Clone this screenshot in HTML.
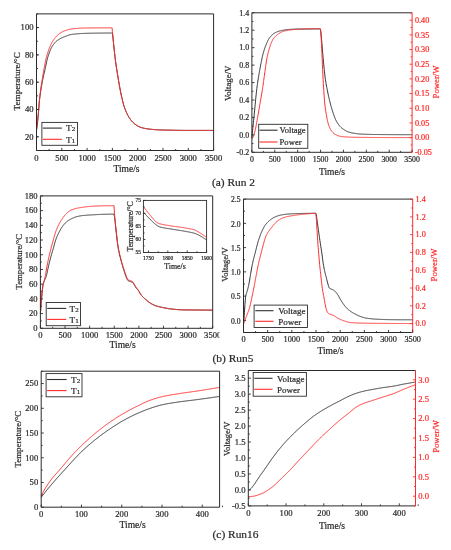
<!DOCTYPE html>
<html><head><meta charset="utf-8"><title>Figure</title>
<style>
html,body{margin:0;padding:0;background:#fff;}
body{width:451px;height:550px;overflow:hidden;}
svg{display:block;}
text{font-family:'Liberation Serif', serif;}
</style></head>
<body>
<svg width="451" height="550" viewBox="0 0 451 550">
<rect width="451" height="550" fill="#fff"/>
<g>
<polyline points="36.50,130.01 36.69,128.82 36.88,127.53 37.01,126.59 37.07,126.11 37.26,124.56 37.45,122.90 37.64,121.15 37.83,119.32 38.02,117.43 38.21,115.49 38.32,114.30 38.40,113.51 38.59,111.32 38.78,108.97 38.96,106.57 39.15,104.21 39.34,102.00 39.53,100.04 39.59,99.55 39.72,98.35 39.91,96.79 40.10,95.32 40.29,93.94 40.48,92.62 40.67,91.36 40.86,90.14 41.05,88.96 41.10,88.62 41.24,87.80 41.43,86.68 41.62,85.59 41.81,84.55 42.00,83.53 42.19,82.54 42.38,81.57 42.57,80.62 42.76,79.68 42.80,79.47 42.95,78.76 43.14,77.86 43.33,76.98 43.51,76.12 43.70,75.28 43.89,74.44 44.08,73.62 44.27,72.79 44.46,71.97 44.65,71.14 44.84,70.30 44.90,70.04 45.03,69.45 45.22,68.57 45.41,67.67 45.60,66.76 45.79,65.85 45.98,64.93 46.17,64.01 46.36,63.11 46.55,62.22 46.74,61.35 46.93,60.51 47.12,59.70 47.31,58.93 47.50,58.21 47.69,57.53 47.78,57.20 47.88,56.90 48.07,56.29 48.25,55.70 48.44,55.11 48.63,54.54 48.82,53.98 49.01,53.44 49.20,52.91 49.39,52.39 49.58,51.89 49.77,51.39 49.96,50.92 50.15,50.46 50.34,50.01 50.53,49.57 50.72,49.16 50.91,48.75 51.10,48.36 51.29,47.99 51.48,47.63 51.67,47.29 51.78,47.09 51.86,46.96 52.05,46.65 52.24,46.33 52.43,46.03 52.62,45.73 52.80,45.44 52.99,45.15 53.18,44.87 53.37,44.60 53.56,44.34 53.75,44.08 53.94,43.82 54.13,43.58 54.32,43.34 54.51,43.11 54.70,42.89 54.89,42.67 55.08,42.46 55.27,42.26 55.46,42.06 55.65,41.88 55.84,41.70 56.03,41.52 56.22,41.36 56.39,41.22 56.41,41.20 56.60,41.05 56.79,40.90 56.98,40.75 57.17,40.61 57.36,40.47 57.54,40.33 57.73,40.20 57.92,40.07 58.11,39.94 58.30,39.81 58.49,39.69 58.68,39.57 58.87,39.45 59.06,39.33 59.25,39.22 59.44,39.11 59.63,39.00 59.82,38.89 60.01,38.79 60.20,38.68 60.39,38.58 60.58,38.48 60.77,38.38 60.96,38.29 61.15,38.19 61.34,38.10 61.53,38.01 61.72,37.92 61.91,37.83 62.09,37.74 62.28,37.66 62.47,37.57 62.66,37.49 62.85,37.41 63.04,37.32 63.23,37.24 63.42,37.16 63.52,37.12 63.61,37.08 63.80,37.00 63.99,36.92 64.18,36.85 64.37,36.77 64.56,36.69 64.75,36.61 64.94,36.53 65.13,36.45 65.32,36.37 65.51,36.30 65.70,36.22 65.89,36.14 66.08,36.07 66.27,35.99 66.46,35.92 66.65,35.85 66.83,35.77 67.02,35.70 67.21,35.63 67.40,35.56 67.59,35.49 67.78,35.43 67.97,35.36 68.16,35.30 68.35,35.23 68.54,35.17 68.73,35.11 68.92,35.05 69.11,35.00 69.30,34.94 69.49,34.89 69.68,34.84 69.87,34.79 70.06,34.74 70.25,34.69 70.44,34.65 70.63,34.61 70.82,34.57 71.01,34.53 71.20,34.50 71.38,34.47 71.57,34.44 71.76,34.41 71.92,34.39 71.95,34.39 72.14,34.36 72.33,34.34 72.52,34.32 72.71,34.29 72.90,34.27 73.09,34.25 73.28,34.23 73.47,34.20 73.66,34.18 73.85,34.16 74.04,34.14 74.23,34.12 74.42,34.10 74.61,34.08 74.80,34.06 74.99,34.04 75.18,34.02 75.37,34.00 75.56,33.98 75.75,33.96 75.94,33.94 76.12,33.93 76.31,33.91 76.50,33.89 76.69,33.87 76.88,33.86 77.07,33.84 77.26,33.82 77.45,33.81 77.64,33.79 77.83,33.77 78.02,33.76 78.21,33.74 78.40,33.73 78.59,33.71 78.78,33.70 78.97,33.68 79.16,33.67 79.35,33.66 79.54,33.64 79.73,33.63 79.92,33.62 80.11,33.60 80.30,33.59 80.49,33.58 80.67,33.56 80.86,33.55 81.05,33.54 81.24,33.53 81.43,33.52 81.62,33.51 81.81,33.50 82.00,33.49 82.19,33.48 82.38,33.47 82.57,33.46 82.76,33.45 82.95,33.44 83.14,33.43 83.33,33.42 83.52,33.41 83.71,33.40 83.90,33.40 84.09,33.39 84.28,33.38 84.47,33.37 84.66,33.37 84.85,33.36 85.04,33.35 85.23,33.35 85.41,33.34 85.60,33.33 85.79,33.33 85.98,33.32 86.17,33.32 86.36,33.31 86.55,33.31 86.74,33.30 86.93,33.30 87.10,33.30 87.12,33.30 87.31,33.29 87.50,33.29 87.69,33.29 87.88,33.28 88.07,33.28 88.26,33.27 88.45,33.27 88.64,33.27 88.83,33.26 89.02,33.26 89.21,33.26 89.40,33.25 89.59,33.25 89.78,33.25 89.96,33.24 90.15,33.24 90.34,33.24 90.53,33.23 90.72,33.23 90.91,33.22 91.10,33.22 91.29,33.22 91.48,33.21 91.67,33.21 91.86,33.21 92.05,33.21 92.24,33.20 92.43,33.20 92.62,33.20 92.81,33.19 93.00,33.19 93.19,33.19 93.38,33.18 93.57,33.18 93.76,33.18 93.95,33.17 94.14,33.17 94.33,33.17 94.51,33.17 94.70,33.16 94.89,33.16 95.08,33.16 95.27,33.15 95.46,33.15 95.65,33.15 95.84,33.15 96.03,33.14 96.22,33.14 96.41,33.14 96.60,33.14 96.79,33.13 96.98,33.13 97.17,33.13 97.36,33.13 97.55,33.12 97.74,33.12 97.93,33.12 98.12,33.12 98.31,33.11 98.50,33.11 98.69,33.11 98.88,33.11 99.07,33.10 99.25,33.10 99.44,33.10 99.63,33.10 99.82,33.10 100.01,33.09 100.20,33.09 100.39,33.09 100.58,33.09 100.77,33.09 100.96,33.08 101.15,33.08 101.34,33.08 101.53,33.08 101.72,33.08 101.91,33.07 102.10,33.07 102.29,33.07 102.48,33.07 102.67,33.07 102.86,33.07 103.05,33.06 103.24,33.06 103.43,33.06 103.62,33.06 103.80,33.06 103.99,33.06 104.18,33.05 104.37,33.05 104.56,33.05 104.75,33.05 104.94,33.05 105.13,33.05 105.32,33.05 105.51,33.05 105.70,33.04 105.89,33.04 106.08,33.04 106.27,33.04 106.46,33.04 106.65,33.04 106.84,33.04 107.03,33.04 107.22,33.04 107.41,33.03 107.60,33.03 107.79,33.03 107.98,33.03 108.17,33.03 108.36,33.03 108.54,33.03 108.73,33.03 108.92,33.03 109.11,33.03 109.30,33.03 109.49,33.03 109.68,33.03 109.87,33.03 110.06,33.03 110.25,33.03 110.44,33.03 110.63,33.03 110.82,33.02 111.01,33.02 111.20,33.02 111.39,33.02 111.58,33.02 111.77,33.02 111.96,33.02 112.15,33.02" fill="none" stroke="#303030" stroke-width="1.0" stroke-linejoin="round"/>
<polyline points="112.15,33.02 112.25,33.02 112.40,33.02 112.66,34.55 112.91,37.08 113.16,39.50 113.31,40.95 113.42,42.04 113.67,44.59 113.93,47.09 114.18,49.51 114.42,51.74 114.44,51.84 114.69,54.10 114.94,56.30 115.20,58.43 115.45,60.48 115.71,62.42 115.74,62.67 115.96,64.26 116.22,66.00 116.47,67.68 116.72,69.31 116.98,70.91 117.23,72.49 117.41,73.59 117.49,74.08 117.74,75.66 118.00,77.23 118.25,78.78 118.50,80.31 118.76,81.81 119.01,83.28 119.27,84.71 119.28,84.80 119.52,86.11 119.78,87.50 120.03,88.86 120.28,90.20 120.54,91.51 120.79,92.77 121.05,93.99 121.30,95.15 121.31,95.18 121.55,96.29 121.81,97.42 122.06,98.53 122.32,99.62 122.57,100.69 122.83,101.73 123.08,102.74 123.33,103.71 123.59,104.63 123.84,105.51 124.10,106.32 124.35,107.08 124.39,107.20 124.61,107.79 124.86,108.49 125.11,109.16 125.37,109.82 125.62,110.46 125.88,111.08 126.13,111.68 126.39,112.27 126.64,112.84 126.89,113.39 127.15,113.93 127.40,114.45 127.66,114.95 127.91,115.44 128.17,115.91 128.42,116.36 128.67,116.80 128.93,117.22 129.18,117.63 129.44,118.02 129.60,118.26 129.69,118.39 129.95,118.75 130.20,119.11 130.45,119.46 130.71,119.79 130.96,120.12 131.22,120.44 131.47,120.75 131.73,121.05 131.98,121.35 132.23,121.63 132.49,121.91 132.74,122.17 133.00,122.43 133.25,122.68 133.51,122.92 133.76,123.15 134.01,123.37 134.27,123.59 134.52,123.79 134.61,123.86 134.78,123.99 135.03,124.18 135.29,124.37 135.54,124.56 135.79,124.74 136.05,124.92 136.30,125.10 136.56,125.27 136.81,125.43 137.07,125.59 137.32,125.75 137.57,125.90 137.83,126.05 138.08,126.19 138.34,126.33 138.59,126.46 138.85,126.58 139.10,126.70 139.35,126.82 139.61,126.92 139.86,127.02 140.12,127.12 140.18,127.14 140.37,127.21 140.63,127.30 140.88,127.38 141.13,127.46 141.39,127.54 141.64,127.62 141.90,127.70 142.15,127.77 142.40,127.85 142.66,127.92 142.91,127.99 143.17,128.05 143.42,128.12 143.68,128.18 143.93,128.24 144.18,128.30 144.44,128.35 144.69,128.41 144.95,128.46 145.20,128.51 145.46,128.56 145.71,128.61 145.96,128.65 146.22,128.69 146.47,128.73 146.73,128.77 146.81,128.78 146.98,128.81 147.24,128.84 147.49,128.88 147.74,128.91 148.00,128.94 148.25,128.98 148.51,129.01 148.76,129.04 149.02,129.07 149.27,129.10 149.52,129.13 149.78,129.16 150.03,129.19 150.29,129.22 150.54,129.24 150.80,129.27 151.05,129.30 151.30,129.32 151.56,129.35 151.81,129.37 152.07,129.40 152.32,129.42 152.58,129.44 152.83,129.46 153.08,129.49 153.34,129.51 153.59,129.53 153.85,129.55 154.10,129.57 154.36,129.58 154.61,129.60 154.86,129.62 155.12,129.64 155.37,129.65 155.63,129.67 155.88,129.69 156.14,129.70 156.39,129.72 156.64,129.73 156.78,129.74 156.90,129.74 157.15,129.76 157.41,129.77 157.66,129.78 157.92,129.80 158.17,129.81 158.42,129.82 158.68,129.83 158.93,129.84 159.19,129.86 159.44,129.87 159.70,129.88 159.95,129.89 160.20,129.90 160.46,129.91 160.71,129.92 160.97,129.93 161.22,129.94 161.48,129.95 161.73,129.96 161.98,129.97 162.24,129.98 162.49,129.99 162.75,130.00 163.00,130.01 163.25,130.02 163.51,130.03 163.76,130.03 164.02,130.04 164.27,130.05 164.53,130.06 164.78,130.07 165.03,130.07 165.29,130.08 165.54,130.09 165.80,130.09 166.05,130.10 166.31,130.11 166.56,130.11 166.81,130.12 167.07,130.13 167.32,130.13 167.58,130.14 167.83,130.14 168.01,130.15 168.09,130.15 168.34,130.15 168.59,130.16 168.85,130.16 169.10,130.17 169.36,130.17 169.61,130.18 169.87,130.18 170.12,130.19 170.37,130.19 170.63,130.20 170.88,130.21 171.14,130.21 171.39,130.22 171.65,130.22 171.90,130.23 172.15,130.23 172.41,130.24 172.66,130.24 172.92,130.24 173.17,130.25 173.43,130.25 173.68,130.26 173.93,130.26 174.19,130.27 174.44,130.27 174.70,130.28 174.95,130.28 175.21,130.29 175.46,130.29 175.71,130.30 175.97,130.30 176.22,130.30 176.48,130.31 176.73,130.31 176.99,130.32 177.24,130.32 177.49,130.33 177.75,130.33 178.00,130.33 178.26,130.34 178.51,130.34 178.77,130.34 179.02,130.35 179.27,130.35 179.53,130.36 179.78,130.36 180.04,130.36 180.29,130.37 180.55,130.37 180.80,130.37 181.05,130.37 181.31,130.38 181.56,130.38 181.82,130.38 182.07,130.39 182.33,130.39 182.58,130.39 182.83,130.39 183.09,130.40 183.34,130.40 183.60,130.40 183.85,130.40 184.10,130.40 184.36,130.41 184.61,130.41 184.87,130.41 185.12,130.41 185.38,130.41 185.63,130.41 185.88,130.41 186.14,130.42 186.39,130.42 186.65,130.42 186.90,130.42 187.16,130.42 187.41,130.42 187.66,130.42 187.92,130.42 188.17,130.42 188.30,130.42 188.43,130.42 188.68,130.42 188.94,130.42 189.19,130.42 189.44,130.42 189.70,130.42 189.95,130.42 190.21,130.42 190.46,130.42 190.72,130.42 190.97,130.42 191.22,130.42 191.48,130.42 191.73,130.42 191.99,130.42 192.24,130.42 192.50,130.42 192.75,130.42 193.00,130.42 193.26,130.42 193.51,130.42 193.77,130.42 194.02,130.42 194.28,130.42 194.53,130.42 194.78,130.42 195.04,130.42 195.29,130.42 195.55,130.42 195.80,130.42 196.06,130.42 196.31,130.42 196.56,130.42 196.82,130.42 197.07,130.42 197.33,130.42 197.58,130.42 197.84,130.42 198.09,130.42 198.34,130.42 198.60,130.42 198.85,130.42 199.11,130.42 199.36,130.42 199.62,130.42 199.87,130.42 200.12,130.42 200.38,130.42 200.63,130.42 200.89,130.42 201.14,130.42 201.40,130.42 201.65,130.42 201.90,130.42 202.16,130.42 202.41,130.42 202.67,130.42 202.92,130.42 203.18,130.42 203.43,130.42 203.68,130.42 203.94,130.42 204.19,130.42 204.45,130.42 204.70,130.42 204.95,130.42 205.21,130.42 205.46,130.42 205.72,130.42 205.97,130.42 206.23,130.42 206.48,130.42 206.73,130.42 206.99,130.42 207.24,130.42 207.50,130.42 207.75,130.42 208.01,130.42 208.26,130.42 208.51,130.42 208.77,130.42 209.02,130.42 209.28,130.42 209.53,130.42 209.79,130.42 210.04,130.42 210.29,130.42 210.55,130.42 210.80,130.42 211.06,130.42 211.31,130.42 211.57,130.42 211.82,130.42 212.07,130.42 212.33,130.42 212.58,130.42 212.84,130.42 213.09,130.42 213.35,130.42 213.60,130.42" fill="none" stroke="#303030" stroke-width="1.0" stroke-linejoin="round"/>
<polyline points="36.50,130.01 36.69,128.84 36.88,127.55 37.01,126.59 37.07,126.10 37.26,124.48 37.45,122.73 37.64,120.86 37.83,118.91 38.02,116.90 38.21,114.86 38.32,113.62 38.40,112.80 38.59,110.57 38.78,108.21 38.96,105.80 39.15,103.42 39.34,101.17 39.53,99.12 39.59,98.59 39.72,97.29 39.91,95.57 40.10,93.93 40.29,92.36 40.48,90.85 40.67,89.41 40.86,88.02 41.05,86.68 41.10,86.30 41.24,85.38 41.43,84.14 41.62,82.96 41.81,81.83 42.00,80.72 42.19,79.62 42.38,78.53 42.57,77.43 42.76,76.31 42.80,76.05 42.95,75.16 43.14,73.98 43.33,72.80 43.51,71.64 43.70,70.52 43.89,69.50 43.89,69.46 44.08,68.44 44.27,67.42 44.46,66.42 44.65,65.43 44.84,64.45 45.03,63.50 45.22,62.56 45.41,61.65 45.60,60.77 45.79,59.91 45.98,59.08 46.17,58.29 46.36,57.54 46.52,56.93 46.55,56.82 46.74,56.13 46.93,55.45 47.12,54.80 47.31,54.16 47.50,53.54 47.69,52.93 47.88,52.34 48.07,51.76 48.25,51.20 48.44,50.65 48.63,50.12 48.82,49.60 49.01,49.09 49.20,48.60 49.39,48.11 49.58,47.64 49.77,47.18 49.81,47.09 49.96,46.73 50.15,46.28 50.34,45.85 50.53,45.41 50.72,44.99 50.91,44.57 51.10,44.17 51.29,43.77 51.48,43.38 51.67,43.00 51.86,42.64 52.05,42.28 52.24,41.94 52.43,41.61 52.62,41.29 52.80,40.98 52.99,40.69 53.10,40.54 53.18,40.41 53.37,40.14 53.56,39.87 53.75,39.60 53.94,39.34 54.13,39.09 54.32,38.83 54.51,38.59 54.70,38.34 54.89,38.10 55.08,37.87 55.27,37.64 55.46,37.41 55.65,37.19 55.84,36.97 56.03,36.76 56.22,36.55 56.41,36.35 56.60,36.15 56.79,35.95 56.98,35.76 57.17,35.57 57.36,35.39 57.54,35.21 57.73,35.04 57.92,34.87 58.11,34.70 58.30,34.54 58.49,34.39 58.68,34.24 58.87,34.09 59.02,33.98 59.06,33.95 59.25,33.81 59.44,33.67 59.63,33.54 59.82,33.40 60.01,33.27 60.20,33.14 60.39,33.02 60.58,32.90 60.77,32.77 60.96,32.66 61.15,32.54 61.34,32.43 61.53,32.32 61.72,32.21 61.91,32.10 62.09,32.00 62.28,31.90 62.47,31.80 62.66,31.70 62.85,31.61 63.04,31.52 63.23,31.43 63.42,31.35 63.61,31.26 63.80,31.18 63.99,31.11 64.18,31.03 64.33,30.98 64.37,30.96 64.56,30.89 64.75,30.82 64.94,30.75 65.13,30.68 65.32,30.61 65.51,30.55 65.70,30.48 65.89,30.41 66.08,30.35 66.27,30.28 66.46,30.22 66.65,30.16 66.83,30.09 67.02,30.03 67.21,29.97 67.40,29.91 67.59,29.86 67.78,29.80 67.97,29.74 68.16,29.69 68.35,29.64 68.54,29.59 68.73,29.53 68.92,29.49 69.11,29.44 69.30,29.39 69.49,29.35 69.68,29.30 69.87,29.26 70.06,29.22 70.25,29.18 70.44,29.15 70.63,29.11 70.82,29.08 71.01,29.05 71.20,29.02 71.38,28.99 71.57,28.97 71.76,28.94 71.92,28.93 71.95,28.92 72.14,28.90 72.33,28.88 72.52,28.86 72.71,28.84 72.90,28.82 73.09,28.80 73.28,28.78 73.47,28.76 73.66,28.74 73.85,28.72 74.04,28.71 74.23,28.69 74.42,28.67 74.61,28.65 74.80,28.63 74.99,28.62 75.18,28.60 75.37,28.58 75.56,28.56 75.75,28.55 75.94,28.53 76.12,28.51 76.31,28.50 76.50,28.48 76.69,28.47 76.88,28.45 77.07,28.44 77.26,28.42 77.45,28.41 77.64,28.39 77.83,28.38 78.02,28.36 78.21,28.35 78.40,28.34 78.59,28.32 78.78,28.31 78.97,28.30 79.16,28.28 79.35,28.27 79.54,28.26 79.73,28.25 79.92,28.23 80.11,28.22 80.30,28.21 80.49,28.20 80.67,28.19 80.86,28.18 81.05,28.17 81.24,28.16 81.43,28.15 81.62,28.14 81.81,28.13 82.00,28.12 82.19,28.11 82.38,28.10 82.57,28.09 82.76,28.09 82.95,28.08 83.14,28.07 83.33,28.06 83.52,28.06 83.71,28.05 83.90,28.04 84.09,28.04 84.28,28.03 84.47,28.02 84.66,28.02 84.85,28.01 85.04,28.01 85.23,28.00 85.41,28.00 85.60,27.99 85.79,27.99 85.98,27.99 86.17,27.98 86.36,27.98 86.55,27.98 86.74,27.97 86.93,27.97 87.10,27.97 87.12,27.97 87.31,27.97 87.50,27.97 87.69,27.96 87.88,27.96 88.07,27.96 88.26,27.96 88.45,27.96 88.64,27.95 88.83,27.95 89.02,27.95 89.21,27.95 89.40,27.95 89.59,27.94 89.78,27.94 89.96,27.94 90.15,27.94 90.34,27.94 90.53,27.94 90.72,27.93 90.91,27.93 91.10,27.93 91.29,27.93 91.48,27.93 91.67,27.92 91.86,27.92 92.05,27.92 92.24,27.92 92.43,27.92 92.62,27.92 92.81,27.92 93.00,27.91 93.19,27.91 93.38,27.91 93.57,27.91 93.76,27.91 93.95,27.91 94.14,27.90 94.33,27.90 94.51,27.90 94.70,27.90 94.89,27.90 95.08,27.90 95.27,27.90 95.46,27.89 95.65,27.89 95.84,27.89 96.03,27.89 96.22,27.89 96.41,27.89 96.60,27.89 96.79,27.89 96.98,27.88 97.17,27.88 97.36,27.88 97.55,27.88 97.74,27.88 97.93,27.88 98.12,27.88 98.31,27.88 98.50,27.87 98.69,27.87 98.88,27.87 99.07,27.87 99.25,27.87 99.44,27.87 99.63,27.87 99.82,27.87 100.01,27.87 100.20,27.86 100.39,27.86 100.58,27.86 100.77,27.86 100.96,27.86 101.15,27.86 101.34,27.86 101.53,27.86 101.72,27.86 101.91,27.86 102.10,27.86 102.29,27.85 102.48,27.85 102.67,27.85 102.86,27.85 103.05,27.85 103.24,27.85 103.43,27.85 103.62,27.85 103.80,27.85 103.99,27.85 104.18,27.85 104.37,27.85 104.56,27.85 104.75,27.85 104.94,27.84 105.13,27.84 105.32,27.84 105.51,27.84 105.70,27.84 105.89,27.84 106.08,27.84 106.27,27.84 106.46,27.84 106.65,27.84 106.84,27.84 107.03,27.84 107.22,27.84 107.41,27.84 107.60,27.84 107.79,27.84 107.98,27.84 108.17,27.84 108.36,27.84 108.54,27.84 108.73,27.84 108.92,27.84 109.11,27.84 109.30,27.83 109.49,27.83 109.68,27.83 109.87,27.83 110.06,27.83 110.25,27.83 110.44,27.83 110.63,27.83 110.82,27.83 111.01,27.83 111.20,27.83 111.39,27.83 111.58,27.83 111.77,27.83 111.96,27.83 112.15,27.83" fill="none" stroke="#ff2a2a" stroke-width="1.0" stroke-linejoin="round"/>
<polyline points="112.15,27.83 112.25,29.61 112.40,31.65 112.66,34.55 112.91,37.08 113.16,39.50 113.31,40.95 113.42,42.04 113.67,44.59 113.93,47.09 114.18,49.51 114.42,51.74 114.44,51.84 114.69,54.10 114.94,56.30 115.20,58.43 115.45,60.48 115.71,62.42 115.74,62.67 115.96,64.26 116.22,66.00 116.47,67.68 116.72,69.31 116.98,70.91 117.23,72.49 117.41,73.59 117.49,74.08 117.74,75.66 118.00,77.23 118.25,78.78 118.50,80.31 118.76,81.81 119.01,83.28 119.27,84.71 119.28,84.80 119.52,86.11 119.78,87.50 120.03,88.86 120.28,90.20 120.54,91.51 120.79,92.77 121.05,93.99 121.30,95.15 121.31,95.18 121.55,96.29 121.81,97.42 122.06,98.53 122.32,99.62 122.57,100.69 122.83,101.73 123.08,102.74 123.33,103.71 123.59,104.63 123.84,105.51 124.10,106.32 124.35,107.08 124.39,107.20 124.61,107.79 124.86,108.49 125.11,109.16 125.37,109.82 125.62,110.46 125.88,111.08 126.13,111.68 126.39,112.27 126.64,112.84 126.89,113.39 127.15,113.93 127.40,114.45 127.66,114.95 127.91,115.44 128.17,115.91 128.42,116.36 128.67,116.80 128.93,117.22 129.18,117.63 129.44,118.02 129.60,118.26 129.69,118.39 129.95,118.75 130.20,119.11 130.45,119.46 130.71,119.79 130.96,120.12 131.22,120.44 131.47,120.75 131.73,121.05 131.98,121.35 132.23,121.63 132.49,121.91 132.74,122.17 133.00,122.43 133.25,122.68 133.51,122.92 133.76,123.15 134.01,123.37 134.27,123.59 134.52,123.79 134.61,123.86 134.78,123.99 135.03,124.18 135.29,124.37 135.54,124.56 135.79,124.74 136.05,124.92 136.30,125.10 136.56,125.27 136.81,125.43 137.07,125.59 137.32,125.75 137.57,125.90 137.83,126.05 138.08,126.19 138.34,126.33 138.59,126.46 138.85,126.58 139.10,126.70 139.35,126.82 139.61,126.92 139.86,127.02 140.12,127.12 140.18,127.14 140.37,127.21 140.63,127.30 140.88,127.38 141.13,127.46 141.39,127.54 141.64,127.62 141.90,127.70 142.15,127.77 142.40,127.85 142.66,127.92 142.91,127.99 143.17,128.05 143.42,128.12 143.68,128.18 143.93,128.24 144.18,128.30 144.44,128.35 144.69,128.41 144.95,128.46 145.20,128.51 145.46,128.56 145.71,128.61 145.96,128.65 146.22,128.69 146.47,128.73 146.73,128.77 146.81,128.78 146.98,128.81 147.24,128.84 147.49,128.88 147.74,128.91 148.00,128.94 148.25,128.98 148.51,129.01 148.76,129.04 149.02,129.07 149.27,129.10 149.52,129.13 149.78,129.16 150.03,129.19 150.29,129.22 150.54,129.24 150.80,129.27 151.05,129.30 151.30,129.32 151.56,129.35 151.81,129.37 152.07,129.40 152.32,129.42 152.58,129.44 152.83,129.46 153.08,129.49 153.34,129.51 153.59,129.53 153.85,129.55 154.10,129.57 154.36,129.58 154.61,129.60 154.86,129.62 155.12,129.64 155.37,129.65 155.63,129.67 155.88,129.69 156.14,129.70 156.39,129.72 156.64,129.73 156.78,129.74 156.90,129.74 157.15,129.76 157.41,129.77 157.66,129.78 157.92,129.80 158.17,129.81 158.42,129.82 158.68,129.83 158.93,129.84 159.19,129.86 159.44,129.87 159.70,129.88 159.95,129.89 160.20,129.90 160.46,129.91 160.71,129.92 160.97,129.93 161.22,129.94 161.48,129.95 161.73,129.96 161.98,129.97 162.24,129.98 162.49,129.99 162.75,130.00 163.00,130.01 163.25,130.02 163.51,130.03 163.76,130.03 164.02,130.04 164.27,130.05 164.53,130.06 164.78,130.07 165.03,130.07 165.29,130.08 165.54,130.09 165.80,130.09 166.05,130.10 166.31,130.11 166.56,130.11 166.81,130.12 167.07,130.13 167.32,130.13 167.58,130.14 167.83,130.14 168.01,130.15 168.09,130.15 168.34,130.15 168.59,130.16 168.85,130.16 169.10,130.17 169.36,130.17 169.61,130.18 169.87,130.18 170.12,130.19 170.37,130.19 170.63,130.20 170.88,130.21 171.14,130.21 171.39,130.22 171.65,130.22 171.90,130.23 172.15,130.23 172.41,130.24 172.66,130.24 172.92,130.24 173.17,130.25 173.43,130.25 173.68,130.26 173.93,130.26 174.19,130.27 174.44,130.27 174.70,130.28 174.95,130.28 175.21,130.29 175.46,130.29 175.71,130.30 175.97,130.30 176.22,130.30 176.48,130.31 176.73,130.31 176.99,130.32 177.24,130.32 177.49,130.33 177.75,130.33 178.00,130.33 178.26,130.34 178.51,130.34 178.77,130.34 179.02,130.35 179.27,130.35 179.53,130.36 179.78,130.36 180.04,130.36 180.29,130.37 180.55,130.37 180.80,130.37 181.05,130.37 181.31,130.38 181.56,130.38 181.82,130.38 182.07,130.39 182.33,130.39 182.58,130.39 182.83,130.39 183.09,130.40 183.34,130.40 183.60,130.40 183.85,130.40 184.10,130.40 184.36,130.41 184.61,130.41 184.87,130.41 185.12,130.41 185.38,130.41 185.63,130.41 185.88,130.41 186.14,130.42 186.39,130.42 186.65,130.42 186.90,130.42 187.16,130.42 187.41,130.42 187.66,130.42 187.92,130.42 188.17,130.42 188.30,130.42 188.43,130.42 188.68,130.42 188.94,130.42 189.19,130.42 189.44,130.42 189.70,130.42 189.95,130.42 190.21,130.42 190.46,130.42 190.72,130.42 190.97,130.42 191.22,130.42 191.48,130.42 191.73,130.42 191.99,130.42 192.24,130.42 192.50,130.42 192.75,130.42 193.00,130.42 193.26,130.42 193.51,130.42 193.77,130.42 194.02,130.42 194.28,130.42 194.53,130.42 194.78,130.42 195.04,130.42 195.29,130.42 195.55,130.42 195.80,130.42 196.06,130.42 196.31,130.42 196.56,130.42 196.82,130.42 197.07,130.42 197.33,130.42 197.58,130.42 197.84,130.42 198.09,130.42 198.34,130.42 198.60,130.42 198.85,130.42 199.11,130.42 199.36,130.42 199.62,130.42 199.87,130.42 200.12,130.42 200.38,130.42 200.63,130.42 200.89,130.42 201.14,130.42 201.40,130.42 201.65,130.42 201.90,130.42 202.16,130.42 202.41,130.42 202.67,130.42 202.92,130.42 203.18,130.42 203.43,130.42 203.68,130.42 203.94,130.42 204.19,130.42 204.45,130.42 204.70,130.42 204.95,130.42 205.21,130.42 205.46,130.42 205.72,130.42 205.97,130.42 206.23,130.42 206.48,130.42 206.73,130.42 206.99,130.42 207.24,130.42 207.50,130.42 207.75,130.42 208.01,130.42 208.26,130.42 208.51,130.42 208.77,130.42 209.02,130.42 209.28,130.42 209.53,130.42 209.79,130.42 210.04,130.42 210.29,130.42 210.55,130.42 210.80,130.42 211.06,130.42 211.31,130.42 211.57,130.42 211.82,130.42 212.07,130.42 212.33,130.42 212.58,130.42 212.84,130.42 213.09,130.42 213.35,130.42 213.60,130.42" fill="none" stroke="#ff2a2a" stroke-width="1.0" stroke-linejoin="round"/>
</g>
<path d="M36.50,150.50V13.90H213.60" fill="none" stroke="#2b2b2b" stroke-width="1.0"/>
<path d="M36.50,150.50H213.60" fill="none" stroke="#2b2b2b" stroke-width="1.0"/>
<path d="M213.60,13.90V150.50" fill="none" stroke="#2b2b2b" stroke-width="1.0"/>
<path d="M36.50,150.50h1.5M36.50,136.84h1.5M36.50,123.18h1.5M36.50,109.52h1.5M36.50,95.86h1.5M36.50,82.20h1.5M36.50,68.54h1.5M36.50,54.88h1.5M36.50,41.22h1.5M36.50,27.56h1.5M36.50,13.90h1.5M36.50,136.84h2.6M36.50,109.52h2.6M36.50,82.20h2.6M36.50,54.88h2.6M36.50,27.56h2.6" stroke="#2b2b2b" stroke-width="0.9" fill="none"/>
<text stroke="#2b2b2b" stroke-width="0.22" x="33.50" y="139.64" font-size="8.6" text-anchor="end" fill="#2b2b2b">20</text>
<text stroke="#2b2b2b" stroke-width="0.22" x="33.50" y="112.32" font-size="8.6" text-anchor="end" fill="#2b2b2b">40</text>
<text stroke="#2b2b2b" stroke-width="0.22" x="33.50" y="85.00" font-size="8.6" text-anchor="end" fill="#2b2b2b">60</text>
<text stroke="#2b2b2b" stroke-width="0.22" x="33.50" y="57.68" font-size="8.6" text-anchor="end" fill="#2b2b2b">80</text>
<text stroke="#2b2b2b" stroke-width="0.22" x="33.50" y="30.36" font-size="8.6" text-anchor="end" fill="#2b2b2b">100</text>
<path d="M49.15,150.50v-1.5M74.45,150.50v-1.5M99.75,150.50v-1.5M125.05,150.50v-1.5M150.35,150.50v-1.5M175.65,150.50v-1.5M200.95,150.50v-1.5M36.50,150.50v-2.6M61.80,150.50v-2.6M87.10,150.50v-2.6M112.40,150.50v-2.6M137.70,150.50v-2.6M163.00,150.50v-2.6M188.30,150.50v-2.6M213.60,150.50v-2.6" stroke="#2b2b2b" stroke-width="0.9" fill="none"/>
<text stroke="#2b2b2b" stroke-width="0.22" x="36.50" y="160.90" font-size="8.6" text-anchor="middle" fill="#2b2b2b">0</text>
<text stroke="#2b2b2b" stroke-width="0.22" x="61.80" y="160.90" font-size="8.6" text-anchor="middle" fill="#2b2b2b">500</text>
<text stroke="#2b2b2b" stroke-width="0.22" x="87.10" y="160.90" font-size="8.6" text-anchor="middle" fill="#2b2b2b">1000</text>
<text stroke="#2b2b2b" stroke-width="0.22" x="112.40" y="160.90" font-size="8.6" text-anchor="middle" fill="#2b2b2b">1500</text>
<text stroke="#2b2b2b" stroke-width="0.22" x="137.70" y="160.90" font-size="8.6" text-anchor="middle" fill="#2b2b2b">2000</text>
<text stroke="#2b2b2b" stroke-width="0.22" x="163.00" y="160.90" font-size="8.6" text-anchor="middle" fill="#2b2b2b">2500</text>
<text stroke="#2b2b2b" stroke-width="0.22" x="188.30" y="160.90" font-size="8.6" text-anchor="middle" fill="#2b2b2b">3000</text>
<text stroke="#2b2b2b" stroke-width="0.22" x="213.60" y="160.90" font-size="8.6" text-anchor="middle" fill="#2b2b2b">3500</text>
<rect x="41.90" y="122.40" width="35.60" height="22.90" fill="#fff" stroke="#2b2b2b" stroke-width="0.9"/>
<path d="M42.90,128.10h19.00" stroke="#303030" stroke-width="1.1"/>
<text stroke="#2b2b2b" stroke-width="0.22" x="66.00" y="131.30" font-size="9.2" fill="#2b2b2b">T<tspan font-size="7">2</tspan></text>
<path d="M42.90,139.30h19.00" stroke="#ff2a2a" stroke-width="1.1"/>
<text stroke="#2b2b2b" stroke-width="0.22" x="66.00" y="142.50" font-size="9.2" fill="#2b2b2b">T<tspan font-size="7">1</tspan></text>
<text stroke="#2b2b2b" stroke-width="0.22" x="19.70" y="81.30" font-size="9.15" text-anchor="middle" fill="#2b2b2b" transform="rotate(-90 19.70 81.30)">Temperature/°C</text>
<text stroke="#2b2b2b" stroke-width="0.22" x="126.50" y="171.50" font-size="9.5" text-anchor="middle" fill="#2b2b2b">Time/s</text>
<polyline points="251.90,138.11 252.07,136.10 252.24,134.14 252.41,132.26 252.59,130.47 252.76,128.76 252.93,127.11 253.10,125.50 253.27,123.91 253.44,122.31 253.61,120.70 253.79,119.04 253.96,117.34 254.13,115.59 254.30,113.79 254.47,111.96 254.64,110.12 254.82,108.28 254.99,106.46 255.16,104.66 255.33,102.89 255.50,101.13 255.67,99.39 255.84,97.67 256.02,95.97 256.19,94.31 256.36,92.71 256.53,91.17 256.70,89.71 256.87,88.31 257.04,86.98 257.22,85.71 257.39,84.48 257.56,83.29 257.73,82.13 257.90,81.01 258.07,79.91 258.25,78.83 258.42,77.77 258.59,76.72 258.76,75.68 258.93,74.65 259.10,73.64 259.27,72.63 259.45,71.64 259.62,70.66 259.79,69.69 259.96,68.74 260.13,67.81 260.30,66.88 260.47,65.97 260.65,65.06 260.82,64.17 260.99,63.29 261.16,62.42 261.33,61.56 261.50,60.70 261.68,59.85 261.85,59.01 262.02,58.19 262.19,57.39 262.36,56.63 262.53,55.90 262.70,55.20 262.88,54.54 263.05,53.90 263.22,53.28 263.39,52.67 263.56,52.08 263.73,51.49 263.90,50.92 264.08,50.37 264.25,49.82 264.42,49.29 264.59,48.77 264.76,48.26 264.93,47.76 265.11,47.27 265.28,46.79 265.45,46.32 265.62,45.87 265.79,45.42 265.96,44.98 266.13,44.56 266.31,44.14 266.48,43.73 266.65,43.32 266.82,42.92 266.99,42.53 267.16,42.15 267.33,41.77 267.51,41.40 267.68,41.04 267.85,40.70 268.02,40.36 268.19,40.04 268.36,39.72 268.54,39.43 268.71,39.14 268.88,38.88 269.05,38.62 269.22,38.38 269.39,38.14 269.56,37.91 269.74,37.68 269.91,37.46 270.08,37.24 270.25,37.03 270.42,36.82 270.59,36.61 270.76,36.41 270.94,36.21 271.11,36.02 271.28,35.83 271.45,35.64 271.62,35.46 271.79,35.28 271.97,35.11 272.14,34.94 272.31,34.77 272.48,34.61 272.65,34.46 272.82,34.31 272.99,34.16 273.17,34.02 273.34,33.88 273.51,33.75 273.68,33.63 273.85,33.51 274.02,33.39 274.19,33.28 274.37,33.17 274.54,33.07 274.71,32.97 274.88,32.88 275.05,32.78 275.22,32.69 275.40,32.60 275.57,32.52 275.74,32.43 275.91,32.35 276.08,32.27 276.25,32.19 276.42,32.11 276.60,32.04 276.77,31.96 276.94,31.89 277.11,31.82 277.28,31.75 277.45,31.69 277.62,31.62 277.80,31.56 277.97,31.50 278.14,31.44 278.31,31.38 278.48,31.32 278.65,31.27 278.83,31.22 279.00,31.16 279.17,31.11 279.34,31.07 279.51,31.02 279.68,30.97 279.85,30.93 280.03,30.89 280.20,30.85 280.37,30.81 280.54,30.77 280.71,30.73 280.88,30.69 281.05,30.65 281.23,30.61 281.40,30.58 281.57,30.54 281.74,30.50 281.91,30.47 282.08,30.43 282.26,30.39 282.43,30.36 282.60,30.33 282.77,30.29 282.94,30.26 283.11,30.23 283.28,30.19 283.46,30.16 283.63,30.13 283.80,30.10 283.97,30.07 284.14,30.04 284.31,30.01 284.48,29.98 284.66,29.95 284.83,29.93 285.00,29.90 285.17,29.87 285.34,29.85 285.51,29.82 285.69,29.80 285.86,29.77 286.03,29.75 286.20,29.73 286.37,29.70 286.54,29.68 286.71,29.66 286.89,29.64 287.06,29.62 287.23,29.60 287.40,29.59 287.57,29.57 287.74,29.55 287.91,29.54 288.09,29.52 288.26,29.51 288.43,29.49 288.60,29.48 288.77,29.47 288.94,29.46 289.12,29.44 289.29,29.43 289.46,29.42 289.63,29.41 289.80,29.40 289.97,29.39 290.14,29.38 290.32,29.37 290.49,29.36 290.66,29.35 290.83,29.34 291.00,29.33 291.17,29.32 291.34,29.32 291.52,29.31 291.69,29.30 291.86,29.29 292.03,29.28 292.20,29.27 292.37,29.27 292.55,29.26 292.72,29.25 292.89,29.24 293.06,29.24 293.23,29.23 293.40,29.22 293.57,29.21 293.75,29.21 293.92,29.20 294.09,29.20 294.26,29.19 294.43,29.18 294.60,29.18 294.77,29.17 294.95,29.17 295.12,29.16 295.29,29.16 295.46,29.15 295.63,29.15 295.80,29.14 295.98,29.14 296.15,29.13 296.32,29.13 296.49,29.13 296.66,29.12 296.83,29.12 297.00,29.12 297.18,29.11 297.35,29.11 297.52,29.11 297.69,29.10 297.86,29.10 298.03,29.10 298.20,29.10 298.38,29.09 298.55,29.09 298.72,29.09 298.89,29.09 299.06,29.08 299.23,29.08 299.41,29.08 299.58,29.08 299.75,29.08 299.92,29.07 300.09,29.07 300.26,29.07 300.43,29.07 300.61,29.06 300.78,29.06 300.95,29.06 301.12,29.06 301.29,29.06 301.46,29.05 301.63,29.05 301.81,29.05 301.98,29.05 302.15,29.04 302.32,29.04 302.49,29.04 302.66,29.04 302.84,29.04 303.01,29.03 303.18,29.03 303.35,29.03 303.52,29.03 303.69,29.03 303.86,29.03 304.04,29.02 304.21,29.02 304.38,29.02 304.55,29.02 304.72,29.02 304.89,29.01 305.06,29.01 305.24,29.01 305.41,29.01 305.58,29.01 305.75,29.01 305.92,29.00 306.09,29.00 306.27,29.00 306.44,29.00 306.61,29.00 306.78,29.00 306.95,28.99 307.12,28.99 307.29,28.99 307.47,28.99 307.64,28.99 307.81,28.99 307.98,28.98 308.15,28.98 308.32,28.98 308.49,28.98 308.67,28.98 308.84,28.98 309.01,28.98 309.18,28.97 309.35,28.97 309.52,28.97 309.70,28.97 309.87,28.97 310.04,28.97 310.21,28.97 310.38,28.97 310.55,28.96 310.72,28.96 310.90,28.96 311.07,28.96 311.24,28.96 311.41,28.96 311.58,28.96 311.75,28.96 311.92,28.96 312.10,28.95 312.27,28.95 312.44,28.95 312.61,28.95 312.78,28.95 312.95,28.95 313.13,28.95 313.30,28.95 313.47,28.95 313.64,28.95 313.81,28.95 313.98,28.94 314.15,28.94 314.33,28.94 314.50,28.94 314.67,28.94 314.84,28.94 315.01,28.94 315.18,28.94 315.35,28.94 315.53,28.94 315.70,28.94 315.87,28.94 316.04,28.94 316.21,28.94 316.38,28.94 316.56,28.94 316.73,28.93 316.90,28.93 317.07,28.93 317.24,28.93 317.41,28.93 317.58,28.93 317.76,28.93 317.93,28.93 318.10,28.93 318.27,28.93 318.44,28.93 318.61,28.93 318.78,28.93 318.96,28.93 319.13,28.93 319.30,28.93 319.47,28.93 319.64,28.93 319.81,28.93 319.99,28.93 320.16,28.93 320.33,28.93" fill="none" stroke="#303030" stroke-width="1.0" stroke-linejoin="round"/>
<polyline points="320.33,28.94 320.56,29.94 320.79,31.32 321.02,33.24 321.25,35.68 321.48,38.36 321.71,41.04 321.94,43.74 322.17,46.50 322.40,49.30 322.63,52.10 322.86,54.84 323.09,57.49 323.32,60.02 323.55,62.47 323.78,64.89 324.01,67.27 324.24,69.60 324.47,71.83 324.70,73.95 324.93,75.93 325.16,77.75 325.39,79.40 325.62,80.92 325.85,82.35 326.08,83.69 326.31,84.97 326.54,86.19 326.77,87.38 327.00,88.54 327.23,89.69 327.46,90.83 327.69,91.97 327.92,93.10 328.15,94.20 328.38,95.29 328.61,96.35 328.84,97.39 329.07,98.40 329.30,99.39 329.53,100.35 329.76,101.28 329.99,102.20 330.22,103.09 330.45,103.98 330.68,104.84 330.91,105.69 331.14,106.53 331.37,107.34 331.60,108.14 331.83,108.92 332.06,109.69 332.29,110.43 332.52,111.16 332.75,111.86 332.98,112.55 333.21,113.23 333.44,113.91 333.67,114.57 333.90,115.23 334.13,115.88 334.36,116.51 334.59,117.13 334.82,117.73 335.05,118.31 335.28,118.87 335.51,119.39 335.74,119.90 335.97,120.37 336.20,120.80 336.43,121.22 336.66,121.61 336.89,122.00 337.12,122.37 337.35,122.74 337.58,123.10 337.81,123.45 338.04,123.79 338.27,124.13 338.50,124.45 338.73,124.77 338.96,125.07 339.19,125.37 339.42,125.65 339.65,125.93 339.88,126.20 340.11,126.46 340.34,126.71 340.57,126.95 340.80,127.18 341.03,127.40 341.26,127.61 341.49,127.81 341.72,128.00 341.95,128.18 342.18,128.36 342.41,128.54 342.64,128.71 342.87,128.89 343.10,129.05 343.33,129.22 343.56,129.38 343.79,129.54 344.02,129.70 344.25,129.85 344.48,130.00 344.71,130.15 344.94,130.29 345.17,130.43 345.40,130.57 345.63,130.70 345.86,130.83 346.09,130.95 346.32,131.07 346.55,131.19 346.78,131.30 347.01,131.41 347.24,131.52 347.47,131.62 347.70,131.71 347.93,131.80 348.16,131.89 348.39,131.97 348.62,132.05 348.85,132.12 349.08,132.19 349.31,132.25 349.54,132.31 349.77,132.37 350.00,132.42 350.23,132.48 350.46,132.53 350.69,132.59 350.92,132.64 351.15,132.70 351.38,132.75 351.61,132.80 351.84,132.85 352.07,132.90 352.30,132.94 352.53,132.99 352.76,133.04 352.99,133.08 353.22,133.13 353.45,133.17 353.68,133.21 353.91,133.25 354.14,133.29 354.37,133.33 354.60,133.37 354.83,133.41 355.06,133.45 355.29,133.48 355.52,133.52 355.75,133.55 355.98,133.58 356.21,133.61 356.44,133.64 356.67,133.67 356.90,133.70 357.13,133.73 357.36,133.76 357.59,133.78 357.82,133.80 358.05,133.83 358.28,133.85 358.51,133.87 358.74,133.89 358.97,133.91 359.20,133.93 359.43,133.95 359.66,133.96 359.89,133.98 360.12,133.99 360.35,134.00 360.58,134.02 360.81,134.03 361.04,134.04 361.27,134.06 361.50,134.07 361.73,134.08 361.96,134.09 362.19,134.11 362.42,134.12 362.65,134.13 362.88,134.14 363.11,134.15 363.34,134.16 363.57,134.17 363.80,134.18 364.03,134.20 364.26,134.21 364.49,134.22 364.72,134.23 364.95,134.24 365.18,134.25 365.41,134.26 365.64,134.27 365.87,134.28 366.10,134.28 366.33,134.29 366.56,134.30 366.79,134.31 367.02,134.32 367.25,134.33 367.48,134.34 367.71,134.34 367.94,134.35 368.17,134.36 368.40,134.37 368.63,134.37 368.86,134.38 369.09,134.39 369.32,134.39 369.55,134.40 369.78,134.41 370.01,134.41 370.24,134.42 370.47,134.43 370.70,134.43 370.93,134.44 371.16,134.44 371.39,134.45 371.62,134.45 371.85,134.46 372.08,134.46 372.31,134.47 372.54,134.47 372.77,134.48 373.00,134.48 373.23,134.48 373.46,134.49 373.69,134.49 373.92,134.50 374.15,134.50 374.38,134.50 374.61,134.50 374.84,134.51 375.07,134.51 375.30,134.51 375.53,134.51 375.76,134.52 375.99,134.52 376.22,134.52 376.45,134.52 376.68,134.52 376.91,134.53 377.14,134.53 377.37,134.53 377.60,134.53 377.83,134.53 378.06,134.54 378.29,134.54 378.52,134.54 378.75,134.54 378.98,134.54 379.21,134.55 379.44,134.55 379.67,134.55 379.90,134.55 380.13,134.55 380.36,134.56 380.59,134.56 380.82,134.56 381.05,134.56 381.28,134.56 381.51,134.57 381.74,134.57 381.97,134.57 382.20,134.57 382.43,134.57 382.66,134.57 382.89,134.58 383.12,134.58 383.35,134.58 383.58,134.58 383.81,134.58 384.04,134.58 384.27,134.59 384.50,134.59 384.73,134.59 384.96,134.59 385.19,134.59 385.42,134.59 385.65,134.60 385.88,134.60 386.11,134.60 386.34,134.60 386.57,134.60 386.80,134.60 387.03,134.61 387.26,134.61 387.49,134.61 387.72,134.61 387.95,134.61 388.18,134.61 388.41,134.61 388.64,134.62 388.87,134.62 389.10,134.62 389.33,134.62 389.56,134.62 389.79,134.62 390.02,134.62 390.25,134.62 390.48,134.63 390.71,134.63 390.94,134.63 391.17,134.63 391.40,134.63 391.63,134.63 391.86,134.63 392.09,134.63 392.32,134.64 392.55,134.64 392.78,134.64 393.01,134.64 393.24,134.64 393.47,134.64 393.70,134.64 393.93,134.64 394.16,134.65 394.39,134.65 394.62,134.65 394.85,134.65 395.08,134.65 395.31,134.65 395.54,134.65 395.77,134.65 396.00,134.65 396.23,134.65 396.46,134.66 396.69,134.66 396.92,134.66 397.15,134.66 397.38,134.66 397.61,134.66 397.84,134.66 398.07,134.66 398.30,134.66 398.53,134.66 398.76,134.66 398.99,134.67 399.22,134.67 399.45,134.67 399.68,134.67 399.91,134.67 400.14,134.67 400.37,134.67 400.60,134.67 400.83,134.67 401.06,134.67 401.29,134.67 401.52,134.67 401.75,134.67 401.98,134.67 402.21,134.67 402.44,134.68 402.67,134.68 402.90,134.68 403.13,134.68 403.36,134.68 403.59,134.68 403.82,134.68 404.05,134.68 404.28,134.68 404.51,134.68 404.74,134.68 404.97,134.68 405.20,134.68 405.43,134.68 405.66,134.68 405.89,134.68 406.12,134.68 406.35,134.68 406.58,134.68 406.81,134.68 407.04,134.68 407.27,134.68 407.50,134.69 407.73,134.69 407.96,134.69 408.19,134.69 408.42,134.69 408.65,134.69 408.88,134.69 409.11,134.69 409.34,134.69 409.57,134.69 409.80,134.69 410.03,134.69 410.26,134.69 410.49,134.69 410.72,134.69 410.95,134.69 411.18,134.69 411.41,134.69 411.64,134.69 411.87,134.69 412.10,134.69" fill="none" stroke="#303030" stroke-width="1.0" stroke-linejoin="round"/>
<polyline points="251.90,138.77 252.07,138.59 252.24,138.40 252.41,138.17 252.59,137.92 252.76,137.65 252.93,137.33 253.10,136.98 253.27,136.60 253.44,136.18 253.61,135.72 253.79,135.24 253.96,134.72 254.13,134.18 254.30,133.61 254.47,133.02 254.64,132.40 254.82,131.75 254.99,131.06 255.16,130.33 255.33,129.57 255.50,128.77 255.67,127.95 255.84,127.09 256.02,126.21 256.19,125.31 256.36,124.40 256.53,123.47 256.70,122.53 256.87,121.59 257.04,120.65 257.22,119.71 257.39,118.77 257.56,117.82 257.73,116.87 257.90,115.91 258.07,114.93 258.25,113.95 258.42,112.95 258.59,111.95 258.76,110.94 258.93,109.92 259.10,108.90 259.27,107.88 259.45,106.86 259.62,105.85 259.79,104.83 259.96,103.83 260.13,102.83 260.30,101.84 260.47,100.86 260.65,99.88 260.82,98.91 260.99,97.93 261.16,96.96 261.33,95.98 261.50,94.99 261.68,93.99 261.85,92.98 262.02,91.95 262.19,90.90 262.36,89.83 262.53,88.74 262.70,87.61 262.88,86.46 263.05,85.27 263.22,84.06 263.39,82.83 263.56,81.57 263.73,80.31 263.90,79.04 264.08,77.77 264.25,76.51 264.42,75.26 264.59,74.01 264.76,72.78 264.93,71.55 265.11,70.32 265.28,69.08 265.45,67.85 265.62,66.63 265.79,65.42 265.96,64.23 266.13,63.08 266.31,61.97 266.48,60.91 266.65,59.91 266.82,58.96 266.99,58.07 267.16,57.22 267.33,56.40 267.51,55.61 267.68,54.84 267.85,54.10 268.02,53.37 268.19,52.66 268.36,51.97 268.54,51.30 268.71,50.65 268.88,50.01 269.05,49.39 269.22,48.79 269.39,48.21 269.56,47.65 269.74,47.10 269.91,46.57 270.08,46.06 270.25,45.56 270.42,45.08 270.59,44.61 270.76,44.16 270.94,43.72 271.11,43.29 271.28,42.88 271.45,42.47 271.62,42.08 271.79,41.69 271.97,41.32 272.14,40.96 272.31,40.62 272.48,40.29 272.65,39.97 272.82,39.67 272.99,39.39 273.17,39.12 273.34,38.86 273.51,38.62 273.68,38.39 273.85,38.17 274.02,37.96 274.19,37.75 274.37,37.54 274.54,37.34 274.71,37.15 274.88,36.96 275.05,36.77 275.22,36.59 275.40,36.41 275.57,36.24 275.74,36.07 275.91,35.90 276.08,35.74 276.25,35.58 276.42,35.42 276.60,35.27 276.77,35.13 276.94,34.98 277.11,34.84 277.28,34.70 277.45,34.57 277.62,34.43 277.80,34.31 277.97,34.18 278.14,34.06 278.31,33.94 278.48,33.82 278.65,33.70 278.83,33.59 279.00,33.48 279.17,33.37 279.34,33.27 279.51,33.17 279.68,33.06 279.85,32.96 280.03,32.87 280.20,32.77 280.37,32.67 280.54,32.58 280.71,32.49 280.88,32.40 281.05,32.31 281.23,32.22 281.40,32.13 281.57,32.05 281.74,31.97 281.91,31.89 282.08,31.81 282.26,31.73 282.43,31.66 282.60,31.58 282.77,31.51 282.94,31.45 283.11,31.38 283.28,31.32 283.46,31.25 283.63,31.20 283.80,31.14 283.97,31.09 284.14,31.04 284.31,30.99 284.48,30.94 284.66,30.90 284.83,30.86 285.00,30.81 285.17,30.77 285.34,30.74 285.51,30.70 285.69,30.66 285.86,30.62 286.03,30.59 286.20,30.55 286.37,30.52 286.54,30.48 286.71,30.45 286.89,30.42 287.06,30.39 287.23,30.36 287.40,30.33 287.57,30.30 287.74,30.27 287.91,30.24 288.09,30.21 288.26,30.19 288.43,30.16 288.60,30.14 288.77,30.11 288.94,30.09 289.12,30.06 289.29,30.04 289.46,30.02 289.63,29.99 289.80,29.97 289.97,29.95 290.14,29.93 290.32,29.91 290.49,29.89 290.66,29.87 290.83,29.85 291.00,29.83 291.17,29.81 291.34,29.79 291.52,29.78 291.69,29.76 291.86,29.74 292.03,29.72 292.20,29.71 292.37,29.69 292.55,29.67 292.72,29.66 292.89,29.64 293.06,29.62 293.23,29.61 293.40,29.59 293.57,29.57 293.75,29.56 293.92,29.54 294.09,29.53 294.26,29.51 294.43,29.50 294.60,29.48 294.77,29.47 294.95,29.45 295.12,29.44 295.29,29.42 295.46,29.41 295.63,29.39 295.80,29.38 295.98,29.37 296.15,29.35 296.32,29.34 296.49,29.32 296.66,29.31 296.83,29.30 297.00,29.29 297.18,29.27 297.35,29.26 297.52,29.25 297.69,29.24 297.86,29.23 298.03,29.21 298.20,29.20 298.38,29.19 298.55,29.18 298.72,29.17 298.89,29.16 299.06,29.15 299.23,29.14 299.41,29.13 299.58,29.12 299.75,29.11 299.92,29.10 300.09,29.09 300.26,29.09 300.43,29.08 300.61,29.07 300.78,29.06 300.95,29.05 301.12,29.05 301.29,29.04 301.46,29.03 301.63,29.03 301.81,29.02 301.98,29.01 302.15,29.01 302.32,29.00 302.49,29.00 302.66,28.99 302.84,28.99 303.01,28.98 303.18,28.97 303.35,28.97 303.52,28.96 303.69,28.96 303.86,28.95 304.04,28.95 304.21,28.94 304.38,28.94 304.55,28.93 304.72,28.93 304.89,28.92 305.06,28.92 305.24,28.91 305.41,28.91 305.58,28.90 305.75,28.90 305.92,28.89 306.09,28.89 306.27,28.88 306.44,28.88 306.61,28.87 306.78,28.87 306.95,28.86 307.12,28.86 307.29,28.85 307.47,28.85 307.64,28.84 307.81,28.84 307.98,28.83 308.15,28.83 308.32,28.83 308.49,28.82 308.67,28.82 308.84,28.81 309.01,28.81 309.18,28.80 309.35,28.80 309.52,28.80 309.70,28.79 309.87,28.79 310.04,28.78 310.21,28.78 310.38,28.78 310.55,28.77 310.72,28.77 310.90,28.76 311.07,28.76 311.24,28.76 311.41,28.75 311.58,28.75 311.75,28.75 311.92,28.74 312.10,28.74 312.27,28.74 312.44,28.73 312.61,28.73 312.78,28.73 312.95,28.72 313.13,28.72 313.30,28.72 313.47,28.71 313.64,28.71 313.81,28.71 313.98,28.71 314.15,28.70 314.33,28.70 314.50,28.70 314.67,28.70 314.84,28.69 315.01,28.69 315.18,28.69 315.35,28.69 315.53,28.68 315.70,28.68 315.87,28.68 316.04,28.68 316.21,28.68 316.38,28.67 316.56,28.67 316.73,28.67 316.90,28.67 317.07,28.67 317.24,28.67 317.41,28.66 317.58,28.66 317.76,28.66 317.93,28.66 318.10,28.66 318.27,28.66 318.44,28.66 318.61,28.66 318.78,28.66 318.96,28.66 319.13,28.65 319.30,28.65 319.47,28.65 319.64,28.65 319.81,28.65 319.99,28.65 320.16,28.65 320.33,28.65" fill="none" stroke="#ff2a2a" stroke-width="1.0" stroke-linejoin="round"/>
<polyline points="320.33,28.66 320.56,30.72 320.79,33.15 321.02,36.09 321.25,39.53 321.48,43.56 321.71,48.19 321.94,53.33 322.17,58.77 322.40,64.29 322.63,69.69 322.86,74.75 323.09,79.32 323.32,83.35 323.55,87.03 323.78,90.53 324.01,93.99 324.24,97.33 324.47,100.32 324.70,102.82 324.93,104.96 325.16,106.87 325.39,108.60 325.62,110.20 325.85,111.69 326.08,113.11 326.31,114.48 326.54,115.82 326.77,117.10 327.00,118.32 327.23,119.49 327.46,120.57 327.69,121.58 327.92,122.50 328.15,123.33 328.38,124.09 328.61,124.80 328.84,125.48 329.07,126.12 329.30,126.73 329.53,127.30 329.76,127.84 329.99,128.34 330.22,128.81 330.45,129.24 330.68,129.63 330.91,129.99 331.14,130.33 331.37,130.65 331.60,130.95 331.83,131.25 332.06,131.54 332.29,131.82 332.52,132.08 332.75,132.34 332.98,132.58 333.21,132.81 333.44,133.03 333.67,133.24 333.90,133.44 334.13,133.63 334.36,133.80 334.59,133.96 334.82,134.11 335.05,134.25 335.28,134.38 335.51,134.50 335.74,134.62 335.97,134.74 336.20,134.85 336.43,134.96 336.66,135.07 336.89,135.17 337.12,135.27 337.35,135.37 337.58,135.47 337.81,135.56 338.04,135.65 338.27,135.74 338.50,135.83 338.73,135.91 338.96,135.98 339.19,136.06 339.42,136.12 339.65,136.19 339.88,136.25 340.11,136.31 340.34,136.36 340.57,136.41 340.80,136.45 341.03,136.49 341.26,136.53 341.49,136.56 341.72,136.59 341.95,136.61 342.18,136.63 342.41,136.65 342.64,136.67 342.87,136.69 343.10,136.71 343.33,136.73 343.56,136.75 343.79,136.77 344.02,136.78 344.25,136.80 344.48,136.82 344.71,136.84 344.94,136.85 345.17,136.87 345.40,136.89 345.63,136.90 345.86,136.92 346.09,136.93 346.32,136.95 346.55,136.96 346.78,136.98 347.01,136.99 347.24,137.00 347.47,137.02 347.70,137.03 347.93,137.04 348.16,137.05 348.39,137.07 348.62,137.08 348.85,137.09 349.08,137.10 349.31,137.11 349.54,137.12 349.77,137.13 350.00,137.14 350.23,137.15 350.46,137.16 350.69,137.17 350.92,137.18 351.15,137.19 351.38,137.20 351.61,137.20 351.84,137.21 352.07,137.22 352.30,137.23 352.53,137.23 352.76,137.24 352.99,137.25 353.22,137.25 353.45,137.26 353.68,137.27 353.91,137.27 354.14,137.28 354.37,137.28 354.60,137.29 354.83,137.29 355.06,137.30 355.29,137.30 355.52,137.30 355.75,137.31 355.98,137.31 356.21,137.32 356.44,137.32 356.67,137.32 356.90,137.33 357.13,137.33 357.36,137.33 357.59,137.33 357.82,137.34 358.05,137.34 358.28,137.34 358.51,137.34 358.74,137.35 358.97,137.35 359.20,137.35 359.43,137.35 359.66,137.36 359.89,137.36 360.12,137.36 360.35,137.36 360.58,137.37 360.81,137.37 361.04,137.37 361.27,137.37 361.50,137.38 361.73,137.38 361.96,137.38 362.19,137.38 362.42,137.38 362.65,137.39 362.88,137.39 363.11,137.39 363.34,137.39 363.57,137.40 363.80,137.40 364.03,137.40 364.26,137.40 364.49,137.40 364.72,137.41 364.95,137.41 365.18,137.41 365.41,137.41 365.64,137.42 365.87,137.42 366.10,137.42 366.33,137.42 366.56,137.42 366.79,137.43 367.02,137.43 367.25,137.43 367.48,137.43 367.71,137.43 367.94,137.44 368.17,137.44 368.40,137.44 368.63,137.44 368.86,137.44 369.09,137.45 369.32,137.45 369.55,137.45 369.78,137.45 370.01,137.45 370.24,137.46 370.47,137.46 370.70,137.46 370.93,137.46 371.16,137.46 371.39,137.47 371.62,137.47 371.85,137.47 372.08,137.47 372.31,137.47 372.54,137.47 372.77,137.48 373.00,137.48 373.23,137.48 373.46,137.48 373.69,137.48 373.92,137.49 374.15,137.49 374.38,137.49 374.61,137.49 374.84,137.49 375.07,137.49 375.30,137.50 375.53,137.50 375.76,137.50 375.99,137.50 376.22,137.50 376.45,137.50 376.68,137.50 376.91,137.51 377.14,137.51 377.37,137.51 377.60,137.51 377.83,137.51 378.06,137.51 378.29,137.52 378.52,137.52 378.75,137.52 378.98,137.52 379.21,137.52 379.44,137.52 379.67,137.52 379.90,137.53 380.13,137.53 380.36,137.53 380.59,137.53 380.82,137.53 381.05,137.53 381.28,137.53 381.51,137.54 381.74,137.54 381.97,137.54 382.20,137.54 382.43,137.54 382.66,137.54 382.89,137.54 383.12,137.54 383.35,137.55 383.58,137.55 383.81,137.55 384.04,137.55 384.27,137.55 384.50,137.55 384.73,137.55 384.96,137.55 385.19,137.56 385.42,137.56 385.65,137.56 385.88,137.56 386.11,137.56 386.34,137.56 386.57,137.56 386.80,137.56 387.03,137.56 387.26,137.57 387.49,137.57 387.72,137.57 387.95,137.57 388.18,137.57 388.41,137.57 388.64,137.57 388.87,137.57 389.10,137.57 389.33,137.57 389.56,137.58 389.79,137.58 390.02,137.58 390.25,137.58 390.48,137.58 390.71,137.58 390.94,137.58 391.17,137.58 391.40,137.58 391.63,137.58 391.86,137.59 392.09,137.59 392.32,137.59 392.55,137.59 392.78,137.59 393.01,137.59 393.24,137.59 393.47,137.59 393.70,137.59 393.93,137.59 394.16,137.59 394.39,137.59 394.62,137.59 394.85,137.60 395.08,137.60 395.31,137.60 395.54,137.60 395.77,137.60 396.00,137.60 396.23,137.60 396.46,137.60 396.69,137.60 396.92,137.60 397.15,137.60 397.38,137.60 397.61,137.60 397.84,137.60 398.07,137.60 398.30,137.61 398.53,137.61 398.76,137.61 398.99,137.61 399.22,137.61 399.45,137.61 399.68,137.61 399.91,137.61 400.14,137.61 400.37,137.61 400.60,137.61 400.83,137.61 401.06,137.61 401.29,137.61 401.52,137.61 401.75,137.61 401.98,137.61 402.21,137.61 402.44,137.61 402.67,137.61 402.90,137.61 403.13,137.61 403.36,137.62 403.59,137.62 403.82,137.62 404.05,137.62 404.28,137.62 404.51,137.62 404.74,137.62 404.97,137.62 405.20,137.62 405.43,137.62 405.66,137.62 405.89,137.62 406.12,137.62 406.35,137.62 406.58,137.62 406.81,137.62 407.04,137.62 407.27,137.62 407.50,137.62 407.73,137.62 407.96,137.62 408.19,137.62 408.42,137.62 408.65,137.62 408.88,137.62 409.11,137.62 409.34,137.62 409.57,137.62 409.80,137.62 410.03,137.62 410.26,137.62 410.49,137.62 410.72,137.62 410.95,137.62 411.18,137.62 411.41,137.62 411.64,137.62 411.87,137.62 412.10,137.62" fill="none" stroke="#ff2a2a" stroke-width="1.0" stroke-linejoin="round"/>
<path d="M251.90,152.30V12.80H412.10" fill="none" stroke="#2b2b2b" stroke-width="1.0"/>
<path d="M251.90,152.30H412.10" fill="none" stroke="#2b2b2b" stroke-width="1.0"/>
<path d="M412.10,12.80V152.30" fill="none" stroke="#ff2a2a" stroke-width="1.0"/>
<path d="M251.90,143.58h1.5M251.90,126.14h1.5M251.90,108.71h1.5M251.90,91.27h1.5M251.90,73.83h1.5M251.90,56.39h1.5M251.90,38.96h1.5M251.90,21.52h1.5M251.90,152.30h2.6M251.90,134.86h2.6M251.90,117.43h2.6M251.90,99.99h2.6M251.90,82.55h2.6M251.90,65.11h2.6M251.90,47.67h2.6M251.90,30.24h2.6M251.90,12.80h2.6" stroke="#2b2b2b" stroke-width="0.9" fill="none"/>
<text stroke="#2b2b2b" stroke-width="0.22" x="249.10" y="155.10" font-size="7.9" text-anchor="end" fill="#2b2b2b">-0.2</text>
<text stroke="#2b2b2b" stroke-width="0.22" x="249.10" y="137.66" font-size="7.9" text-anchor="end" fill="#2b2b2b">0.0</text>
<text stroke="#2b2b2b" stroke-width="0.22" x="249.10" y="120.23" font-size="7.9" text-anchor="end" fill="#2b2b2b">0.2</text>
<text stroke="#2b2b2b" stroke-width="0.22" x="249.10" y="102.79" font-size="7.9" text-anchor="end" fill="#2b2b2b">0.4</text>
<text stroke="#2b2b2b" stroke-width="0.22" x="249.10" y="85.35" font-size="7.9" text-anchor="end" fill="#2b2b2b">0.6</text>
<text stroke="#2b2b2b" stroke-width="0.22" x="249.10" y="67.91" font-size="7.9" text-anchor="end" fill="#2b2b2b">0.8</text>
<text stroke="#2b2b2b" stroke-width="0.22" x="249.10" y="50.47" font-size="7.9" text-anchor="end" fill="#2b2b2b">1.0</text>
<text stroke="#2b2b2b" stroke-width="0.22" x="249.10" y="33.04" font-size="7.9" text-anchor="end" fill="#2b2b2b">1.2</text>
<text stroke="#2b2b2b" stroke-width="0.22" x="249.10" y="15.60" font-size="7.9" text-anchor="end" fill="#2b2b2b">1.4</text>
<path d="M412.10,144.96h-1.5M412.10,130.28h-1.5M412.10,115.60h-1.5M412.10,100.93h-1.5M412.10,86.25h-1.5M412.10,71.57h-1.5M412.10,56.89h-1.5M412.10,42.21h-1.5M412.10,27.54h-1.5M412.10,12.86h-1.5M412.10,152.30h-2.6M412.10,137.62h-2.6M412.10,122.94h-2.6M412.10,108.27h-2.6M412.10,93.59h-2.6M412.10,78.91h-2.6M412.10,64.23h-2.6M412.10,49.55h-2.6M412.10,34.88h-2.6M412.10,20.20h-2.6" stroke="#ff2a2a" stroke-width="0.9" fill="none"/>
<text stroke="#ff2a2a" stroke-width="0.22" x="414.90" y="155.10" font-size="8.2" text-anchor="start" fill="#ff2a2a">-0.05</text>
<text stroke="#ff2a2a" stroke-width="0.22" x="414.90" y="140.42" font-size="8.2" text-anchor="start" fill="#ff2a2a">0.00</text>
<text stroke="#ff2a2a" stroke-width="0.22" x="414.90" y="125.74" font-size="8.2" text-anchor="start" fill="#ff2a2a">0.05</text>
<text stroke="#ff2a2a" stroke-width="0.22" x="414.90" y="111.07" font-size="8.2" text-anchor="start" fill="#ff2a2a">0.10</text>
<text stroke="#ff2a2a" stroke-width="0.22" x="414.90" y="96.39" font-size="8.2" text-anchor="start" fill="#ff2a2a">0.15</text>
<text stroke="#ff2a2a" stroke-width="0.22" x="414.90" y="81.71" font-size="8.2" text-anchor="start" fill="#ff2a2a">0.20</text>
<text stroke="#ff2a2a" stroke-width="0.22" x="414.90" y="67.03" font-size="8.2" text-anchor="start" fill="#ff2a2a">0.25</text>
<text stroke="#ff2a2a" stroke-width="0.22" x="414.90" y="52.35" font-size="8.2" text-anchor="start" fill="#ff2a2a">0.30</text>
<text stroke="#ff2a2a" stroke-width="0.22" x="414.90" y="37.68" font-size="8.2" text-anchor="start" fill="#ff2a2a">0.35</text>
<text stroke="#ff2a2a" stroke-width="0.22" x="414.90" y="23.00" font-size="8.2" text-anchor="start" fill="#ff2a2a">0.40</text>
<path d="M263.34,152.30v-1.5M286.23,152.30v-1.5M309.11,152.30v-1.5M332.00,152.30v-1.5M354.89,152.30v-1.5M377.77,152.30v-1.5M400.66,152.30v-1.5M251.90,152.30v-2.6M274.79,152.30v-2.6M297.67,152.30v-2.6M320.56,152.30v-2.6M343.44,152.30v-2.6M366.33,152.30v-2.6M389.21,152.30v-2.6M412.10,152.30v-2.6" stroke="#2b2b2b" stroke-width="0.9" fill="none"/>
<text stroke="#2b2b2b" stroke-width="0.22" x="251.90" y="162.10" font-size="7.8" text-anchor="middle" fill="#2b2b2b">0</text>
<text stroke="#2b2b2b" stroke-width="0.22" x="274.79" y="162.10" font-size="7.8" text-anchor="middle" fill="#2b2b2b">500</text>
<text stroke="#2b2b2b" stroke-width="0.22" x="297.67" y="162.10" font-size="7.8" text-anchor="middle" fill="#2b2b2b">1000</text>
<text stroke="#2b2b2b" stroke-width="0.22" x="320.56" y="162.10" font-size="7.8" text-anchor="middle" fill="#2b2b2b">1500</text>
<text stroke="#2b2b2b" stroke-width="0.22" x="343.44" y="162.10" font-size="7.8" text-anchor="middle" fill="#2b2b2b">2000</text>
<text stroke="#2b2b2b" stroke-width="0.22" x="366.33" y="162.10" font-size="7.8" text-anchor="middle" fill="#2b2b2b">2500</text>
<text stroke="#2b2b2b" stroke-width="0.22" x="389.21" y="162.10" font-size="7.8" text-anchor="middle" fill="#2b2b2b">3000</text>
<text stroke="#2b2b2b" stroke-width="0.22" x="412.10" y="162.10" font-size="7.8" text-anchor="middle" fill="#2b2b2b">3500</text>
<rect x="258.70" y="124.30" width="49.10" height="24.00" fill="#fff" stroke="#2b2b2b" stroke-width="0.9"/>
<path d="M259.50,130.20h18.00" stroke="#303030" stroke-width="1.1"/>
<text stroke="#2b2b2b" stroke-width="0.22" x="279.60" y="133.40" font-size="8.6" fill="#2b2b2b">Voltage</text>
<path d="M259.50,142.00h18.00" stroke="#ff2a2a" stroke-width="1.1"/>
<text stroke="#2b2b2b" stroke-width="0.22" x="279.60" y="145.20" font-size="8.6" fill="#2b2b2b">Power</text>
<text stroke="#2b2b2b" stroke-width="0.22" x="231.20" y="83.30" font-size="8.8" text-anchor="middle" fill="#2b2b2b" transform="rotate(-90 231.20 83.30)">Voltage/V</text>
<text stroke="#ff2a2a" stroke-width="0.22" x="439.00" y="82.00" font-size="8.7" text-anchor="middle" fill="#ff2a2a" transform="rotate(-90 439.00 82.00)">Power/W</text>
<text stroke="#2b2b2b" stroke-width="0.22" x="332.00" y="175.20" font-size="9.5" text-anchor="middle" fill="#2b2b2b">Time/s</text>
<text stroke="#2b2b2b" stroke-width="0.22" x="233.50" y="186.30" font-size="11.4" text-anchor="middle" fill="#2b2b2b">(a) Run 2</text>
<polyline points="40.40,313.59 40.58,310.93 40.77,308.36 40.95,305.89 41.14,303.53 41.32,301.27 41.51,299.14 41.63,297.77 41.69,297.12 41.88,295.15 42.06,293.23 42.24,291.40 42.43,289.68 42.61,288.14 42.80,286.79 42.86,286.37 42.98,285.65 43.17,284.66 43.35,283.82 43.45,283.43 43.54,283.14 43.72,282.55 43.90,282.03 44.09,281.56 44.27,281.12 44.46,280.69 44.64,280.24 44.83,279.76 44.83,279.75 45.01,279.28 45.20,278.81 45.38,278.35 45.56,277.89 45.75,277.42 45.93,276.94 46.12,276.44 46.30,275.91 46.49,275.33 46.67,274.71 46.70,274.60 46.86,274.00 47.04,273.16 47.22,272.25 47.41,271.30 47.59,270.36 47.78,269.48 47.78,269.46 47.96,268.66 48.15,267.84 48.33,267.03 48.52,266.23 48.70,265.44 48.88,264.65 49.07,263.88 49.25,263.11 49.44,262.35 49.62,261.60 49.81,260.87 49.99,260.14 50.18,259.43 50.25,259.16 50.36,258.72 50.54,258.03 50.73,257.35 50.91,256.69 51.10,256.03 51.28,255.38 51.47,254.74 51.65,254.10 51.84,253.47 52.02,252.84 52.20,252.21 52.39,251.59 52.57,250.96 52.76,250.33 52.94,249.70 53.13,249.06 53.31,248.42 53.40,248.12 53.50,247.77 53.68,247.10 53.87,246.42 54.05,245.73 54.23,245.03 54.42,244.34 54.60,243.65 54.79,242.98 54.97,242.32 55.16,241.68 55.34,241.07 55.53,240.50 55.71,239.96 55.71,239.96 55.89,239.45 56.08,238.95 56.26,238.46 56.45,237.99 56.63,237.52 56.82,237.06 57.00,236.62 57.19,236.18 57.37,235.75 57.55,235.33 57.74,234.92 57.92,234.52 58.11,234.12 58.29,233.74 58.48,233.35 58.66,232.98 58.85,232.61 59.03,232.25 59.21,231.90 59.40,231.54 59.58,231.20 59.70,230.99 59.77,230.86 59.95,230.52 60.14,230.19 60.32,229.86 60.51,229.54 60.69,229.23 60.87,228.92 61.06,228.61 61.24,228.31 61.43,228.02 61.61,227.73 61.80,227.45 61.98,227.17 62.17,226.90 62.35,226.63 62.53,226.38 62.72,226.12 62.90,225.88 63.05,225.69 63.09,225.63 63.27,225.40 63.46,225.16 63.64,224.93 63.83,224.71 64.01,224.48 64.19,224.27 64.38,224.05 64.56,223.84 64.75,223.63 64.93,223.43 65.12,223.24 65.30,223.04 65.49,222.86 65.67,222.67 65.85,222.50 66.04,222.33 66.22,222.16 66.39,222.01 66.41,222.00 66.59,221.84 66.78,221.69 66.96,221.54 67.15,221.39 67.33,221.25 67.51,221.11 67.70,220.97 67.88,220.84 68.07,220.71 68.25,220.58 68.44,220.45 68.62,220.33 68.81,220.21 68.99,220.09 69.17,219.98 69.36,219.87 69.54,219.76 69.73,219.65 69.91,219.55 69.99,219.51 70.10,219.45 70.28,219.35 70.47,219.26 70.65,219.16 70.83,219.06 71.02,218.97 71.20,218.87 71.39,218.78 71.57,218.69 71.76,218.60 71.94,218.51 72.13,218.42 72.31,218.33 72.49,218.24 72.68,218.16 72.86,218.07 73.05,217.99 73.23,217.91 73.42,217.83 73.60,217.75 73.79,217.68 73.97,217.60 74.15,217.53 74.34,217.45 74.52,217.38 74.71,217.31 74.89,217.25 75.08,217.18 75.26,217.12 75.45,217.06 75.63,217.00 75.81,216.94 76.00,216.88 76.18,216.83 76.37,216.77 76.55,216.72 76.58,216.72 76.74,216.68 76.92,216.63 77.11,216.58 77.29,216.53 77.48,216.49 77.66,216.44 77.84,216.40 78.03,216.35 78.21,216.31 78.40,216.27 78.58,216.23 78.77,216.19 78.95,216.15 79.14,216.11 79.32,216.07 79.50,216.03 79.69,216.00 79.87,215.96 80.06,215.93 80.24,215.90 80.43,215.86 80.61,215.83 80.80,215.80 80.98,215.77 81.16,215.75 81.35,215.72 81.53,215.69 81.72,215.67 81.90,215.65 82.09,215.63 82.20,215.61 82.27,215.60 82.46,215.58 82.64,215.56 82.82,215.54 83.01,215.53 83.19,215.51 83.38,215.49 83.56,215.47 83.75,215.45 83.93,215.43 84.12,215.42 84.30,215.40 84.48,215.38 84.67,215.37 84.85,215.35 85.04,215.34 85.22,215.32 85.41,215.31 85.59,215.29 85.78,215.28 85.96,215.26 86.14,215.25 86.33,215.23 86.51,215.22 86.70,215.21 86.88,215.19 87.07,215.18 87.25,215.17 87.44,215.15 87.62,215.14 87.80,215.13 87.99,215.12 88.17,215.10 88.36,215.09 88.54,215.08 88.73,215.07 88.91,215.06 89.10,215.05 89.28,215.03 89.46,215.02 89.65,215.01 89.83,215.00 90.02,214.99 90.20,214.98 90.39,214.97 90.57,214.96 90.76,214.95 90.94,214.94 91.12,214.93 91.31,214.92 91.49,214.91 91.68,214.90 91.86,214.89 92.05,214.88 92.23,214.87 92.42,214.85 92.60,214.84 92.78,214.83 92.97,214.82 93.15,214.81 93.32,214.80 93.34,214.80 93.52,214.79 93.71,214.78 93.89,214.77 94.08,214.76 94.26,214.75 94.44,214.74 94.63,214.73 94.81,214.72 95.00,214.71 95.18,214.70 95.37,214.69 95.55,214.68 95.74,214.67 95.92,214.66 96.10,214.65 96.29,214.64 96.47,214.63 96.66,214.62 96.84,214.61 97.03,214.60 97.21,214.59 97.40,214.58 97.58,214.57 97.76,214.56 97.95,214.55 98.13,214.54 98.32,214.53 98.50,214.52 98.69,214.51 98.87,214.50 99.06,214.49 99.24,214.48 99.42,214.47 99.61,214.46 99.79,214.45 99.98,214.45 100.16,214.44 100.35,214.43 100.53,214.42 100.72,214.41 100.90,214.40 101.09,214.40 101.27,214.39 101.45,214.38 101.64,214.37 101.82,214.37 102.01,214.36 102.19,214.35 102.38,214.35 102.56,214.34 102.75,214.34 102.93,214.33 103.11,214.32 103.30,214.32 103.48,214.31 103.67,214.31 103.85,214.30 104.04,214.30 104.22,214.29 104.40,214.29 104.41,214.29 104.59,214.28 104.77,214.28 104.96,214.28 105.14,214.27 105.33,214.27 105.51,214.26 105.70,214.26 105.88,214.26 106.07,214.25 106.25,214.25 106.43,214.24 106.62,214.24 106.80,214.24 106.99,214.23 107.17,214.23 107.36,214.22 107.54,214.22 107.73,214.22 107.91,214.21 108.09,214.21 108.28,214.21 108.46,214.20 108.65,214.20 108.83,214.20 109.02,214.19 109.20,214.19 109.39,214.19 109.57,214.18 109.75,214.18 109.94,214.18 110.12,214.17 110.31,214.17 110.49,214.17 110.68,214.17 110.86,214.16 111.05,214.16 111.23,214.16 111.41,214.16 111.60,214.16 111.78,214.15 111.97,214.15 112.15,214.15 112.34,214.15 112.52,214.15 112.71,214.15 112.89,214.15 113.07,214.14 113.26,214.14 113.44,214.14 113.63,214.14 113.81,214.14 114.00,214.14" fill="none" stroke="#303030" stroke-width="1.0" stroke-linejoin="round"/>
<polyline points="114.00,214.14 114.24,215.34 114.49,216.73 114.69,217.97 114.74,218.33 114.99,220.28 115.23,222.53 115.48,224.98 115.73,227.52 115.98,230.06 116.22,232.47 116.41,234.15 116.47,234.68 116.72,236.83 116.97,238.98 117.21,241.06 117.46,243.04 117.71,244.86 117.95,246.48 117.98,246.65 118.20,247.91 118.45,249.26 118.70,250.54 118.94,251.76 119.19,252.92 119.44,254.03 119.69,255.09 119.93,256.12 120.18,257.12 120.43,258.09 120.68,259.05 120.92,259.99 121.17,260.94 121.28,261.36 121.42,261.88 121.67,262.80 121.91,263.69 122.16,264.56 122.41,265.41 122.65,266.25 122.90,267.07 123.15,267.88 123.40,268.67 123.64,269.46 123.89,270.24 124.14,271.01 124.39,271.79 124.58,272.40 124.63,272.56 124.88,273.34 125.13,274.11 125.38,274.87 125.62,275.60 125.87,276.30 126.01,276.66 126.12,276.95 126.37,277.56 126.61,278.13 126.75,278.43 126.86,278.68 127.11,279.22 127.36,279.73 127.60,280.16 127.68,280.27 127.85,280.48 128.03,280.64 128.10,280.68 128.34,280.81 128.59,280.92 128.84,281.01 129.09,281.09 129.33,281.18 129.45,281.22 129.58,281.27 129.83,281.36 130.08,281.45 130.32,281.53 130.57,281.62 130.82,281.71 131.07,281.80 131.28,281.89 131.31,281.90 131.56,282.00 131.81,282.11 132.06,282.23 132.30,282.37 132.36,282.40 132.55,282.55 132.80,282.79 133.04,283.06 133.05,283.06 133.29,283.37 133.54,283.72 133.79,284.09 133.79,284.09 134.03,284.48 134.28,284.88 134.53,285.30 134.78,285.73 135.02,286.16 135.27,286.58 135.52,286.99 135.77,287.36 135.95,287.62 136.01,287.70 136.26,288.01 136.51,288.30 136.76,288.57 137.00,288.83 137.25,289.09 137.50,289.35 137.74,289.62 137.99,289.91 138.22,290.20 138.24,290.23 138.49,290.58 138.73,290.96 138.98,291.36 139.23,291.78 139.48,292.22 139.72,292.66 139.97,293.10 140.22,293.53 140.47,293.95 140.71,294.35 140.96,294.72 141.21,295.06 141.32,295.20 141.46,295.37 141.70,295.66 141.95,295.94 142.20,296.22 142.45,296.48 142.69,296.74 142.94,296.98 143.19,297.23 143.43,297.46 143.68,297.69 143.93,297.92 144.18,298.14 144.42,298.36 144.67,298.57 144.92,298.79 145.17,299.00 145.41,299.22 145.66,299.43 145.70,299.47 145.91,299.65 146.16,299.86 146.40,300.08 146.65,300.29 146.90,300.51 147.15,300.72 147.39,300.93 147.64,301.14 147.89,301.34 148.13,301.54 148.38,301.74 148.63,301.94 148.88,302.13 149.12,302.31 149.37,302.49 149.62,302.67 149.87,302.84 150.11,303.00 150.36,303.16 150.57,303.29 150.61,303.31 150.86,303.46 151.10,303.60 151.35,303.74 151.60,303.88 151.85,304.01 152.09,304.15 152.34,304.27 152.59,304.40 152.83,304.52 153.08,304.64 153.33,304.76 153.58,304.87 153.82,304.98 154.07,305.09 154.32,305.19 154.57,305.29 154.81,305.39 155.06,305.48 155.10,305.50 155.31,305.57 155.56,305.66 155.80,305.75 156.05,305.83 156.30,305.91 156.55,305.99 156.79,306.07 157.04,306.15 157.29,306.22 157.54,306.29 157.78,306.36 158.03,306.43 158.28,306.50 158.52,306.56 158.77,306.63 159.02,306.69 159.27,306.76 159.51,306.82 159.53,306.82 159.76,306.88 160.01,306.94 160.26,307.00 160.50,307.05 160.75,307.11 161.00,307.17 161.25,307.22 161.49,307.28 161.74,307.33 161.99,307.38 162.24,307.43 162.48,307.48 162.73,307.54 162.98,307.59 163.22,307.63 163.47,307.68 163.72,307.73 163.97,307.78 164.21,307.83 164.46,307.87 164.71,307.92 164.96,307.97 165.20,308.01 165.45,308.06 165.70,308.10 165.93,308.15 165.95,308.15 166.19,308.19 166.44,308.24 166.69,308.28 166.94,308.33 167.18,308.38 167.43,308.42 167.68,308.47 167.92,308.51 168.17,308.55 168.42,308.60 168.67,308.64 168.91,308.68 169.16,308.71 169.41,308.75 169.66,308.79 169.90,308.82 170.15,308.85 170.40,308.88 170.41,308.88 170.65,308.91 170.89,308.93 171.14,308.96 171.39,308.99 171.64,309.02 171.88,309.04 172.13,309.07 172.38,309.10 172.62,309.12 172.87,309.15 173.12,309.17 173.37,309.20 173.61,309.22 173.86,309.25 174.11,309.27 174.36,309.30 174.60,309.32 174.85,309.34 175.10,309.37 175.35,309.39 175.59,309.41 175.84,309.43 176.09,309.46 176.34,309.48 176.58,309.50 176.83,309.52 177.08,309.54 177.33,309.56 177.57,309.58 177.82,309.59 178.07,309.61 178.31,309.63 178.56,309.65 178.81,309.66 179.06,309.68 179.30,309.69 179.55,309.71 179.80,309.72 180.05,309.73 180.29,309.75 180.54,309.76 180.79,309.77 181.04,309.78 181.28,309.79 181.53,309.80 181.78,309.81 182.03,309.82 182.27,309.82 182.52,309.83 182.77,309.84 182.82,309.84 183.01,309.84 183.26,309.85 183.51,309.85 183.76,309.86 184.00,309.86 184.25,309.86 184.50,309.87 184.75,309.87 184.99,309.88 185.24,309.88 185.49,309.88 185.74,309.89 185.98,309.89 186.23,309.89 186.48,309.90 186.73,309.90 186.97,309.90 187.22,309.91 187.47,309.91 187.71,309.91 187.96,309.92 188.21,309.92 188.46,309.92 188.70,309.92 188.95,309.93 189.20,309.93 189.45,309.93 189.69,309.93 189.94,309.94 190.19,309.94 190.44,309.94 190.68,309.94 190.93,309.95 191.18,309.95 191.43,309.95 191.67,309.95 191.92,309.95 192.17,309.96 192.42,309.96 192.66,309.96 192.91,309.96 193.16,309.96 193.40,309.97 193.65,309.97 193.90,309.97 194.15,309.97 194.39,309.98 194.64,309.98 194.89,309.98 195.14,309.98 195.27,309.98 195.38,309.99 195.63,309.99 195.88,309.99 196.13,309.99 196.37,310.00 196.62,310.00 196.87,310.00 197.12,310.00 197.36,310.01 197.61,310.01 197.86,310.01 198.10,310.01 198.35,310.01 198.60,310.02 198.85,310.02 199.09,310.02 199.34,310.02 199.59,310.03 199.84,310.03 200.08,310.03 200.33,310.03 200.58,310.04 200.83,310.04 201.07,310.04 201.32,310.04 201.57,310.04 201.82,310.05 202.06,310.05 202.31,310.05 202.56,310.05 202.80,310.06 203.05,310.06 203.30,310.06 203.55,310.06 203.79,310.06 204.04,310.07 204.29,310.07 204.54,310.07 204.78,310.07 205.03,310.07 205.28,310.08 205.53,310.08 205.77,310.08 206.02,310.08 206.27,310.08 206.52,310.09 206.76,310.09 207.01,310.09 207.26,310.09 207.51,310.09 207.75,310.10 208.00,310.10 208.25,310.10 208.49,310.10 208.74,310.10 208.99,310.11 209.24,310.11 209.48,310.11 209.73,310.11 209.98,310.11 210.23,310.11 210.47,310.12 210.72,310.12 210.97,310.12 211.22,310.12 211.46,310.12 211.71,310.13 211.96,310.13 212.21,310.13 212.45,310.13 212.70,310.13" fill="none" stroke="#303030" stroke-width="1.0" stroke-linejoin="round"/>
<polyline points="40.40,313.59 40.58,310.88 40.77,308.25 40.95,305.73 41.14,303.31 41.32,301.00 41.51,298.81 41.63,297.41 41.69,296.73 41.88,294.67 42.06,292.62 42.24,290.67 42.43,288.87 42.61,287.30 42.80,286.01 42.86,285.64 42.98,285.03 43.17,284.27 43.35,283.60 43.54,282.94 43.60,282.70 43.72,282.22 43.90,281.52 44.09,280.84 44.27,280.16 44.46,279.47 44.64,278.77 44.83,278.03 45.01,277.26 45.20,276.44 45.27,276.08 45.38,275.55 45.56,274.54 45.75,273.46 45.93,272.32 46.12,271.16 46.30,270.01 46.49,268.91 46.65,267.98 46.67,267.88 46.86,266.90 47.04,265.95 47.22,265.00 47.41,264.08 47.59,263.17 47.78,262.28 47.96,261.40 48.15,260.53 48.33,259.67 48.52,258.83 48.70,257.99 48.77,257.69 48.88,257.17 49.07,256.36 49.25,255.56 49.44,254.77 49.62,253.99 49.81,253.23 49.99,252.47 50.18,251.72 50.36,250.97 50.54,250.24 50.73,249.51 50.91,248.78 51.08,248.12 51.10,248.06 51.28,247.35 51.47,246.64 51.65,245.94 51.84,245.25 52.02,244.56 52.20,243.88 52.39,243.20 52.57,242.53 52.76,241.87 52.94,241.21 53.13,240.56 53.30,239.96 53.31,239.91 53.50,239.26 53.68,238.61 53.87,237.95 54.05,237.30 54.23,236.64 54.42,235.99 54.60,235.35 54.79,234.72 54.97,234.10 55.16,233.50 55.34,232.91 55.53,232.35 55.71,231.80 55.89,231.29 56.01,230.99 56.08,230.79 56.26,230.31 56.45,229.85 56.63,229.39 56.82,228.94 57.00,228.50 57.19,228.06 57.37,227.64 57.55,227.23 57.74,226.82 57.92,226.42 58.11,226.03 58.29,225.64 58.48,225.26 58.66,224.89 58.85,224.52 59.03,224.16 59.21,223.81 59.40,223.46 59.58,223.11 59.77,222.77 59.95,222.44 60.14,222.11 60.19,222.01 60.32,221.78 60.51,221.47 60.69,221.16 60.87,220.86 61.06,220.57 61.24,220.28 61.43,220.00 61.61,219.73 61.80,219.45 61.98,219.19 62.06,219.07 62.17,218.92 62.35,218.65 62.53,218.38 62.72,218.11 62.90,217.84 63.09,217.58 63.27,217.31 63.46,217.05 63.64,216.80 63.83,216.54 64.01,216.29 64.19,216.05 64.38,215.81 64.56,215.58 64.75,215.35 64.93,215.13 65.12,214.92 65.30,214.72 65.49,214.53 65.51,214.51 65.67,214.35 65.85,214.16 66.04,213.98 66.22,213.80 66.41,213.61 66.59,213.44 66.78,213.26 66.96,213.08 67.15,212.91 67.33,212.74 67.51,212.57 67.70,212.41 67.88,212.24 68.07,212.09 68.25,211.93 68.44,211.78 68.62,211.63 68.81,211.49 68.99,211.35 69.17,211.21 69.36,211.08 69.54,210.95 69.73,210.83 69.91,210.72 70.10,210.61 70.28,210.50 70.47,210.40 70.65,210.31 70.83,210.22 71.02,210.14 71.12,210.10 71.20,210.06 71.39,209.99 71.57,209.92 71.76,209.84 71.94,209.77 72.13,209.71 72.31,209.64 72.49,209.57 72.68,209.51 72.86,209.44 73.05,209.38 73.23,209.32 73.42,209.25 73.60,209.19 73.79,209.14 73.97,209.08 74.15,209.02 74.34,208.96 74.52,208.91 74.71,208.85 74.89,208.80 75.08,208.75 75.26,208.70 75.45,208.65 75.63,208.60 75.81,208.55 76.00,208.50 76.18,208.45 76.37,208.41 76.55,208.36 76.74,208.32 76.92,208.27 77.11,208.23 77.29,208.19 77.48,208.15 77.66,208.10 77.84,208.06 78.03,208.03 78.21,207.99 78.40,207.95 78.58,207.91 78.77,207.87 78.95,207.84 79.14,207.80 79.32,207.77 79.50,207.74 79.69,207.70 79.87,207.67 80.06,207.64 80.24,207.61 80.43,207.57 80.61,207.54 80.80,207.51 80.98,207.48 81.16,207.45 81.35,207.43 81.53,207.40 81.72,207.37 81.90,207.34 82.09,207.32 82.20,207.30 82.27,207.29 82.46,207.26 82.64,207.24 82.82,207.21 83.01,207.19 83.19,207.16 83.38,207.14 83.56,207.11 83.75,207.09 83.93,207.06 84.12,207.04 84.30,207.02 84.48,206.99 84.67,206.97 84.85,206.95 85.04,206.92 85.22,206.90 85.41,206.88 85.59,206.86 85.78,206.84 85.96,206.81 86.14,206.79 86.33,206.77 86.51,206.75 86.70,206.73 86.88,206.71 87.07,206.69 87.25,206.67 87.44,206.65 87.62,206.63 87.80,206.61 87.99,206.60 88.17,206.58 88.36,206.56 88.54,206.54 88.73,206.53 88.91,206.51 89.10,206.49 89.28,206.48 89.46,206.46 89.65,206.44 89.83,206.43 90.02,206.41 90.20,206.40 90.39,206.38 90.57,206.37 90.76,206.36 90.94,206.34 91.12,206.33 91.31,206.32 91.49,206.30 91.68,206.29 91.86,206.28 92.05,206.27 92.23,206.26 92.42,206.25 92.60,206.24 92.78,206.23 92.97,206.22 93.15,206.21 93.32,206.20 93.34,206.20 93.52,206.19 93.71,206.18 93.89,206.17 94.08,206.16 94.26,206.15 94.44,206.14 94.63,206.13 94.81,206.13 95.00,206.12 95.18,206.11 95.37,206.10 95.55,206.09 95.74,206.08 95.92,206.07 96.10,206.06 96.29,206.06 96.47,206.05 96.66,206.04 96.84,206.03 97.03,206.02 97.21,206.01 97.40,206.01 97.58,206.00 97.76,205.99 97.95,205.98 98.13,205.97 98.32,205.97 98.50,205.96 98.69,205.95 98.87,205.94 99.06,205.94 99.24,205.93 99.42,205.92 99.61,205.91 99.79,205.91 99.98,205.90 100.16,205.89 100.35,205.88 100.53,205.88 100.72,205.87 100.90,205.86 101.09,205.86 101.27,205.85 101.45,205.84 101.64,205.84 101.82,205.83 102.01,205.83 102.19,205.82 102.38,205.81 102.56,205.81 102.75,205.80 102.93,205.80 103.11,205.79 103.30,205.79 103.48,205.78 103.67,205.78 103.85,205.77 104.04,205.77 104.22,205.76 104.41,205.76 104.59,205.75 104.77,205.75 104.96,205.74 105.14,205.74 105.33,205.73 105.51,205.73 105.70,205.73 105.88,205.72 106.07,205.72 106.25,205.72 106.43,205.71 106.62,205.71 106.80,205.71 106.99,205.70 107.17,205.70 107.36,205.70 107.54,205.70 107.73,205.70 107.91,205.69 108.09,205.69 108.28,205.69 108.46,205.69 108.65,205.69 108.83,205.69 109.02,205.68 109.20,205.68 109.39,205.68 109.57,205.68 109.75,205.68 109.91,205.68 109.94,205.68 110.12,205.68 110.31,205.68 110.49,205.68 110.68,205.68 110.86,205.68 111.05,205.68 111.23,205.68 111.41,205.68 111.60,205.68 111.78,205.68 111.97,205.68 112.15,205.68 112.34,205.68 112.52,205.68 112.71,205.68 112.89,205.68 113.07,205.68 113.26,205.68 113.44,205.68 113.63,205.68 113.81,205.68 114.00,205.68" fill="none" stroke="#ff2a2a" stroke-width="1.0" stroke-linejoin="round"/>
<polyline points="114.00,205.68 114.24,209.87 114.49,213.74 114.69,216.35 114.74,216.99 114.99,219.77 115.23,222.29 115.48,224.62 115.73,226.81 115.98,228.93 116.22,231.05 116.41,232.68 116.47,233.23 116.72,235.49 116.97,237.77 117.21,240.00 117.46,242.12 117.71,244.05 117.95,245.74 117.98,245.92 118.20,247.20 118.45,248.58 118.70,249.88 118.94,251.11 119.19,252.27 119.44,253.38 119.69,254.44 119.93,255.47 120.18,256.45 120.43,257.41 120.68,258.35 120.92,259.28 121.17,260.21 121.28,260.63 121.42,261.13 121.67,262.03 121.91,262.91 122.16,263.76 122.41,264.60 122.65,265.41 122.90,266.21 123.15,266.99 123.40,267.76 123.64,268.51 123.89,269.26 124.14,269.99 124.39,270.72 124.58,271.29 124.63,271.45 124.88,272.15 125.13,272.83 125.38,273.49 125.62,274.15 125.87,274.82 126.01,275.19 126.12,275.50 126.37,276.21 126.61,276.90 126.75,277.25 126.86,277.55 127.11,278.23 127.36,278.87 127.60,279.35 127.68,279.46 127.85,279.63 128.03,279.75 128.10,279.79 128.34,279.92 128.59,280.03 128.84,280.13 129.09,280.21 129.33,280.30 129.45,280.34 129.58,280.39 129.83,280.47 130.08,280.54 130.32,280.62 130.57,280.69 130.82,280.77 131.07,280.85 131.28,280.93 131.31,280.94 131.56,281.04 131.81,281.14 132.06,281.26 132.30,281.41 132.36,281.45 132.55,281.62 132.80,281.92 133.04,282.25 133.05,282.25 133.29,282.59 133.54,282.97 133.79,283.36 133.79,283.36 134.03,283.76 134.28,284.19 134.53,284.63 134.78,285.08 135.02,285.53 135.27,285.97 135.52,286.40 135.77,286.82 135.95,287.11 136.01,287.20 136.26,287.56 136.51,287.91 136.76,288.24 137.00,288.56 137.25,288.88 137.50,289.21 137.74,289.53 137.99,289.88 138.22,290.20 138.24,290.23 138.49,290.61 138.73,291.01 138.98,291.42 139.23,291.85 139.48,292.28 139.72,292.72 139.97,293.14 140.22,293.57 140.47,293.97 140.71,294.36 140.96,294.72 141.21,295.06 141.32,295.20 141.46,295.37 141.70,295.66 141.95,295.94 142.20,296.22 142.45,296.48 142.69,296.74 142.94,296.98 143.19,297.23 143.43,297.46 143.68,297.69 143.93,297.92 144.18,298.14 144.42,298.36 144.67,298.57 144.92,298.79 145.17,299.00 145.41,299.22 145.66,299.43 145.70,299.47 145.91,299.65 146.16,299.86 146.40,300.08 146.65,300.29 146.90,300.51 147.15,300.72 147.39,300.93 147.64,301.14 147.89,301.34 148.13,301.54 148.38,301.74 148.63,301.94 148.88,302.13 149.12,302.31 149.37,302.49 149.62,302.67 149.87,302.84 150.11,303.00 150.36,303.16 150.57,303.29 150.61,303.31 150.86,303.46 151.10,303.60 151.35,303.74 151.60,303.88 151.85,304.01 152.09,304.15 152.34,304.27 152.59,304.40 152.83,304.52 153.08,304.64 153.33,304.76 153.58,304.87 153.82,304.98 154.07,305.09 154.32,305.19 154.57,305.29 154.81,305.39 155.06,305.48 155.10,305.50 155.31,305.57 155.56,305.66 155.80,305.75 156.05,305.83 156.30,305.91 156.55,305.99 156.79,306.07 157.04,306.15 157.29,306.22 157.54,306.29 157.78,306.36 158.03,306.43 158.28,306.50 158.52,306.56 158.77,306.63 159.02,306.69 159.27,306.76 159.51,306.82 159.53,306.82 159.76,306.88 160.01,306.94 160.26,307.00 160.50,307.05 160.75,307.11 161.00,307.17 161.25,307.22 161.49,307.28 161.74,307.33 161.99,307.38 162.24,307.43 162.48,307.48 162.73,307.54 162.98,307.59 163.22,307.63 163.47,307.68 163.72,307.73 163.97,307.78 164.21,307.83 164.46,307.87 164.71,307.92 164.96,307.97 165.20,308.01 165.45,308.06 165.70,308.10 165.93,308.15 165.95,308.15 166.19,308.19 166.44,308.24 166.69,308.28 166.94,308.33 167.18,308.38 167.43,308.42 167.68,308.47 167.92,308.51 168.17,308.55 168.42,308.60 168.67,308.64 168.91,308.68 169.16,308.71 169.41,308.75 169.66,308.79 169.90,308.82 170.15,308.85 170.40,308.88 170.41,308.88 170.65,308.91 170.89,308.93 171.14,308.96 171.39,308.99 171.64,309.02 171.88,309.04 172.13,309.07 172.38,309.10 172.62,309.12 172.87,309.15 173.12,309.17 173.37,309.20 173.61,309.22 173.86,309.25 174.11,309.27 174.36,309.30 174.60,309.32 174.85,309.34 175.10,309.37 175.35,309.39 175.59,309.41 175.84,309.43 176.09,309.46 176.34,309.48 176.58,309.50 176.83,309.52 177.08,309.54 177.33,309.56 177.57,309.58 177.82,309.59 178.07,309.61 178.31,309.63 178.56,309.65 178.81,309.66 179.06,309.68 179.30,309.69 179.55,309.71 179.80,309.72 180.05,309.73 180.29,309.75 180.54,309.76 180.79,309.77 181.04,309.78 181.28,309.79 181.53,309.80 181.78,309.81 182.03,309.82 182.27,309.82 182.52,309.83 182.77,309.84 182.82,309.84 183.01,309.84 183.26,309.85 183.51,309.85 183.76,309.86 184.00,309.86 184.25,309.86 184.50,309.87 184.75,309.87 184.99,309.88 185.24,309.88 185.49,309.88 185.74,309.89 185.98,309.89 186.23,309.89 186.48,309.90 186.73,309.90 186.97,309.90 187.22,309.91 187.47,309.91 187.71,309.91 187.96,309.92 188.21,309.92 188.46,309.92 188.70,309.92 188.95,309.93 189.20,309.93 189.45,309.93 189.69,309.93 189.94,309.94 190.19,309.94 190.44,309.94 190.68,309.94 190.93,309.95 191.18,309.95 191.43,309.95 191.67,309.95 191.92,309.95 192.17,309.96 192.42,309.96 192.66,309.96 192.91,309.96 193.16,309.96 193.40,309.97 193.65,309.97 193.90,309.97 194.15,309.97 194.39,309.98 194.64,309.98 194.89,309.98 195.14,309.98 195.27,309.98 195.38,309.99 195.63,309.99 195.88,309.99 196.13,309.99 196.37,310.00 196.62,310.00 196.87,310.00 197.12,310.00 197.36,310.01 197.61,310.01 197.86,310.01 198.10,310.01 198.35,310.01 198.60,310.02 198.85,310.02 199.09,310.02 199.34,310.02 199.59,310.03 199.84,310.03 200.08,310.03 200.33,310.03 200.58,310.04 200.83,310.04 201.07,310.04 201.32,310.04 201.57,310.04 201.82,310.05 202.06,310.05 202.31,310.05 202.56,310.05 202.80,310.06 203.05,310.06 203.30,310.06 203.55,310.06 203.79,310.06 204.04,310.07 204.29,310.07 204.54,310.07 204.78,310.07 205.03,310.07 205.28,310.08 205.53,310.08 205.77,310.08 206.02,310.08 206.27,310.08 206.52,310.09 206.76,310.09 207.01,310.09 207.26,310.09 207.51,310.09 207.75,310.10 208.00,310.10 208.25,310.10 208.49,310.10 208.74,310.10 208.99,310.11 209.24,310.11 209.48,310.11 209.73,310.11 209.98,310.11 210.23,310.11 210.47,310.12 210.72,310.12 210.97,310.12 211.22,310.12 211.46,310.12 211.71,310.13 211.96,310.13 212.21,310.13 212.45,310.13 212.70,310.13" fill="none" stroke="#ff2a2a" stroke-width="1.0" stroke-linejoin="round"/>
<path d="M40.40,328.30V195.90H212.70" fill="none" stroke="#2b2b2b" stroke-width="1.0"/>
<path d="M40.40,328.30H212.70" fill="none" stroke="#2b2b2b" stroke-width="1.0"/>
<path d="M212.70,195.90V328.30" fill="none" stroke="#2b2b2b" stroke-width="1.0"/>
<path d="M40.40,320.94h1.5M40.40,306.23h1.5M40.40,291.52h1.5M40.40,276.81h1.5M40.40,262.10h1.5M40.40,247.39h1.5M40.40,232.68h1.5M40.40,217.97h1.5M40.40,203.26h1.5M40.40,328.30h2.6M40.40,313.59h2.6M40.40,298.88h2.6M40.40,284.17h2.6M40.40,269.46h2.6M40.40,254.74h2.6M40.40,240.03h2.6M40.40,225.32h2.6M40.40,210.61h2.6M40.40,195.90h2.6" stroke="#2b2b2b" stroke-width="0.9" fill="none"/>
<text stroke="#2b2b2b" stroke-width="0.22" x="37.40" y="331.10" font-size="8.5" text-anchor="end" fill="#2b2b2b">0</text>
<text stroke="#2b2b2b" stroke-width="0.22" x="37.40" y="316.39" font-size="8.5" text-anchor="end" fill="#2b2b2b">20</text>
<text stroke="#2b2b2b" stroke-width="0.22" x="37.40" y="301.68" font-size="8.5" text-anchor="end" fill="#2b2b2b">40</text>
<text stroke="#2b2b2b" stroke-width="0.22" x="37.40" y="286.97" font-size="8.5" text-anchor="end" fill="#2b2b2b">60</text>
<text stroke="#2b2b2b" stroke-width="0.22" x="37.40" y="272.26" font-size="8.5" text-anchor="end" fill="#2b2b2b">80</text>
<text stroke="#2b2b2b" stroke-width="0.22" x="37.40" y="257.54" font-size="8.5" text-anchor="end" fill="#2b2b2b">100</text>
<text stroke="#2b2b2b" stroke-width="0.22" x="37.40" y="242.83" font-size="8.5" text-anchor="end" fill="#2b2b2b">120</text>
<text stroke="#2b2b2b" stroke-width="0.22" x="37.40" y="228.12" font-size="8.5" text-anchor="end" fill="#2b2b2b">140</text>
<text stroke="#2b2b2b" stroke-width="0.22" x="37.40" y="213.41" font-size="8.5" text-anchor="end" fill="#2b2b2b">160</text>
<text stroke="#2b2b2b" stroke-width="0.22" x="37.40" y="198.70" font-size="8.5" text-anchor="end" fill="#2b2b2b">180</text>
<path d="M52.71,328.30v-1.5M77.32,328.30v-1.5M101.94,328.30v-1.5M126.55,328.30v-1.5M151.16,328.30v-1.5M175.78,328.30v-1.5M200.39,328.30v-1.5M40.40,328.30v-2.6M65.01,328.30v-2.6M89.63,328.30v-2.6M114.24,328.30v-2.6M138.86,328.30v-2.6M163.47,328.30v-2.6M188.09,328.30v-2.6M212.70,328.30v-2.6" stroke="#2b2b2b" stroke-width="0.9" fill="none"/>
<text stroke="#2b2b2b" stroke-width="0.22" x="40.40" y="338.10" font-size="8.6" text-anchor="middle" fill="#2b2b2b">0</text>
<text stroke="#2b2b2b" stroke-width="0.22" x="65.01" y="338.10" font-size="8.6" text-anchor="middle" fill="#2b2b2b">500</text>
<text stroke="#2b2b2b" stroke-width="0.22" x="89.63" y="338.10" font-size="8.6" text-anchor="middle" fill="#2b2b2b">1000</text>
<text stroke="#2b2b2b" stroke-width="0.22" x="114.24" y="338.10" font-size="8.6" text-anchor="middle" fill="#2b2b2b">1500</text>
<text stroke="#2b2b2b" stroke-width="0.22" x="138.86" y="338.10" font-size="8.6" text-anchor="middle" fill="#2b2b2b">2000</text>
<text stroke="#2b2b2b" stroke-width="0.22" x="163.47" y="338.10" font-size="8.6" text-anchor="middle" fill="#2b2b2b">2500</text>
<text stroke="#2b2b2b" stroke-width="0.22" x="188.09" y="338.10" font-size="8.6" text-anchor="middle" fill="#2b2b2b">3000</text>
<text stroke="#2b2b2b" stroke-width="0.22" x="212.70" y="338.10" font-size="8.6" text-anchor="middle" fill="#2b2b2b">3500</text>
<rect x="46.20" y="302.50" width="34.30" height="23.20" fill="#fff" stroke="#2b2b2b" stroke-width="0.9"/>
<path d="M47.20,308.40h19.00" stroke="#303030" stroke-width="1.1"/>
<text stroke="#2b2b2b" stroke-width="0.22" x="69.60" y="311.60" font-size="9.2" fill="#2b2b2b">T<tspan font-size="7">2</tspan></text>
<path d="M47.20,319.40h19.00" stroke="#ff2a2a" stroke-width="1.1"/>
<text stroke="#2b2b2b" stroke-width="0.22" x="69.60" y="322.60" font-size="9.2" fill="#2b2b2b">T<tspan font-size="7">1</tspan></text>
<text stroke="#2b2b2b" stroke-width="0.22" x="21.60" y="261.80" font-size="8.7" text-anchor="middle" fill="#2b2b2b" transform="rotate(-90 21.60 261.80)">Temperature/°C</text>
<text stroke="#2b2b2b" stroke-width="0.22" x="122.60" y="348.30" font-size="9.5" text-anchor="middle" fill="#2b2b2b">Time/s</text>
<rect x="143.4" y="200.4" width="63.20" height="52.10" fill="#fff"/>
<polyline points="143.40,211.98 143.56,212.17 143.72,212.36 143.88,212.55 144.03,212.74 144.18,212.90 144.19,212.92 144.35,213.11 144.51,213.30 144.67,213.48 144.83,213.66 144.98,213.85 145.14,214.03 145.30,214.21 145.46,214.39 145.62,214.57 145.78,214.75 145.93,214.92 146.09,215.10 146.25,215.27 146.41,215.45 146.57,215.62 146.73,215.79 146.88,215.97 147.04,216.14 147.20,216.31 147.36,216.48 147.52,216.64 147.68,216.81 147.84,216.98 147.99,217.14 148.15,217.31 148.31,217.47 148.47,217.63 148.63,217.80 148.79,217.96 148.94,218.12 149.10,218.28 149.26,218.44 149.42,218.59 149.58,218.75 149.74,218.91 149.89,219.06 149.99,219.16 150.05,219.22 150.21,219.37 150.37,219.53 150.53,219.68 150.69,219.84 150.84,220.00 151.00,220.15 151.16,220.31 151.32,220.47 151.48,220.62 151.64,220.78 151.79,220.94 151.95,221.10 152.11,221.25 152.27,221.41 152.43,221.56 152.59,221.72 152.75,221.87 152.90,222.03 153.06,222.18 153.22,222.33 153.38,222.48 153.54,222.63 153.70,222.78 153.85,222.93 154.01,223.07 154.17,223.22 154.33,223.36 154.49,223.50 154.65,223.64 154.80,223.78 154.96,223.91 155.12,224.05 155.28,224.18 155.44,224.31 155.60,224.43 155.75,224.56 155.91,224.68 156.07,224.80 156.23,224.92 156.39,225.03 156.55,225.14 156.71,225.25 156.86,225.36 157.02,225.46 157.18,225.56 157.34,225.66 157.36,225.67 157.50,225.75 157.66,225.84 157.81,225.94 157.97,226.03 158.13,226.11 158.29,226.20 158.45,226.28 158.61,226.37 158.76,226.45 158.92,226.52 159.08,226.60 159.24,226.67 159.40,226.73 159.56,226.80 159.71,226.85 159.87,226.91 160.03,226.96 160.07,226.97 160.19,227.01 160.35,227.05 160.51,227.10 160.67,227.14 160.82,227.18 160.98,227.22 161.14,227.26 161.30,227.31 161.46,227.34 161.62,227.38 161.77,227.42 161.93,227.46 162.09,227.50 162.25,227.53 162.41,227.57 162.57,227.60 162.72,227.64 162.88,227.67 163.04,227.70 163.20,227.73 163.36,227.77 163.52,227.80 163.67,227.83 163.83,227.86 163.99,227.89 164.15,227.92 164.31,227.95 164.47,227.97 164.63,228.00 164.78,228.03 164.94,228.06 165.10,228.08 165.26,228.11 165.42,228.14 165.58,228.16 165.73,228.19 165.89,228.21 166.05,228.24 166.21,228.26 166.37,228.29 166.53,228.31 166.68,228.34 166.84,228.36 167.00,228.38 167.16,228.41 167.32,228.43 167.48,228.46 167.63,228.48 167.79,228.50 167.95,228.53 168.11,228.55 168.27,228.57 168.43,228.60 168.58,228.62 168.74,228.64 168.90,228.67 169.06,228.69 169.22,228.72 169.38,228.74 169.54,228.76 169.69,228.79 169.85,228.81 170.01,228.84 170.17,228.86 170.33,228.89 170.49,228.92 170.64,228.94 170.80,228.97 170.96,228.99 171.12,229.02 171.28,229.05 171.32,229.06 171.44,229.08 171.59,229.10 171.75,229.13 171.91,229.16 172.07,229.18 172.23,229.21 172.39,229.24 172.54,229.26 172.70,229.29 172.86,229.32 173.02,229.34 173.18,229.37 173.34,229.40 173.50,229.42 173.65,229.45 173.81,229.47 173.97,229.50 174.13,229.52 174.29,229.55 174.45,229.57 174.60,229.60 174.76,229.62 174.92,229.65 175.08,229.67 175.24,229.70 175.40,229.72 175.55,229.75 175.71,229.77 175.87,229.80 176.03,229.82 176.19,229.85 176.35,229.87 176.50,229.90 176.66,229.92 176.82,229.95 176.98,229.97 177.14,229.99 177.30,230.02 177.46,230.04 177.61,230.07 177.77,230.09 177.93,230.12 178.09,230.14 178.25,230.17 178.41,230.19 178.56,230.22 178.72,230.24 178.88,230.26 179.04,230.29 179.20,230.31 179.36,230.34 179.51,230.36 179.67,230.39 179.83,230.41 179.99,230.44 180.15,230.46 180.31,230.49 180.46,230.51 180.62,230.54 180.78,230.56 180.94,230.59 181.10,230.61 181.26,230.64 181.42,230.66 181.57,230.69 181.73,230.72 181.89,230.74 182.05,230.77 182.21,230.79 182.37,230.82 182.52,230.85 182.68,230.87 182.84,230.90 183.00,230.93 183.16,230.95 183.32,230.98 183.47,231.01 183.63,231.03 183.79,231.06 183.95,231.09 184.11,231.12 184.27,231.15 184.42,231.17 184.58,231.20 184.74,231.23 184.90,231.26 185.06,231.29 185.22,231.32 185.37,231.35 185.53,231.38 185.66,231.40 185.69,231.40 185.85,231.43 186.01,231.46 186.17,231.49 186.33,231.52 186.48,231.55 186.64,231.58 186.80,231.61 186.96,231.64 187.12,231.67 187.28,231.70 187.43,231.73 187.59,231.75 187.75,231.78 187.91,231.81 188.07,231.84 188.23,231.87 188.38,231.90 188.54,231.93 188.70,231.96 188.86,231.99 189.02,232.02 189.18,232.05 189.33,232.08 189.49,232.11 189.65,232.14 189.81,232.17 189.97,232.21 190.13,232.24 190.29,232.27 190.44,232.30 190.60,232.34 190.76,232.37 190.92,232.40 191.08,232.44 191.24,232.47 191.39,232.51 191.55,232.54 191.71,232.58 191.87,232.62 192.03,232.65 192.19,232.69 192.34,232.73 192.50,232.77 192.66,232.81 192.82,232.85 192.98,232.89 193.14,232.93 193.29,232.97 193.45,233.01 193.61,233.06 193.77,233.10 193.93,233.15 194.09,233.19 194.19,233.22 194.25,233.24 194.40,233.29 194.56,233.34 194.72,233.39 194.88,233.44 195.04,233.50 195.20,233.55 195.35,233.61 195.51,233.67 195.67,233.73 195.83,233.79 195.99,233.86 196.15,233.92 196.30,233.99 196.46,234.05 196.62,234.12 196.78,234.19 196.94,234.26 197.10,234.33 197.25,234.41 197.41,234.48 197.57,234.55 197.73,234.63 197.89,234.70 198.05,234.78 198.21,234.86 198.36,234.94 198.52,235.01 198.68,235.09 198.84,235.17 199.00,235.25 199.16,235.33 199.31,235.41 199.47,235.49 199.62,235.57 199.63,235.57 199.79,235.65 199.95,235.74 200.11,235.82 200.26,235.91 200.42,236.00 200.58,236.09 200.74,236.18 200.90,236.27 201.06,236.36 201.21,236.46 201.37,236.55 201.53,236.65 201.69,236.75 201.85,236.84 202.01,236.94 202.16,237.04 202.32,237.14 202.48,237.25 202.64,237.35 202.80,237.45 202.96,237.56 203.12,237.66 203.27,237.76 203.43,237.87 203.59,237.98 203.75,238.08 203.91,238.19 204.07,238.29 204.22,238.40 204.38,238.51 204.54,238.61 204.70,238.72 204.86,238.83 205.02,238.93 205.17,239.04 205.33,239.15 205.44,239.21 205.49,239.25 205.65,239.36 205.81,239.46 205.97,239.57 206.12,239.68 206.28,239.78 206.44,239.89 206.60,239.99" fill="none" stroke="#303030" stroke-width="1.0" stroke-linejoin="round"/>
<polyline points="143.40,206.73 143.56,206.93 143.72,207.12 143.88,207.32 144.03,207.52 144.18,207.69 144.19,207.71 144.35,207.91 144.51,208.11 144.67,208.31 144.83,208.51 144.98,208.71 145.14,208.91 145.30,209.11 145.46,209.32 145.62,209.52 145.78,209.72 145.93,209.93 146.09,210.13 146.25,210.34 146.41,210.54 146.57,210.74 146.73,210.95 146.88,211.15 147.04,211.35 147.20,211.56 147.36,211.76 147.52,211.96 147.68,212.16 147.84,212.36 147.99,212.56 148.15,212.76 148.31,212.96 148.47,213.16 148.63,213.35 148.79,213.55 148.94,213.74 149.10,213.94 149.26,214.13 149.42,214.32 149.58,214.50 149.74,214.69 149.89,214.88 149.99,214.99 150.05,215.06 150.21,215.24 150.37,215.43 150.53,215.62 150.69,215.81 150.84,216.00 151.00,216.19 151.16,216.39 151.32,216.58 151.48,216.78 151.64,216.98 151.79,217.17 151.95,217.37 152.11,217.57 152.27,217.77 152.43,217.96 152.59,218.16 152.75,218.35 152.90,218.55 153.06,218.74 153.22,218.93 153.38,219.12 153.54,219.31 153.70,219.50 153.85,219.68 154.01,219.86 154.17,220.04 154.33,220.22 154.49,220.39 154.65,220.56 154.80,220.73 154.96,220.89 155.12,221.05 155.28,221.21 155.44,221.36 155.60,221.51 155.75,221.65 155.91,221.79 156.07,221.92 156.23,222.05 156.39,222.18 156.55,222.29 156.71,222.41 156.86,222.51 157.02,222.61 157.18,222.71 157.34,222.79 157.36,222.80 157.50,222.87 157.66,222.95 157.81,223.03 157.97,223.10 158.13,223.17 158.29,223.24 158.45,223.31 158.61,223.37 158.76,223.43 158.92,223.49 159.08,223.54 159.24,223.60 159.40,223.65 159.56,223.70 159.71,223.74 159.87,223.79 160.03,223.83 160.07,223.84 160.19,223.88 160.35,223.92 160.51,223.96 160.67,224.00 160.82,224.04 160.98,224.08 161.14,224.12 161.30,224.16 161.46,224.19 161.62,224.23 161.77,224.27 161.93,224.30 162.09,224.34 162.25,224.37 162.41,224.41 162.57,224.44 162.72,224.48 162.88,224.51 163.04,224.54 163.20,224.57 163.36,224.61 163.52,224.64 163.67,224.67 163.83,224.70 163.99,224.73 164.15,224.76 164.31,224.79 164.47,224.82 164.63,224.85 164.78,224.88 164.94,224.90 165.10,224.93 165.26,224.96 165.42,224.99 165.58,225.01 165.73,225.04 165.89,225.07 166.05,225.10 166.21,225.12 166.37,225.15 166.53,225.17 166.68,225.20 166.84,225.22 167.00,225.25 167.16,225.28 167.32,225.30 167.48,225.33 167.63,225.35 167.79,225.38 167.95,225.40 168.11,225.42 168.27,225.45 168.43,225.47 168.58,225.50 168.74,225.52 168.90,225.55 169.06,225.57 169.22,225.60 169.38,225.62 169.54,225.65 169.69,225.67 169.85,225.70 170.01,225.72 170.17,225.75 170.33,225.77 170.49,225.80 170.64,225.82 170.80,225.85 170.96,225.87 171.12,225.90 171.28,225.92 171.32,225.93 171.44,225.95 171.59,225.97 171.75,226.00 171.91,226.02 172.07,226.05 172.23,226.07 172.39,226.10 172.54,226.12 172.70,226.15 172.86,226.17 173.02,226.20 173.18,226.22 173.34,226.24 173.50,226.27 173.65,226.29 173.81,226.31 173.97,226.33 174.13,226.36 174.29,226.38 174.45,226.40 174.60,226.42 174.76,226.45 174.92,226.47 175.08,226.49 175.24,226.51 175.40,226.53 175.55,226.56 175.71,226.58 175.87,226.60 176.03,226.62 176.19,226.64 176.35,226.66 176.50,226.68 176.66,226.71 176.82,226.73 176.98,226.75 177.14,226.77 177.30,226.79 177.46,226.81 177.61,226.83 177.77,226.85 177.93,226.87 178.09,226.90 178.25,226.92 178.41,226.94 178.56,226.96 178.72,226.98 178.88,227.00 179.04,227.02 179.20,227.04 179.36,227.06 179.51,227.09 179.67,227.11 179.83,227.13 179.99,227.15 180.15,227.17 180.31,227.19 180.46,227.22 180.62,227.24 180.78,227.26 180.94,227.28 181.10,227.30 181.26,227.33 181.42,227.35 181.57,227.37 181.73,227.39 181.89,227.42 182.05,227.44 182.21,227.46 182.37,227.49 182.52,227.51 182.68,227.53 182.84,227.56 183.00,227.58 183.16,227.60 183.32,227.63 183.47,227.65 183.63,227.68 183.79,227.70 183.95,227.73 184.11,227.75 184.27,227.78 184.42,227.80 184.58,227.83 184.74,227.86 184.90,227.88 185.06,227.91 185.22,227.94 185.37,227.96 185.53,227.99 185.66,228.01 185.69,228.02 185.85,228.05 186.01,228.07 186.17,228.10 186.33,228.13 186.48,228.16 186.64,228.18 186.80,228.21 186.96,228.24 187.12,228.27 187.28,228.29 187.43,228.32 187.59,228.35 187.75,228.38 187.91,228.40 188.07,228.43 188.23,228.46 188.38,228.49 188.54,228.52 188.70,228.54 188.86,228.57 189.02,228.60 189.18,228.63 189.33,228.66 189.49,228.69 189.65,228.72 189.81,228.75 189.97,228.79 190.13,228.82 190.29,228.85 190.44,228.88 190.60,228.91 190.76,228.95 190.92,228.98 191.08,229.02 191.24,229.05 191.39,229.09 191.55,229.12 191.71,229.16 191.87,229.20 192.03,229.24 192.19,229.28 192.34,229.32 192.50,229.36 192.66,229.40 192.82,229.44 192.98,229.48 193.14,229.52 193.29,229.57 193.45,229.61 193.61,229.66 193.77,229.71 193.93,229.75 194.09,229.80 194.19,229.84 194.25,229.85 194.40,229.91 194.56,229.96 194.72,230.02 194.88,230.08 195.04,230.15 195.20,230.21 195.35,230.28 195.51,230.36 195.67,230.43 195.83,230.51 195.99,230.59 196.15,230.67 196.30,230.75 196.46,230.84 196.62,230.92 196.78,231.01 196.94,231.10 197.10,231.19 197.25,231.28 197.41,231.37 197.57,231.47 197.73,231.56 197.89,231.66 198.05,231.75 198.21,231.85 198.36,231.94 198.52,232.04 198.68,232.14 198.84,232.23 199.00,232.33 199.16,232.42 199.31,232.52 199.47,232.61 199.62,232.70 199.63,232.71 199.79,232.80 199.95,232.90 200.11,232.99 200.26,233.09 200.42,233.19 200.58,233.29 200.74,233.39 200.90,233.49 201.06,233.59 201.21,233.69 201.37,233.79 201.53,233.90 201.69,234.00 201.85,234.11 202.01,234.21 202.16,234.32 202.32,234.43 202.48,234.53 202.64,234.64 202.80,234.75 202.96,234.86 203.12,234.97 203.27,235.08 203.43,235.19 203.59,235.30 203.75,235.41 203.91,235.52 204.07,235.64 204.22,235.75 204.38,235.86 204.54,235.97 204.70,236.08 204.86,236.20 205.02,236.31 205.17,236.42 205.33,236.54 205.44,236.61 205.49,236.65 205.65,236.76 205.81,236.87 205.97,236.99 206.12,237.10 206.28,237.22 206.44,237.33 206.60,237.44" fill="none" stroke="#ff2a2a" stroke-width="1.0" stroke-linejoin="round"/>
<rect x="143.4" y="200.4" width="63.20" height="52.10" fill="none" stroke="#2b2b2b" stroke-width="0.9"/>
<path d="M143.40,245.99h1.2M143.40,232.96h1.2M143.40,219.94h1.2M143.40,206.91h1.2M143.40,252.50h2M143.40,239.47h2M143.40,226.45h2M143.40,213.43h2M143.40,200.40h2" stroke="#2b2b2b" stroke-width="0.9" fill="none"/>
<text stroke="#2b2b2b" stroke-width="0.22" x="141.00" y="254.40" font-size="5.4" text-anchor="end" fill="#2b2b2b">55</text>
<text stroke="#2b2b2b" stroke-width="0.22" x="141.00" y="241.38" font-size="5.4" text-anchor="end" fill="#2b2b2b">60</text>
<text stroke="#2b2b2b" stroke-width="0.22" x="141.00" y="228.35" font-size="5.4" text-anchor="end" fill="#2b2b2b">65</text>
<text stroke="#2b2b2b" stroke-width="0.22" x="141.00" y="215.33" font-size="5.4" text-anchor="end" fill="#2b2b2b">70</text>
<text stroke="#2b2b2b" stroke-width="0.22" x="141.00" y="202.30" font-size="5.4" text-anchor="end" fill="#2b2b2b">75</text>
<path d="M158.13,252.50v-1.2M177.52,252.50v-1.2M196.91,252.50v-1.2M148.44,252.50v-2M167.83,252.50v-2M187.21,252.50v-2M206.60,252.50v-2" stroke="#2b2b2b" stroke-width="0.9" fill="none"/>
<text stroke="#2b2b2b" stroke-width="0.22" x="148.44" y="260.40" font-size="5.4" text-anchor="middle" fill="#2b2b2b">1750</text>
<text stroke="#2b2b2b" stroke-width="0.22" x="167.83" y="260.40" font-size="5.4" text-anchor="middle" fill="#2b2b2b">1800</text>
<text stroke="#2b2b2b" stroke-width="0.22" x="187.21" y="260.40" font-size="5.4" text-anchor="middle" fill="#2b2b2b">1850</text>
<text stroke="#2b2b2b" stroke-width="0.22" x="206.60" y="260.40" font-size="5.4" text-anchor="middle" fill="#2b2b2b">1900</text>
<text stroke="#2b2b2b" stroke-width="0.22" x="132.60" y="226.30" font-size="7.9" text-anchor="middle" fill="#2b2b2b" transform="rotate(-90 132.60 226.30)">Temperature/°C</text>
<text stroke="#2b2b2b" stroke-width="0.22" x="175.00" y="269.00" font-size="7.9" text-anchor="middle" fill="#2b2b2b">Time/s</text>
<rect x="219.5" y="190" width="231.5" height="180" fill="#fff"/>
<polyline points="243.50,321.78 243.68,321.14 243.86,320.01 244.04,318.12 244.22,315.57 244.41,312.73 244.59,309.87 244.77,307.10 244.95,304.48 245.13,302.03 245.31,299.79 245.49,297.88 245.67,296.41 245.85,295.35 246.04,294.58 246.22,293.94 246.40,293.37 246.58,292.85 246.76,292.34 246.94,291.81 247.12,291.26 247.30,290.69 247.48,290.09 247.67,289.45 247.85,288.76 248.03,288.04 248.21,287.28 248.39,286.49 248.57,285.66 248.75,284.81 248.93,283.92 249.12,283.02 249.30,282.08 249.48,281.10 249.66,280.07 249.84,278.97 250.02,277.84 250.20,276.67 250.38,275.49 250.56,274.32 250.75,273.17 250.93,272.07 251.11,271.01 251.29,269.99 251.47,269.00 251.65,268.03 251.83,267.08 252.01,266.15 252.19,265.24 252.38,264.35 252.56,263.50 252.74,262.66 252.92,261.85 253.10,261.07 253.28,260.30 253.46,259.55 253.64,258.81 253.82,258.08 254.01,257.37 254.19,256.66 254.37,255.96 254.55,255.26 254.73,254.57 254.91,253.88 255.09,253.18 255.27,252.48 255.45,251.78 255.64,251.06 255.82,250.35 256.00,249.62 256.18,248.90 256.36,248.18 256.54,247.45 256.72,246.73 256.90,246.02 257.09,245.32 257.27,244.62 257.45,243.94 257.63,243.27 257.81,242.61 257.99,241.98 258.17,241.36 258.35,240.77 258.53,240.19 258.72,239.63 258.90,239.08 259.08,238.54 259.26,238.01 259.44,237.49 259.62,236.98 259.80,236.48 259.98,235.99 260.16,235.50 260.35,235.03 260.53,234.56 260.71,234.10 260.89,233.65 261.07,233.20 261.25,232.77 261.43,232.34 261.61,231.92 261.79,231.51 261.98,231.11 262.16,230.71 262.34,230.32 262.52,229.93 262.70,229.55 262.88,229.18 263.06,228.81 263.24,228.45 263.42,228.09 263.61,227.75 263.79,227.42 263.97,227.09 264.15,226.78 264.33,226.47 264.51,226.18 264.69,225.90 264.87,225.63 265.05,225.37 265.24,225.12 265.42,224.87 265.60,224.62 265.78,224.38 265.96,224.15 266.14,223.92 266.32,223.70 266.50,223.48 266.69,223.27 266.87,223.07 267.05,222.87 267.23,222.67 267.41,222.48 267.59,222.30 267.77,222.12 267.95,221.94 268.13,221.77 268.32,221.60 268.50,221.44 268.68,221.28 268.86,221.12 269.04,220.96 269.22,220.80 269.40,220.65 269.58,220.50 269.76,220.35 269.95,220.20 270.13,220.05 270.31,219.91 270.49,219.77 270.67,219.63 270.85,219.49 271.03,219.35 271.21,219.22 271.39,219.09 271.58,218.96 271.76,218.83 271.94,218.71 272.12,218.59 272.30,218.47 272.48,218.35 272.66,218.24 272.84,218.13 273.02,218.02 273.21,217.91 273.39,217.81 273.57,217.71 273.75,217.61 273.93,217.52 274.11,217.43 274.29,217.34 274.47,217.25 274.66,217.17 274.84,217.08 275.02,217.00 275.20,216.92 275.38,216.84 275.56,216.76 275.74,216.68 275.92,216.60 276.10,216.53 276.29,216.45 276.47,216.38 276.65,216.30 276.83,216.23 277.01,216.16 277.19,216.09 277.37,216.03 277.55,215.96 277.73,215.90 277.92,215.83 278.10,215.77 278.28,215.71 278.46,215.66 278.64,215.60 278.82,215.54 279.00,215.49 279.18,215.44 279.36,215.39 279.55,215.34 279.73,215.30 279.91,215.25 280.09,215.21 280.27,215.17 280.45,215.13 280.63,215.10 280.81,215.06 280.99,215.03 281.18,214.99 281.36,214.96 281.54,214.93 281.72,214.89 281.90,214.86 282.08,214.83 282.26,214.80 282.44,214.77 282.63,214.74 282.81,214.71 282.99,214.68 283.17,214.65 283.35,214.62 283.53,214.59 283.71,214.56 283.89,214.54 284.07,214.51 284.26,214.48 284.44,214.46 284.62,214.43 284.80,214.41 284.98,214.38 285.16,214.36 285.34,214.34 285.52,214.31 285.70,214.29 285.89,214.27 286.07,214.25 286.25,214.23 286.43,214.20 286.61,214.18 286.79,214.17 286.97,214.15 287.15,214.13 287.33,214.11 287.52,214.09 287.70,214.07 287.88,214.06 288.06,214.04 288.24,214.02 288.42,214.01 288.60,213.99 288.78,213.98 288.96,213.97 289.15,213.95 289.33,213.94 289.51,213.93 289.69,213.92 289.87,213.90 290.05,213.89 290.23,213.88 290.41,213.87 290.59,213.86 290.78,213.85 290.96,213.84 291.14,213.83 291.32,213.82 291.50,213.81 291.68,213.80 291.86,213.79 292.04,213.78 292.23,213.77 292.41,213.76 292.59,213.75 292.77,213.74 292.95,213.74 293.13,213.73 293.31,213.72 293.49,213.71 293.67,213.70 293.86,213.69 294.04,213.69 294.22,213.68 294.40,213.67 294.58,213.66 294.76,213.65 294.94,213.65 295.12,213.64 295.30,213.63 295.49,213.63 295.67,213.62 295.85,213.61 296.03,213.60 296.21,213.60 296.39,213.59 296.57,213.59 296.75,213.58 296.93,213.57 297.12,213.57 297.30,213.56 297.48,213.56 297.66,213.55 297.84,213.54 298.02,213.54 298.20,213.53 298.38,213.53 298.56,213.52 298.75,213.52 298.93,213.51 299.11,213.51 299.29,213.50 299.47,213.50 299.65,213.50 299.83,213.49 300.01,213.49 300.20,213.48 300.38,213.48 300.56,213.48 300.74,213.47 300.92,213.47 301.10,213.47 301.28,213.46 301.46,213.46 301.64,213.46 301.83,213.45 302.01,213.45 302.19,213.45 302.37,213.44 302.55,213.44 302.73,213.44 302.91,213.44 303.09,213.43 303.27,213.43 303.46,213.43 303.64,213.42 303.82,213.42 304.00,213.42 304.18,213.42 304.36,213.41 304.54,213.41 304.72,213.41 304.90,213.41 305.09,213.40 305.27,213.40 305.45,213.40 305.63,213.40 305.81,213.39 305.99,213.39 306.17,213.39 306.35,213.39 306.53,213.38 306.72,213.38 306.90,213.38 307.08,213.38 307.26,213.37 307.44,213.37 307.62,213.37 307.80,213.37 307.98,213.36 308.16,213.36 308.35,213.36 308.53,213.36 308.71,213.36 308.89,213.35 309.07,213.35 309.25,213.35 309.43,213.35 309.61,213.35 309.80,213.34 309.98,213.34 310.16,213.34 310.34,213.34 310.52,213.34 310.70,213.34 310.88,213.33 311.06,213.33 311.24,213.33 311.43,213.33 311.61,213.33 311.79,213.33 311.97,213.33 312.15,213.33 312.33,213.32 312.51,213.32 312.69,213.32 312.87,213.32 313.06,213.32 313.24,213.32 313.42,213.32 313.60,213.32 313.78,213.32 313.96,213.32 314.14,213.32 314.32,213.32 314.50,213.31 314.69,213.31 314.87,213.31 315.05,213.31 315.23,213.31 315.41,213.31 315.59,213.31 315.77,213.31" fill="none" stroke="#303030" stroke-width="1.0" stroke-linejoin="round"/>
<polyline points="315.77,213.33 316.02,213.82 316.26,214.76 316.50,216.22 316.74,218.01 316.99,219.87 317.23,221.65 317.47,223.39 317.72,225.16 317.96,226.95 318.20,228.74 318.44,230.50 318.69,232.23 318.93,233.92 319.17,235.60 319.42,237.26 319.66,238.91 319.90,240.54 320.15,242.16 320.39,243.75 320.63,245.30 320.87,246.83 321.12,248.35 321.36,249.89 321.60,251.48 321.85,253.15 322.09,254.93 322.33,256.84 322.57,258.78 322.82,260.65 323.06,262.35 323.30,263.90 323.55,265.36 323.79,266.73 324.03,268.03 324.27,269.27 324.52,270.43 324.76,271.51 325.00,272.54 325.25,273.52 325.49,274.49 325.73,275.46 325.98,276.42 326.22,277.37 326.46,278.31 326.70,279.25 326.95,280.18 327.19,281.11 327.43,282.07 327.68,283.02 327.92,283.96 328.16,284.83 328.40,285.64 328.65,286.41 328.89,287.11 329.13,287.67 329.38,288.05 329.62,288.30 329.86,288.49 330.11,288.63 330.35,288.76 330.59,288.87 330.83,288.96 331.08,289.04 331.32,289.11 331.56,289.19 331.81,289.27 332.05,289.36 332.29,289.47 332.53,289.58 332.78,289.71 333.02,289.84 333.26,289.98 333.51,290.14 333.75,290.30 333.99,290.48 334.23,290.67 334.48,290.88 334.72,291.10 334.96,291.33 335.21,291.58 335.45,291.83 335.69,292.09 335.94,292.35 336.18,292.63 336.42,292.93 336.66,293.24 336.91,293.56 337.15,293.89 337.39,294.23 337.64,294.59 337.88,294.95 338.12,295.33 338.36,295.72 338.61,296.14 338.85,296.57 339.09,297.02 339.34,297.47 339.58,297.93 339.82,298.39 340.07,298.84 340.31,299.28 340.55,299.71 340.79,300.12 341.04,300.53 341.28,300.93 341.52,301.32 341.77,301.71 342.01,302.08 342.25,302.44 342.49,302.78 342.74,303.12 342.98,303.46 343.22,303.79 343.47,304.12 343.71,304.45 343.95,304.77 344.19,305.09 344.44,305.41 344.68,305.72 344.92,306.02 345.17,306.33 345.41,306.62 345.65,306.91 345.90,307.19 346.14,307.47 346.38,307.74 346.62,308.00 346.87,308.26 347.11,308.50 347.35,308.74 347.60,308.97 347.84,309.19 348.08,309.40 348.32,309.61 348.57,309.81 348.81,310.01 349.05,310.20 349.30,310.40 349.54,310.58 349.78,310.77 350.03,310.94 350.27,311.12 350.51,311.29 350.75,311.46 351.00,311.63 351.24,311.79 351.48,311.95 351.73,312.11 351.97,312.26 352.21,312.41 352.45,312.56 352.70,312.71 352.94,312.85 353.18,312.99 353.43,313.13 353.67,313.27 353.91,313.41 354.15,313.54 354.40,313.67 354.64,313.80 354.88,313.93 355.13,314.06 355.37,314.18 355.61,314.31 355.86,314.44 356.10,314.56 356.34,314.68 356.58,314.80 356.83,314.92 357.07,315.04 357.31,315.16 357.56,315.27 357.80,315.39 358.04,315.50 358.28,315.61 358.53,315.72 358.77,315.82 359.01,315.93 359.26,316.03 359.50,316.13 359.74,316.23 359.99,316.33 360.23,316.42 360.47,316.51 360.71,316.60 360.96,316.69 361.20,316.78 361.44,316.86 361.69,316.94 361.93,317.02 362.17,317.09 362.41,317.16 362.66,317.23 362.90,317.30 363.14,317.37 363.39,317.44 363.63,317.51 363.87,317.58 364.11,317.64 364.36,317.71 364.60,317.77 364.84,317.83 365.09,317.89 365.33,317.95 365.57,318.00 365.82,318.05 366.06,318.11 366.30,318.16 366.54,318.20 366.79,318.25 367.03,318.29 367.27,318.33 367.52,318.37 367.76,318.40 368.00,318.43 368.24,318.46 368.49,318.49 368.73,318.52 368.97,318.55 369.22,318.58 369.46,318.61 369.70,318.63 369.95,318.66 370.19,318.68 370.43,318.71 370.67,318.73 370.92,318.76 371.16,318.78 371.40,318.80 371.65,318.82 371.89,318.85 372.13,318.87 372.37,318.89 372.62,318.91 372.86,318.93 373.10,318.95 373.35,318.97 373.59,318.99 373.83,319.00 374.07,319.02 374.32,319.04 374.56,319.06 374.80,319.07 375.05,319.09 375.29,319.11 375.53,319.12 375.78,319.14 376.02,319.15 376.26,319.17 376.50,319.18 376.75,319.19 376.99,319.21 377.23,319.22 377.48,319.23 377.72,319.25 377.96,319.26 378.20,319.27 378.45,319.29 378.69,319.30 378.93,319.31 379.18,319.32 379.42,319.33 379.66,319.34 379.91,319.36 380.15,319.37 380.39,319.38 380.63,319.39 380.88,319.40 381.12,319.41 381.36,319.42 381.61,319.43 381.85,319.44 382.09,319.46 382.33,319.47 382.58,319.48 382.82,319.49 383.06,319.50 383.31,319.51 383.55,319.51 383.79,319.52 384.03,319.53 384.28,319.54 384.52,319.55 384.76,319.56 385.01,319.57 385.25,319.57 385.49,319.58 385.74,319.59 385.98,319.59 386.22,319.60 386.46,319.61 386.71,319.61 386.95,319.62 387.19,319.62 387.44,319.63 387.68,319.63 387.92,319.64 388.16,319.64 388.41,319.64 388.65,319.65 388.89,319.65 389.14,319.65 389.38,319.65 389.62,319.66 389.86,319.66 390.11,319.66 390.35,319.67 390.59,319.67 390.84,319.67 391.08,319.67 391.32,319.68 391.57,319.68 391.81,319.68 392.05,319.68 392.29,319.69 392.54,319.69 392.78,319.69 393.02,319.69 393.27,319.69 393.51,319.70 393.75,319.70 393.99,319.70 394.24,319.70 394.48,319.71 394.72,319.71 394.97,319.71 395.21,319.71 395.45,319.71 395.70,319.72 395.94,319.72 396.18,319.72 396.42,319.72 396.67,319.72 396.91,319.73 397.15,319.73 397.40,319.73 397.64,319.73 397.88,319.73 398.12,319.74 398.37,319.74 398.61,319.74 398.85,319.74 399.10,319.74 399.34,319.74 399.58,319.75 399.82,319.75 400.07,319.75 400.31,319.75 400.55,319.75 400.80,319.75 401.04,319.75 401.28,319.76 401.53,319.76 401.77,319.76 402.01,319.76 402.25,319.76 402.50,319.76 402.74,319.76 402.98,319.77 403.23,319.77 403.47,319.77 403.71,319.77 403.95,319.77 404.20,319.77 404.44,319.77 404.68,319.77 404.93,319.77 405.17,319.78 405.41,319.78 405.66,319.78 405.90,319.78 406.14,319.78 406.38,319.78 406.63,319.78 406.87,319.78 407.11,319.78 407.36,319.78 407.60,319.78 407.84,319.78 408.08,319.78 408.33,319.79 408.57,319.79 408.81,319.79 409.06,319.79 409.30,319.79 409.54,319.79 409.78,319.79 410.03,319.79 410.27,319.79 410.51,319.79 410.76,319.79 411.00,319.79 411.24,319.79 411.49,319.79 411.73,319.79 411.97,319.79 412.21,319.79 412.46,319.79 412.70,319.79" fill="none" stroke="#303030" stroke-width="1.0" stroke-linejoin="round"/>
<polyline points="243.50,324.05 243.68,323.63 243.86,323.20 244.04,322.75 244.22,322.28 244.41,321.80 244.59,321.31 244.77,320.82 244.95,320.31 245.13,319.81 245.31,319.31 245.49,318.81 245.67,318.32 245.85,317.84 246.04,317.37 246.22,316.90 246.40,316.44 246.58,315.98 246.76,315.52 246.94,315.06 247.12,314.60 247.30,314.13 247.48,313.66 247.67,313.20 247.85,312.73 248.03,312.27 248.21,311.80 248.39,311.32 248.57,310.83 248.75,310.32 248.93,309.79 249.12,309.23 249.30,308.63 249.48,308.01 249.66,307.35 249.84,306.65 250.02,305.92 250.20,305.16 250.38,304.37 250.56,303.56 250.75,302.74 250.93,301.90 251.11,301.06 251.29,300.20 251.47,299.35 251.65,298.50 251.83,297.66 252.01,296.81 252.19,295.96 252.38,295.12 252.56,294.26 252.74,293.40 252.92,292.53 253.10,291.66 253.28,290.77 253.46,289.88 253.64,288.99 253.82,288.08 254.01,287.17 254.19,286.25 254.37,285.32 254.55,284.37 254.73,283.42 254.91,282.44 255.09,281.45 255.27,280.44 255.45,279.43 255.64,278.41 255.82,277.40 256.00,276.40 256.18,275.42 256.36,274.45 256.54,273.49 256.72,272.54 256.90,271.59 257.09,270.65 257.27,269.72 257.45,268.80 257.63,267.89 257.81,266.99 257.99,266.10 258.17,265.23 258.35,264.38 258.53,263.55 258.72,262.73 258.90,261.93 259.08,261.14 259.26,260.37 259.44,259.61 259.62,258.86 259.80,258.12 259.98,257.40 260.16,256.68 260.35,255.97 260.53,255.27 260.71,254.57 260.89,253.88 261.07,253.20 261.25,252.52 261.43,251.84 261.61,251.16 261.79,250.48 261.98,249.79 262.16,249.09 262.34,248.40 262.52,247.70 262.70,247.00 262.88,246.31 263.06,245.61 263.24,244.92 263.42,244.24 263.61,243.56 263.79,242.90 263.97,242.24 264.15,241.60 264.33,240.96 264.51,240.35 264.69,239.75 264.87,239.17 265.05,238.60 265.24,238.06 265.42,237.54 265.60,237.04 265.78,236.57 265.96,236.13 266.14,235.71 266.32,235.31 266.50,234.94 266.69,234.58 266.87,234.23 267.05,233.90 267.23,233.58 267.41,233.26 267.59,232.96 267.77,232.67 267.95,232.38 268.13,232.10 268.32,231.83 268.50,231.57 268.68,231.31 268.86,231.05 269.04,230.81 269.22,230.56 269.40,230.32 269.58,230.09 269.76,229.85 269.95,229.62 270.13,229.39 270.31,229.16 270.49,228.94 270.67,228.71 270.85,228.48 271.03,228.25 271.21,228.02 271.39,227.79 271.58,227.56 271.76,227.32 271.94,227.09 272.12,226.86 272.30,226.62 272.48,226.39 272.66,226.16 272.84,225.93 273.02,225.70 273.21,225.47 273.39,225.24 273.57,225.02 273.75,224.79 273.93,224.57 274.11,224.35 274.29,224.14 274.47,223.93 274.66,223.72 274.84,223.51 275.02,223.30 275.20,223.10 275.38,222.91 275.56,222.72 275.74,222.53 275.92,222.35 276.10,222.17 276.29,221.99 276.47,221.83 276.65,221.66 276.83,221.51 277.01,221.35 277.19,221.21 277.37,221.07 277.55,220.93 277.73,220.80 277.92,220.67 278.10,220.54 278.28,220.42 278.46,220.29 278.64,220.17 278.82,220.05 279.00,219.94 279.18,219.82 279.36,219.71 279.55,219.59 279.73,219.48 279.91,219.38 280.09,219.27 280.27,219.17 280.45,219.06 280.63,218.96 280.81,218.87 280.99,218.77 281.18,218.68 281.36,218.59 281.54,218.50 281.72,218.41 281.90,218.33 282.08,218.24 282.26,218.16 282.44,218.09 282.63,218.01 282.81,217.94 282.99,217.87 283.17,217.80 283.35,217.73 283.53,217.67 283.71,217.60 283.89,217.54 284.07,217.48 284.26,217.43 284.44,217.37 284.62,217.32 284.80,217.26 284.98,217.21 285.16,217.16 285.34,217.11 285.52,217.06 285.70,217.01 285.89,216.97 286.07,216.92 286.25,216.87 286.43,216.83 286.61,216.79 286.79,216.74 286.97,216.70 287.15,216.66 287.33,216.62 287.52,216.58 287.70,216.54 287.88,216.50 288.06,216.47 288.24,216.43 288.42,216.39 288.60,216.36 288.78,216.32 288.96,216.28 289.15,216.25 289.33,216.21 289.51,216.18 289.69,216.15 289.87,216.11 290.05,216.08 290.23,216.04 290.41,216.01 290.59,215.98 290.78,215.94 290.96,215.91 291.14,215.88 291.32,215.85 291.50,215.81 291.68,215.78 291.86,215.75 292.04,215.72 292.23,215.69 292.41,215.66 292.59,215.62 292.77,215.59 292.95,215.56 293.13,215.53 293.31,215.50 293.49,215.47 293.67,215.44 293.86,215.41 294.04,215.38 294.22,215.35 294.40,215.33 294.58,215.30 294.76,215.27 294.94,215.24 295.12,215.21 295.30,215.19 295.49,215.16 295.67,215.13 295.85,215.10 296.03,215.08 296.21,215.05 296.39,215.02 296.57,215.00 296.75,214.97 296.93,214.95 297.12,214.92 297.30,214.90 297.48,214.87 297.66,214.85 297.84,214.82 298.02,214.80 298.20,214.78 298.38,214.75 298.56,214.73 298.75,214.71 298.93,214.69 299.11,214.66 299.29,214.64 299.47,214.62 299.65,214.60 299.83,214.58 300.01,214.56 300.20,214.54 300.38,214.52 300.56,214.50 300.74,214.48 300.92,214.46 301.10,214.44 301.28,214.42 301.46,214.40 301.64,214.38 301.83,214.37 302.01,214.35 302.19,214.33 302.37,214.31 302.55,214.29 302.73,214.28 302.91,214.26 303.09,214.24 303.27,214.22 303.46,214.21 303.64,214.19 303.82,214.17 304.00,214.15 304.18,214.14 304.36,214.12 304.54,214.10 304.72,214.08 304.90,214.07 305.09,214.05 305.27,214.03 305.45,214.02 305.63,214.00 305.81,213.99 305.99,213.97 306.17,213.95 306.35,213.94 306.53,213.92 306.72,213.91 306.90,213.89 307.08,213.87 307.26,213.86 307.44,213.84 307.62,213.83 307.80,213.81 307.98,213.80 308.16,213.78 308.35,213.77 308.53,213.76 308.71,213.74 308.89,213.73 309.07,213.71 309.25,213.70 309.43,213.69 309.61,213.67 309.80,213.66 309.98,213.65 310.16,213.63 310.34,213.62 310.52,213.61 310.70,213.60 310.88,213.58 311.06,213.57 311.24,213.56 311.43,213.55 311.61,213.54 311.79,213.52 311.97,213.51 312.15,213.50 312.33,213.49 312.51,213.48 312.69,213.47 312.87,213.46 313.06,213.45 313.24,213.44 313.42,213.43 313.60,213.42 313.78,213.41 313.96,213.41 314.14,213.40 314.32,213.39 314.50,213.38 314.69,213.37 314.87,213.36 315.05,213.36 315.23,213.35 315.41,213.34 315.59,213.34 315.77,213.33" fill="none" stroke="#ff2a2a" stroke-width="1.0" stroke-linejoin="round"/>
<polyline points="315.77,213.37 316.02,214.89 316.26,217.66 316.50,221.54 316.74,225.56 316.99,229.45 317.23,233.33 317.47,237.22 317.72,240.99 317.96,244.48 318.20,247.65 318.44,250.58 318.69,253.40 318.93,256.23 319.17,259.11 319.42,261.95 319.66,264.61 319.90,267.05 320.15,269.32 320.39,271.48 320.63,273.64 320.87,275.84 321.12,278.12 321.36,280.41 321.60,282.66 321.85,284.77 322.09,286.69 322.33,288.40 322.57,289.97 322.82,291.43 323.06,292.80 323.30,294.12 323.55,295.41 323.79,296.69 324.03,297.98 324.27,299.30 324.52,300.66 324.76,302.05 325.00,303.42 325.25,304.75 325.49,306.01 325.73,307.17 325.98,308.21 326.22,309.10 326.46,309.87 326.70,310.57 326.95,311.19 327.19,311.73 327.43,312.18 327.68,312.55 327.92,312.85 328.16,313.12 328.40,313.35 328.65,313.55 328.89,313.71 329.13,313.85 329.38,313.97 329.62,314.07 329.86,314.16 330.11,314.24 330.35,314.32 330.59,314.40 330.83,314.48 331.08,314.56 331.32,314.65 331.56,314.73 331.81,314.81 332.05,314.89 332.29,314.98 332.53,315.06 332.78,315.15 333.02,315.24 333.26,315.34 333.51,315.45 333.75,315.56 333.99,315.69 334.23,315.82 334.48,315.96 334.72,316.11 334.96,316.26 335.21,316.42 335.45,316.59 335.69,316.75 335.94,316.91 336.18,317.08 336.42,317.24 336.66,317.41 336.91,317.56 337.15,317.72 337.39,317.86 337.64,318.00 337.88,318.14 338.12,318.26 338.36,318.39 338.61,318.51 338.85,318.63 339.09,318.75 339.34,318.87 339.58,318.99 339.82,319.11 340.07,319.23 340.31,319.34 340.55,319.46 340.79,319.57 341.04,319.68 341.28,319.79 341.52,319.89 341.77,320.00 342.01,320.10 342.25,320.20 342.49,320.30 342.74,320.40 342.98,320.49 343.22,320.58 343.47,320.67 343.71,320.76 343.95,320.84 344.19,320.92 344.44,321.00 344.68,321.07 344.92,321.15 345.17,321.22 345.41,321.30 345.65,321.37 345.90,321.45 346.14,321.52 346.38,321.60 346.62,321.67 346.87,321.74 347.11,321.81 347.35,321.88 347.60,321.95 347.84,322.01 348.08,322.07 348.32,322.13 348.57,322.19 348.81,322.25 349.05,322.30 349.30,322.35 349.54,322.40 349.78,322.44 350.03,322.48 350.27,322.52 350.51,322.55 350.75,322.58 351.00,322.61 351.24,322.63 351.48,322.64 351.73,322.66 351.97,322.68 352.21,322.69 352.45,322.71 352.70,322.73 352.94,322.74 353.18,322.76 353.43,322.77 353.67,322.79 353.91,322.80 354.15,322.81 354.40,322.83 354.64,322.84 354.88,322.85 355.13,322.87 355.37,322.88 355.61,322.89 355.86,322.90 356.10,322.92 356.34,322.93 356.58,322.94 356.83,322.95 357.07,322.96 357.31,322.97 357.56,322.98 357.80,322.99 358.04,323.00 358.28,323.01 358.53,323.02 358.77,323.03 359.01,323.04 359.26,323.05 359.50,323.06 359.74,323.06 359.99,323.07 360.23,323.08 360.47,323.09 360.71,323.10 360.96,323.10 361.20,323.11 361.44,323.12 361.69,323.12 361.93,323.13 362.17,323.14 362.41,323.14 362.66,323.15 362.90,323.16 363.14,323.16 363.39,323.17 363.63,323.17 363.87,323.18 364.11,323.18 364.36,323.19 364.60,323.19 364.84,323.20 365.09,323.20 365.33,323.21 365.57,323.21 365.82,323.22 366.06,323.22 366.30,323.22 366.54,323.23 366.79,323.23 367.03,323.24 367.27,323.24 367.52,323.24 367.76,323.25 368.00,323.25 368.24,323.25 368.49,323.26 368.73,323.26 368.97,323.26 369.22,323.27 369.46,323.27 369.70,323.27 369.95,323.28 370.19,323.28 370.43,323.28 370.67,323.29 370.92,323.29 371.16,323.29 371.40,323.29 371.65,323.30 371.89,323.30 372.13,323.30 372.37,323.30 372.62,323.31 372.86,323.31 373.10,323.31 373.35,323.31 373.59,323.32 373.83,323.32 374.07,323.32 374.32,323.32 374.56,323.33 374.80,323.33 375.05,323.33 375.29,323.33 375.53,323.33 375.78,323.34 376.02,323.34 376.26,323.34 376.50,323.34 376.75,323.34 376.99,323.35 377.23,323.35 377.48,323.35 377.72,323.35 377.96,323.35 378.20,323.36 378.45,323.36 378.69,323.36 378.93,323.36 379.18,323.36 379.42,323.36 379.66,323.37 379.91,323.37 380.15,323.37 380.39,323.37 380.63,323.37 380.88,323.37 381.12,323.38 381.36,323.38 381.61,323.38 381.85,323.38 382.09,323.38 382.33,323.38 382.58,323.39 382.82,323.39 383.06,323.39 383.31,323.39 383.55,323.39 383.79,323.39 384.03,323.40 384.28,323.40 384.52,323.40 384.76,323.40 385.01,323.40 385.25,323.40 385.49,323.41 385.74,323.41 385.98,323.41 386.22,323.41 386.46,323.41 386.71,323.41 386.95,323.42 387.19,323.42 387.44,323.42 387.68,323.42 387.92,323.42 388.16,323.43 388.41,323.43 388.65,323.43 388.89,323.43 389.14,323.43 389.38,323.44 389.62,323.44 389.86,323.44 390.11,323.44 390.35,323.44 390.59,323.45 390.84,323.45 391.08,323.45 391.32,323.45 391.57,323.45 391.81,323.45 392.05,323.46 392.29,323.46 392.54,323.46 392.78,323.46 393.02,323.46 393.27,323.47 393.51,323.47 393.75,323.47 393.99,323.47 394.24,323.47 394.48,323.48 394.72,323.48 394.97,323.48 395.21,323.48 395.45,323.48 395.70,323.48 395.94,323.49 396.18,323.49 396.42,323.49 396.67,323.49 396.91,323.49 397.15,323.50 397.40,323.50 397.64,323.50 397.88,323.50 398.12,323.50 398.37,323.50 398.61,323.51 398.85,323.51 399.10,323.51 399.34,323.51 399.58,323.51 399.82,323.52 400.07,323.52 400.31,323.52 400.55,323.52 400.80,323.52 401.04,323.52 401.28,323.53 401.53,323.53 401.77,323.53 402.01,323.53 402.25,323.53 402.50,323.54 402.74,323.54 402.98,323.54 403.23,323.54 403.47,323.54 403.71,323.54 403.95,323.55 404.20,323.55 404.44,323.55 404.68,323.55 404.93,323.55 405.17,323.55 405.41,323.56 405.66,323.56 405.90,323.56 406.14,323.56 406.38,323.56 406.63,323.57 406.87,323.57 407.11,323.57 407.36,323.57 407.60,323.57 407.84,323.57 408.08,323.58 408.33,323.58 408.57,323.58 408.81,323.58 409.06,323.58 409.30,323.58 409.54,323.59 409.78,323.59 410.03,323.59 410.27,323.59 410.51,323.59 410.76,323.59 411.00,323.60 411.24,323.60 411.49,323.60 411.73,323.60 411.97,323.60 412.21,323.60 412.46,323.61 412.70,323.61" fill="none" stroke="#ff2a2a" stroke-width="1.0" stroke-linejoin="round"/>
<path d="M243.50,332.50V199.10H412.70" fill="none" stroke="#2b2b2b" stroke-width="1.0"/>
<path d="M243.50,332.50H412.70" fill="none" stroke="#2b2b2b" stroke-width="1.0"/>
<path d="M412.70,199.10V332.50" fill="none" stroke="#ff2a2a" stroke-width="1.0"/>
<path d="M243.50,332.50h1.5M243.50,308.25h1.5M243.50,283.99h1.5M243.50,259.74h1.5M243.50,235.48h1.5M243.50,211.23h1.5M243.50,320.37h2.6M243.50,296.12h2.6M243.50,271.86h2.6M243.50,247.61h2.6M243.50,223.35h2.6M243.50,199.10h2.6" stroke="#2b2b2b" stroke-width="0.9" fill="none"/>
<text stroke="#2b2b2b" stroke-width="0.22" x="240.50" y="323.57" font-size="7.6" text-anchor="end" fill="#2b2b2b">0.0</text>
<text stroke="#2b2b2b" stroke-width="0.22" x="240.50" y="299.32" font-size="7.6" text-anchor="end" fill="#2b2b2b">0.5</text>
<text stroke="#2b2b2b" stroke-width="0.22" x="240.50" y="275.06" font-size="7.6" text-anchor="end" fill="#2b2b2b">1.0</text>
<text stroke="#2b2b2b" stroke-width="0.22" x="240.50" y="250.81" font-size="7.6" text-anchor="end" fill="#2b2b2b">1.5</text>
<text stroke="#2b2b2b" stroke-width="0.22" x="240.50" y="226.55" font-size="7.6" text-anchor="end" fill="#2b2b2b">2.0</text>
<text stroke="#2b2b2b" stroke-width="0.22" x="240.50" y="202.30" font-size="7.6" text-anchor="end" fill="#2b2b2b">2.5</text>
<path d="M412.70,332.50h-1.5M412.70,314.71h-1.5M412.70,296.93h-1.5M412.70,279.14h-1.5M412.70,261.35h-1.5M412.70,243.57h-1.5M412.70,225.78h-1.5M412.70,207.99h-1.5M412.70,323.61h-2.6M412.70,305.82h-2.6M412.70,288.03h-2.6M412.70,270.25h-2.6M412.70,252.46h-2.6M412.70,234.67h-2.6M412.70,216.89h-2.6M412.70,199.10h-2.6" stroke="#ff2a2a" stroke-width="0.9" fill="none"/>
<text stroke="#ff2a2a" stroke-width="0.22" x="415.50" y="326.41" font-size="8.2" text-anchor="start" fill="#ff2a2a">0.0</text>
<text stroke="#ff2a2a" stroke-width="0.22" x="415.50" y="308.62" font-size="8.2" text-anchor="start" fill="#ff2a2a">0.2</text>
<text stroke="#ff2a2a" stroke-width="0.22" x="415.50" y="290.83" font-size="8.2" text-anchor="start" fill="#ff2a2a">0.4</text>
<text stroke="#ff2a2a" stroke-width="0.22" x="415.50" y="273.05" font-size="8.2" text-anchor="start" fill="#ff2a2a">0.6</text>
<text stroke="#ff2a2a" stroke-width="0.22" x="415.50" y="255.26" font-size="8.2" text-anchor="start" fill="#ff2a2a">0.8</text>
<text stroke="#ff2a2a" stroke-width="0.22" x="415.50" y="237.47" font-size="8.2" text-anchor="start" fill="#ff2a2a">1.0</text>
<text stroke="#ff2a2a" stroke-width="0.22" x="415.50" y="219.69" font-size="8.2" text-anchor="start" fill="#ff2a2a">1.2</text>
<text stroke="#ff2a2a" stroke-width="0.22" x="415.50" y="201.90" font-size="8.2" text-anchor="start" fill="#ff2a2a">1.4</text>
<path d="M255.59,332.50v-1.5M279.76,332.50v-1.5M303.93,332.50v-1.5M328.10,332.50v-1.5M352.27,332.50v-1.5M376.44,332.50v-1.5M400.61,332.50v-1.5M243.50,332.50v-2.6M267.67,332.50v-2.6M291.84,332.50v-2.6M316.01,332.50v-2.6M340.19,332.50v-2.6M364.36,332.50v-2.6M388.53,332.50v-2.6M412.70,332.50v-2.6" stroke="#2b2b2b" stroke-width="0.9" fill="none"/>
<text stroke="#2b2b2b" stroke-width="0.22" x="243.50" y="342.30" font-size="8.3" text-anchor="middle" fill="#2b2b2b">0</text>
<text stroke="#2b2b2b" stroke-width="0.22" x="267.67" y="342.30" font-size="8.3" text-anchor="middle" fill="#2b2b2b">500</text>
<text stroke="#2b2b2b" stroke-width="0.22" x="291.84" y="342.30" font-size="8.3" text-anchor="middle" fill="#2b2b2b">1000</text>
<text stroke="#2b2b2b" stroke-width="0.22" x="316.01" y="342.30" font-size="8.3" text-anchor="middle" fill="#2b2b2b">1500</text>
<text stroke="#2b2b2b" stroke-width="0.22" x="340.19" y="342.30" font-size="8.3" text-anchor="middle" fill="#2b2b2b">2000</text>
<text stroke="#2b2b2b" stroke-width="0.22" x="364.36" y="342.30" font-size="8.3" text-anchor="middle" fill="#2b2b2b">2500</text>
<text stroke="#2b2b2b" stroke-width="0.22" x="388.53" y="342.30" font-size="8.3" text-anchor="middle" fill="#2b2b2b">3000</text>
<text stroke="#2b2b2b" stroke-width="0.22" x="412.70" y="342.30" font-size="8.3" text-anchor="middle" fill="#2b2b2b">3500</text>
<rect x="254.10" y="305.10" width="53.40" height="22.40" fill="#fff" stroke="#2b2b2b" stroke-width="0.9"/>
<path d="M255.30,310.70h18.20" stroke="#303030" stroke-width="1.1"/>
<text stroke="#2b2b2b" stroke-width="0.22" x="278.20" y="313.90" font-size="9.0" fill="#2b2b2b">Voltage</text>
<path d="M255.30,321.30h18.20" stroke="#ff2a2a" stroke-width="1.1"/>
<text stroke="#2b2b2b" stroke-width="0.22" x="278.20" y="324.50" font-size="9.0" fill="#2b2b2b">Power</text>
<text stroke="#2b2b2b" stroke-width="0.22" x="228.00" y="264.60" font-size="8.5" text-anchor="middle" fill="#2b2b2b" transform="rotate(-90 228.00 264.60)">Voltage/V</text>
<text stroke="#ff2a2a" stroke-width="0.22" x="436.80" y="265.00" font-size="8.7" text-anchor="middle" fill="#ff2a2a" transform="rotate(-90 436.80 265.00)">Power/W</text>
<text stroke="#2b2b2b" stroke-width="0.22" x="330.50" y="353.50" font-size="9.5" text-anchor="middle" fill="#2b2b2b">Time/s</text>
<text stroke="#2b2b2b" stroke-width="0.22" x="233.00" y="361.70" font-size="11.4" text-anchor="middle" fill="#2b2b2b">(b) Run5</text>
<polyline points="41.20,497.42 41.65,496.82 42.09,496.22 42.54,495.63 42.99,495.03 43.44,494.45 43.88,493.86 44.33,493.28 44.78,492.71 45.22,492.13 45.67,491.57 46.12,491.00 46.57,490.45 47.01,489.89 47.46,489.34 47.91,488.80 48.35,488.25 48.80,487.72 49.25,487.18 49.70,486.65 50.14,486.12 50.59,485.59 51.04,485.06 51.48,484.54 51.93,484.02 52.38,483.50 52.83,482.98 53.27,482.47 53.72,481.95 54.17,481.44 54.61,480.92 55.06,480.41 55.51,479.90 55.95,479.39 56.40,478.88 56.85,478.38 57.30,477.87 57.74,477.37 58.19,476.87 58.64,476.36 59.08,475.86 59.53,475.37 59.98,474.87 60.43,474.37 60.87,473.88 61.32,473.38 61.77,472.89 62.21,472.40 62.66,471.91 63.11,471.42 63.56,470.93 64.00,470.44 64.45,469.95 64.90,469.46 65.34,468.97 65.79,468.48 66.24,467.99 66.69,467.50 67.13,467.00 67.58,466.51 68.03,466.02 68.47,465.53 68.92,465.03 69.37,464.54 69.82,464.05 70.26,463.55 70.71,463.06 71.16,462.57 71.60,462.08 72.05,461.59 72.50,461.10 72.95,460.61 73.39,460.12 73.84,459.64 74.29,459.16 74.73,458.67 75.18,458.20 75.63,457.72 76.08,457.24 76.52,456.77 76.97,456.30 77.42,455.83 77.86,455.37 78.31,454.90 78.76,454.45 79.21,453.99 79.65,453.54 80.10,453.09 80.55,452.64 80.99,452.20 81.44,451.77 81.89,451.33 82.33,450.90 82.78,450.48 83.23,450.06 83.68,449.64 84.12,449.22 84.57,448.81 85.02,448.40 85.46,448.00 85.91,447.59 86.36,447.20 86.81,446.80 87.25,446.40 87.70,446.01 88.15,445.62 88.59,445.23 89.04,444.85 89.49,444.47 89.94,444.09 90.38,443.71 90.83,443.33 91.28,442.96 91.72,442.59 92.17,442.22 92.62,441.85 93.07,441.48 93.51,441.12 93.96,440.75 94.41,440.39 94.85,440.03 95.30,439.68 95.75,439.32 96.20,438.96 96.64,438.61 97.09,438.26 97.54,437.90 97.98,437.55 98.43,437.21 98.88,436.86 99.33,436.51 99.77,436.17 100.22,435.83 100.67,435.48 101.11,435.15 101.56,434.81 102.01,434.48 102.46,434.14 102.90,433.82 103.35,433.49 103.80,433.16 104.24,432.84 104.69,432.52 105.14,432.21 105.58,431.89 106.03,431.58 106.48,431.27 106.93,430.96 107.37,430.65 107.82,430.35 108.27,430.04 108.71,429.74 109.16,429.43 109.61,429.13 110.06,428.83 110.50,428.53 110.95,428.23 111.40,427.93 111.84,427.63 112.29,427.33 112.74,427.04 113.19,426.74 113.63,426.45 114.08,426.16 114.53,425.87 114.97,425.58 115.42,425.29 115.87,425.00 116.32,424.72 116.76,424.43 117.21,424.15 117.66,423.87 118.10,423.60 118.55,423.32 119.00,423.05 119.45,422.77 119.89,422.50 120.34,422.23 120.79,421.97 121.23,421.71 121.68,421.44 122.13,421.18 122.58,420.93 123.02,420.67 123.47,420.42 123.92,420.17 124.36,419.92 124.81,419.67 125.26,419.43 125.71,419.19 126.15,418.95 126.60,418.71 127.05,418.47 127.49,418.24 127.94,418.00 128.39,417.77 128.84,417.54 129.28,417.31 129.73,417.08 130.18,416.86 130.62,416.64 131.07,416.41 131.52,416.19 131.96,415.98 132.41,415.76 132.86,415.54 133.31,415.33 133.75,415.12 134.20,414.91 134.65,414.70 135.09,414.49 135.54,414.28 135.99,414.08 136.44,413.88 136.88,413.68 137.33,413.48 137.78,413.28 138.22,413.08 138.67,412.88 139.12,412.69 139.57,412.49 140.01,412.30 140.46,412.11 140.91,411.92 141.35,411.73 141.80,411.55 142.25,411.36 142.70,411.18 143.14,410.99 143.59,410.81 144.04,410.63 144.48,410.45 144.93,410.28 145.38,410.10 145.83,409.93 146.27,409.76 146.72,409.59 147.17,409.42 147.61,409.26 148.06,409.09 148.51,408.93 148.96,408.77 149.40,408.61 149.85,408.46 150.30,408.30 150.74,408.15 151.19,407.99 151.64,407.84 152.09,407.69 152.53,407.54 152.98,407.39 153.43,407.25 153.87,407.10 154.32,406.96 154.77,406.81 155.22,406.67 155.66,406.53 156.11,406.40 156.56,406.26 157.00,406.13 157.45,406.00 157.90,405.87 158.34,405.74 158.79,405.62 159.24,405.50 159.69,405.39 160.13,405.27 160.58,405.16 161.03,405.05 161.47,404.95 161.92,404.85 162.37,404.75 162.82,404.65 163.26,404.55 163.71,404.46 164.16,404.37 164.60,404.28 165.05,404.19 165.50,404.10 165.95,404.01 166.39,403.93 166.84,403.84 167.29,403.76 167.73,403.68 168.18,403.60 168.63,403.52 169.08,403.44 169.52,403.37 169.97,403.29 170.42,403.22 170.86,403.14 171.31,403.07 171.76,403.00 172.21,402.93 172.65,402.85 173.10,402.78 173.55,402.71 173.99,402.64 174.44,402.58 174.89,402.51 175.34,402.44 175.78,402.37 176.23,402.30 176.68,402.24 177.12,402.17 177.57,402.11 178.02,402.04 178.47,401.98 178.91,401.92 179.36,401.85 179.81,401.79 180.25,401.73 180.70,401.67 181.15,401.61 181.59,401.55 182.04,401.49 182.49,401.43 182.94,401.38 183.38,401.32 183.83,401.26 184.28,401.20 184.72,401.15 185.17,401.09 185.62,401.04 186.07,400.98 186.51,400.93 186.96,400.87 187.41,400.82 187.85,400.76 188.30,400.71 188.75,400.65 189.20,400.60 189.64,400.54 190.09,400.49 190.54,400.44 190.98,400.38 191.43,400.33 191.88,400.27 192.33,400.22 192.77,400.16 193.22,400.11 193.67,400.05 194.11,399.99 194.56,399.94 195.01,399.88 195.46,399.82 195.90,399.76 196.35,399.71 196.80,399.65 197.24,399.59 197.69,399.53 198.14,399.47 198.59,399.41 199.03,399.35 199.48,399.29 199.93,399.23 200.37,399.17 200.82,399.10 201.27,399.04 201.72,398.98 202.16,398.92 202.61,398.86 203.06,398.80 203.50,398.73 203.95,398.67 204.40,398.61 204.85,398.55 205.29,398.49 205.74,398.42 206.19,398.36 206.63,398.30 207.08,398.23 207.53,398.17 207.97,398.11 208.42,398.04 208.87,397.98 209.32,397.92 209.76,397.85 210.21,397.79 210.66,397.73 211.10,397.66 211.55,397.60 212.00,397.53 212.45,397.47 212.89,397.40 213.34,397.34 213.79,397.27 214.23,397.21 214.68,397.14 215.13,397.08 215.58,397.01 216.02,396.95 216.47,396.88 216.92,396.82 217.36,396.75 217.81,396.69 218.26,396.62 218.71,396.55 219.15,396.49 219.60,396.42" fill="none" stroke="#303030" stroke-width="1.0" stroke-linejoin="round"/>
<polyline points="41.20,495.88 41.65,494.97 42.09,494.08 42.54,493.21 42.99,492.36 43.44,491.52 43.88,490.71 44.33,489.92 44.78,489.14 45.22,488.39 45.67,487.65 46.12,486.93 46.57,486.23 47.01,485.54 47.46,484.86 47.91,484.19 48.35,483.54 48.80,482.90 49.25,482.26 49.70,481.64 50.14,481.03 50.59,480.44 51.04,479.85 51.48,479.27 51.93,478.70 52.38,478.15 52.83,477.60 53.27,477.06 53.72,476.53 54.17,476.01 54.61,475.49 55.06,474.98 55.51,474.47 55.95,473.97 56.40,473.46 56.85,472.96 57.30,472.46 57.74,471.96 58.19,471.46 58.64,470.95 59.08,470.44 59.53,469.93 59.98,469.42 60.43,468.90 60.87,468.39 61.32,467.86 61.77,467.34 62.21,466.82 62.66,466.29 63.11,465.77 63.56,465.24 64.00,464.71 64.45,464.18 64.90,463.66 65.34,463.13 65.79,462.60 66.24,462.07 66.69,461.54 67.13,461.02 67.58,460.49 68.03,459.97 68.47,459.45 68.92,458.93 69.37,458.41 69.82,457.89 70.26,457.38 70.71,456.87 71.16,456.36 71.60,455.85 72.05,455.35 72.50,454.85 72.95,454.35 73.39,453.86 73.84,453.37 74.29,452.89 74.73,452.41 75.18,451.94 75.63,451.47 76.08,451.00 76.52,450.54 76.97,450.08 77.42,449.62 77.86,449.17 78.31,448.73 78.76,448.28 79.21,447.84 79.65,447.40 80.10,446.96 80.55,446.53 80.99,446.09 81.44,445.66 81.89,445.24 82.33,444.81 82.78,444.38 83.23,443.96 83.68,443.54 84.12,443.12 84.57,442.71 85.02,442.29 85.46,441.88 85.91,441.47 86.36,441.06 86.81,440.66 87.25,440.25 87.70,439.85 88.15,439.45 88.59,439.05 89.04,438.65 89.49,438.26 89.94,437.87 90.38,437.47 90.83,437.09 91.28,436.70 91.72,436.31 92.17,435.93 92.62,435.54 93.07,435.16 93.51,434.78 93.96,434.41 94.41,434.03 94.85,433.66 95.30,433.28 95.75,432.91 96.20,432.54 96.64,432.18 97.09,431.81 97.54,431.44 97.98,431.08 98.43,430.72 98.88,430.36 99.33,430.00 99.77,429.65 100.22,429.29 100.67,428.94 101.11,428.59 101.56,428.24 102.01,427.90 102.46,427.55 102.90,427.21 103.35,426.87 103.80,426.53 104.24,426.20 104.69,425.86 105.14,425.53 105.58,425.20 106.03,424.88 106.48,424.55 106.93,424.23 107.37,423.91 107.82,423.59 108.27,423.27 108.71,422.96 109.16,422.64 109.61,422.33 110.06,422.02 110.50,421.71 110.95,421.41 111.40,421.10 111.84,420.80 112.29,420.50 112.74,420.20 113.19,419.90 113.63,419.60 114.08,419.31 114.53,419.02 114.97,418.72 115.42,418.43 115.87,418.15 116.32,417.86 116.76,417.58 117.21,417.29 117.66,417.01 118.10,416.73 118.55,416.45 119.00,416.18 119.45,415.90 119.89,415.63 120.34,415.36 120.79,415.09 121.23,414.82 121.68,414.55 122.13,414.29 122.58,414.02 123.02,413.76 123.47,413.50 123.92,413.24 124.36,412.99 124.81,412.73 125.26,412.47 125.71,412.22 126.15,411.97 126.60,411.72 127.05,411.47 127.49,411.22 127.94,410.97 128.39,410.73 128.84,410.48 129.28,410.24 129.73,410.00 130.18,409.76 130.62,409.52 131.07,409.28 131.52,409.05 131.96,408.81 132.41,408.58 132.86,408.34 133.31,408.11 133.75,407.88 134.20,407.65 134.65,407.42 135.09,407.20 135.54,406.97 135.99,406.75 136.44,406.52 136.88,406.30 137.33,406.08 137.78,405.86 138.22,405.64 138.67,405.42 139.12,405.19 139.57,404.97 140.01,404.76 140.46,404.54 140.91,404.32 141.35,404.10 141.80,403.88 142.25,403.67 142.70,403.45 143.14,403.24 143.59,403.03 144.04,402.82 144.48,402.61 144.93,402.41 145.38,402.20 145.83,402.00 146.27,401.81 146.72,401.62 147.17,401.43 147.61,401.24 148.06,401.06 148.51,400.88 148.96,400.70 149.40,400.53 149.85,400.36 150.30,400.19 150.74,400.03 151.19,399.87 151.64,399.71 152.09,399.56 152.53,399.41 152.98,399.26 153.43,399.11 153.87,398.96 154.32,398.82 154.77,398.67 155.22,398.53 155.66,398.39 156.11,398.26 156.56,398.12 157.00,397.99 157.45,397.86 157.90,397.74 158.34,397.61 158.79,397.49 159.24,397.37 159.69,397.25 160.13,397.14 160.58,397.03 161.03,396.92 161.47,396.81 161.92,396.71 162.37,396.60 162.82,396.50 163.26,396.40 163.71,396.31 164.16,396.21 164.60,396.12 165.05,396.03 165.50,395.94 165.95,395.86 166.39,395.77 166.84,395.68 167.29,395.60 167.73,395.52 168.18,395.44 168.63,395.36 169.08,395.28 169.52,395.20 169.97,395.12 170.42,395.05 170.86,394.97 171.31,394.90 171.76,394.82 172.21,394.75 172.65,394.67 173.10,394.60 173.55,394.53 173.99,394.46 174.44,394.38 174.89,394.31 175.34,394.24 175.78,394.16 176.23,394.09 176.68,394.02 177.12,393.95 177.57,393.88 178.02,393.81 178.47,393.74 178.91,393.67 179.36,393.60 179.81,393.53 180.25,393.46 180.70,393.39 181.15,393.33 181.59,393.26 182.04,393.19 182.49,393.13 182.94,393.06 183.38,393.00 183.83,392.93 184.28,392.87 184.72,392.80 185.17,392.74 185.62,392.67 186.07,392.61 186.51,392.55 186.96,392.48 187.41,392.42 187.85,392.36 188.30,392.29 188.75,392.23 189.20,392.17 189.64,392.10 190.09,392.04 190.54,391.98 190.98,391.91 191.43,391.85 191.88,391.78 192.33,391.72 192.77,391.66 193.22,391.59 193.67,391.53 194.11,391.46 194.56,391.40 195.01,391.33 195.46,391.27 195.90,391.20 196.35,391.13 196.80,391.07 197.24,391.00 197.69,390.93 198.14,390.86 198.59,390.79 199.03,390.73 199.48,390.66 199.93,390.59 200.37,390.52 200.82,390.45 201.27,390.38 201.72,390.31 202.16,390.24 202.61,390.17 203.06,390.10 203.50,390.03 203.95,389.96 204.40,389.89 204.85,389.82 205.29,389.75 205.74,389.68 206.19,389.61 206.63,389.53 207.08,389.46 207.53,389.39 207.97,389.32 208.42,389.25 208.87,389.18 209.32,389.11 209.76,389.03 210.21,388.96 210.66,388.89 211.10,388.82 211.55,388.74 212.00,388.67 212.45,388.60 212.89,388.53 213.34,388.45 213.79,388.38 214.23,388.31 214.68,388.23 215.13,388.16 215.58,388.09 216.02,388.01 216.47,387.94 216.92,387.87 217.36,387.79 217.81,387.72 218.26,387.64 218.71,387.57 219.15,387.50 219.60,387.42" fill="none" stroke="#ff2a2a" stroke-width="1.0" stroke-linejoin="round"/>
<path d="M41.20,507.20V371.20H219.60" fill="none" stroke="#2b2b2b" stroke-width="1.0"/>
<path d="M41.20,507.20H219.60" fill="none" stroke="#2b2b2b" stroke-width="1.0"/>
<path d="M219.60,371.20V507.20" fill="none" stroke="#2b2b2b" stroke-width="1.0"/>
<path d="M41.20,494.84h1.5M41.20,470.11h1.5M41.20,445.38h1.5M41.20,420.65h1.5M41.20,395.93h1.5M41.20,371.20h1.5M41.20,507.20h2.6M41.20,482.47h2.6M41.20,457.75h2.6M41.20,433.02h2.6M41.20,408.29h2.6M41.20,383.56h2.6" stroke="#2b2b2b" stroke-width="0.9" fill="none"/>
<text stroke="#2b2b2b" stroke-width="0.22" x="38.20" y="510.00" font-size="8.6" text-anchor="end" fill="#2b2b2b">0</text>
<text stroke="#2b2b2b" stroke-width="0.22" x="38.20" y="485.27" font-size="8.6" text-anchor="end" fill="#2b2b2b">50</text>
<text stroke="#2b2b2b" stroke-width="0.22" x="38.20" y="460.55" font-size="8.6" text-anchor="end" fill="#2b2b2b">100</text>
<text stroke="#2b2b2b" stroke-width="0.22" x="38.20" y="435.82" font-size="8.6" text-anchor="end" fill="#2b2b2b">150</text>
<text stroke="#2b2b2b" stroke-width="0.22" x="38.20" y="411.09" font-size="8.6" text-anchor="end" fill="#2b2b2b">200</text>
<text stroke="#2b2b2b" stroke-width="0.22" x="38.20" y="386.36" font-size="8.6" text-anchor="end" fill="#2b2b2b">250</text>
<path d="M61.34,507.20v-1.5M101.61,507.20v-1.5M141.88,507.20v-1.5M182.15,507.20v-1.5M222.42,507.20v-1.5M41.20,507.20v-2.6M81.47,507.20v-2.6M121.74,507.20v-2.6M162.01,507.20v-2.6M202.28,507.20v-2.6" stroke="#2b2b2b" stroke-width="0.9" fill="none"/>
<text stroke="#2b2b2b" stroke-width="0.22" x="41.20" y="517.00" font-size="8.6" text-anchor="middle" fill="#2b2b2b">0</text>
<text stroke="#2b2b2b" stroke-width="0.22" x="81.47" y="517.00" font-size="8.6" text-anchor="middle" fill="#2b2b2b">100</text>
<text stroke="#2b2b2b" stroke-width="0.22" x="121.74" y="517.00" font-size="8.6" text-anchor="middle" fill="#2b2b2b">200</text>
<text stroke="#2b2b2b" stroke-width="0.22" x="162.01" y="517.00" font-size="8.6" text-anchor="middle" fill="#2b2b2b">300</text>
<text stroke="#2b2b2b" stroke-width="0.22" x="202.28" y="517.00" font-size="8.6" text-anchor="middle" fill="#2b2b2b">400</text>
<rect x="46.10" y="373.60" width="35.90" height="23.20" fill="#fff" stroke="#2b2b2b" stroke-width="0.9"/>
<path d="M47.10,379.50h19.50" stroke="#303030" stroke-width="1.1"/>
<text stroke="#2b2b2b" stroke-width="0.22" x="71.00" y="382.70" font-size="9.2" fill="#2b2b2b">T<tspan font-size="7">2</tspan></text>
<path d="M47.10,390.60h19.50" stroke="#ff2a2a" stroke-width="1.1"/>
<text stroke="#2b2b2b" stroke-width="0.22" x="71.00" y="393.80" font-size="9.2" fill="#2b2b2b">T<tspan font-size="7">1</tspan></text>
<text stroke="#2b2b2b" stroke-width="0.22" x="21.20" y="439.20" font-size="8.9" text-anchor="middle" fill="#2b2b2b" transform="rotate(-90 21.20 439.20)">Temperature/°C</text>
<text stroke="#2b2b2b" stroke-width="0.22" x="132.60" y="527.50" font-size="9.5" text-anchor="middle" fill="#2b2b2b">Time/s</text>
<polyline points="248.30,490.18 248.72,490.05 249.14,489.88 249.56,489.67 249.98,489.41 250.40,489.10 250.81,488.73 251.23,488.32 251.65,487.85 252.07,487.35 252.49,486.82 252.91,486.26 253.33,485.70 253.75,485.12 254.17,484.54 254.59,483.94 255.00,483.34 255.42,482.73 255.84,482.10 256.26,481.47 256.68,480.83 257.10,480.19 257.52,479.55 257.94,478.91 258.36,478.28 258.78,477.65 259.20,477.03 259.61,476.41 260.03,475.80 260.45,475.19 260.87,474.59 261.29,474.00 261.71,473.41 262.13,472.81 262.55,472.22 262.97,471.64 263.39,471.05 263.80,470.46 264.22,469.87 264.64,469.28 265.06,468.68 265.48,468.09 265.90,467.49 266.32,466.89 266.74,466.29 267.16,465.68 267.58,465.08 268.00,464.47 268.41,463.86 268.83,463.25 269.25,462.64 269.67,462.03 270.09,461.42 270.51,460.82 270.93,460.22 271.35,459.62 271.77,459.02 272.19,458.43 272.60,457.84 273.02,457.26 273.44,456.69 273.86,456.12 274.28,455.55 274.70,455.00 275.12,454.44 275.54,453.89 275.96,453.35 276.38,452.81 276.80,452.28 277.21,451.75 277.63,451.22 278.05,450.70 278.47,450.18 278.89,449.66 279.31,449.15 279.73,448.64 280.15,448.13 280.57,447.62 280.99,447.12 281.40,446.61 281.82,446.11 282.24,445.62 282.66,445.13 283.08,444.64 283.50,444.16 283.92,443.68 284.34,443.21 284.76,442.75 285.18,442.29 285.60,441.83 286.01,441.37 286.43,440.92 286.85,440.48 287.27,440.03 287.69,439.59 288.11,439.15 288.53,438.71 288.95,438.28 289.37,437.84 289.79,437.41 290.20,436.99 290.62,436.56 291.04,436.14 291.46,435.72 291.88,435.30 292.30,434.88 292.72,434.47 293.14,434.06 293.56,433.65 293.98,433.24 294.40,432.83 294.81,432.43 295.23,432.03 295.65,431.63 296.07,431.23 296.49,430.84 296.91,430.45 297.33,430.06 297.75,429.67 298.17,429.28 298.59,428.90 299.00,428.51 299.42,428.13 299.84,427.76 300.26,427.38 300.68,427.00 301.10,426.63 301.52,426.26 301.94,425.89 302.36,425.52 302.78,425.15 303.20,424.78 303.61,424.41 304.03,424.04 304.45,423.68 304.87,423.31 305.29,422.95 305.71,422.58 306.13,422.22 306.55,421.86 306.97,421.50 307.39,421.15 307.80,420.79 308.22,420.44 308.64,420.09 309.06,419.74 309.48,419.40 309.90,419.06 310.32,418.72 310.74,418.38 311.16,418.05 311.58,417.72 312.00,417.40 312.41,417.08 312.83,416.76 313.25,416.45 313.67,416.14 314.09,415.83 314.51,415.53 314.93,415.23 315.35,414.94 315.77,414.64 316.19,414.35 316.60,414.07 317.02,413.78 317.44,413.50 317.86,413.22 318.28,412.94 318.70,412.67 319.12,412.40 319.54,412.13 319.96,411.86 320.38,411.59 320.80,411.33 321.21,411.07 321.63,410.81 322.05,410.55 322.47,410.29 322.89,410.04 323.31,409.79 323.73,409.53 324.15,409.28 324.57,409.03 324.99,408.79 325.40,408.54 325.82,408.30 326.24,408.05 326.66,407.81 327.08,407.58 327.50,407.34 327.92,407.10 328.34,406.87 328.76,406.64 329.18,406.41 329.60,406.18 330.01,405.95 330.43,405.73 330.85,405.50 331.27,405.28 331.69,405.06 332.11,404.84 332.53,404.62 332.95,404.40 333.37,404.18 333.79,403.97 334.20,403.75 334.62,403.53 335.04,403.32 335.46,403.10 335.88,402.89 336.30,402.67 336.72,402.46 337.14,402.24 337.56,402.03 337.98,401.81 338.40,401.59 338.81,401.38 339.23,401.16 339.65,400.94 340.07,400.72 340.49,400.50 340.91,400.27 341.33,400.05 341.75,399.83 342.17,399.61 342.59,399.38 343.00,399.16 343.42,398.94 343.84,398.72 344.26,398.50 344.68,398.28 345.10,398.06 345.52,397.85 345.94,397.63 346.36,397.42 346.78,397.21 347.20,397.01 347.61,396.80 348.03,396.61 348.45,396.41 348.87,396.22 349.29,396.03 349.71,395.84 350.13,395.66 350.55,395.48 350.97,395.30 351.39,395.13 351.80,394.95 352.22,394.78 352.64,394.61 353.06,394.45 353.48,394.28 353.90,394.12 354.32,393.96 354.74,393.81 355.16,393.66 355.58,393.51 356.00,393.36 356.41,393.22 356.83,393.08 357.25,392.94 357.67,392.81 358.09,392.68 358.51,392.56 358.93,392.44 359.35,392.32 359.77,392.20 360.19,392.08 360.60,391.97 361.02,391.86 361.44,391.75 361.86,391.65 362.28,391.54 362.70,391.44 363.12,391.34 363.54,391.24 363.96,391.15 364.38,391.05 364.80,390.96 365.21,390.86 365.63,390.77 366.05,390.68 366.47,390.59 366.89,390.51 367.31,390.42 367.73,390.34 368.15,390.25 368.57,390.17 368.99,390.09 369.40,390.01 369.82,389.94 370.24,389.86 370.66,389.78 371.08,389.71 371.50,389.63 371.92,389.56 372.34,389.48 372.76,389.41 373.18,389.33 373.60,389.26 374.01,389.18 374.43,389.11 374.85,389.03 375.27,388.95 375.69,388.88 376.11,388.80 376.53,388.73 376.95,388.65 377.37,388.57 377.79,388.50 378.20,388.42 378.62,388.35 379.04,388.28 379.46,388.20 379.88,388.13 380.30,388.06 380.72,387.99 381.14,387.92 381.56,387.86 381.98,387.79 382.40,387.72 382.81,387.66 383.23,387.60 383.65,387.54 384.07,387.48 384.49,387.42 384.91,387.36 385.33,387.30 385.75,387.24 386.17,387.19 386.59,387.13 387.00,387.08 387.42,387.02 387.84,386.97 388.26,386.91 388.68,386.86 389.10,386.80 389.52,386.74 389.94,386.69 390.36,386.63 390.78,386.57 391.20,386.51 391.61,386.45 392.03,386.39 392.45,386.32 392.87,386.26 393.29,386.19 393.71,386.12 394.13,386.05 394.55,385.98 394.97,385.90 395.39,385.82 395.80,385.74 396.22,385.66 396.64,385.58 397.06,385.49 397.48,385.40 397.90,385.32 398.32,385.23 398.74,385.14 399.16,385.05 399.58,384.95 400.00,384.86 400.41,384.77 400.83,384.68 401.25,384.59 401.67,384.51 402.09,384.42 402.51,384.33 402.93,384.25 403.35,384.17 403.77,384.08 404.19,384.00 404.60,383.93 405.02,383.85 405.44,383.77 405.86,383.70 406.28,383.62 406.70,383.55 407.12,383.48 407.54,383.40 407.96,383.33 408.38,383.26 408.80,383.19 409.21,383.12 409.63,383.05 410.05,382.98 410.47,382.90 410.89,382.83 411.31,382.76 411.73,382.69 412.15,382.61 412.57,382.54 412.99,382.46 413.40,382.39 413.82,382.31 414.24,382.23 414.66,382.16 415.08,382.08 415.50,381.99" fill="none" stroke="#303030" stroke-width="1.0" stroke-linejoin="round"/>
<polyline points="248.30,496.59 248.72,496.59 249.14,496.58 249.56,496.58 249.98,496.57 250.40,496.55 250.81,496.53 251.23,496.50 251.65,496.46 252.07,496.41 252.49,496.35 252.91,496.29 253.33,496.22 253.75,496.14 254.17,496.06 254.59,495.97 255.00,495.88 255.42,495.78 255.84,495.67 256.26,495.56 256.68,495.44 257.10,495.30 257.52,495.16 257.94,495.01 258.36,494.86 258.78,494.70 259.20,494.55 259.61,494.39 260.03,494.24 260.45,494.09 260.87,493.95 261.29,493.80 261.71,493.65 262.13,493.49 262.55,493.32 262.97,493.13 263.39,492.93 263.80,492.71 264.22,492.48 264.64,492.22 265.06,491.95 265.48,491.68 265.90,491.40 266.32,491.12 266.74,490.84 267.16,490.56 267.58,490.28 268.00,490.01 268.41,489.73 268.83,489.45 269.25,489.17 269.67,488.88 270.09,488.59 270.51,488.30 270.93,487.99 271.35,487.69 271.77,487.37 272.19,487.05 272.60,486.72 273.02,486.38 273.44,486.04 273.86,485.69 274.28,485.34 274.70,484.98 275.12,484.61 275.54,484.24 275.96,483.86 276.38,483.47 276.80,483.07 277.21,482.67 277.63,482.25 278.05,481.82 278.47,481.38 278.89,480.94 279.31,480.49 279.73,480.05 280.15,479.61 280.57,479.18 280.99,478.77 281.40,478.36 281.82,477.95 282.24,477.56 282.66,477.16 283.08,476.77 283.50,476.39 283.92,476.00 284.34,475.61 284.76,475.22 285.18,474.82 285.60,474.43 286.01,474.02 286.43,473.62 286.85,473.21 287.27,472.81 287.69,472.39 288.11,471.98 288.53,471.57 288.95,471.15 289.37,470.73 289.79,470.30 290.20,469.87 290.62,469.44 291.04,469.00 291.46,468.55 291.88,468.10 292.30,467.64 292.72,467.17 293.14,466.70 293.56,466.23 293.98,465.75 294.40,465.28 294.81,464.81 295.23,464.35 295.65,463.88 296.07,463.42 296.49,462.96 296.91,462.50 297.33,462.05 297.75,461.59 298.17,461.14 298.59,460.69 299.00,460.23 299.42,459.78 299.84,459.34 300.26,458.89 300.68,458.44 301.10,457.99 301.52,457.55 301.94,457.10 302.36,456.66 302.78,456.22 303.20,455.78 303.61,455.34 304.03,454.90 304.45,454.46 304.87,454.02 305.29,453.58 305.71,453.15 306.13,452.71 306.55,452.27 306.97,451.82 307.39,451.38 307.80,450.94 308.22,450.50 308.64,450.05 309.06,449.61 309.48,449.16 309.90,448.72 310.32,448.27 310.74,447.83 311.16,447.38 311.58,446.93 312.00,446.49 312.41,446.05 312.83,445.60 313.25,445.16 313.67,444.72 314.09,444.28 314.51,443.84 314.93,443.40 315.35,442.96 315.77,442.53 316.19,442.09 316.60,441.66 317.02,441.23 317.44,440.80 317.86,440.38 318.28,439.95 318.70,439.53 319.12,439.11 319.54,438.69 319.96,438.27 320.38,437.86 320.80,437.44 321.21,437.03 321.63,436.63 322.05,436.22 322.47,435.82 322.89,435.42 323.31,435.03 323.73,434.63 324.15,434.25 324.57,433.86 324.99,433.48 325.40,433.10 325.82,432.72 326.24,432.34 326.66,431.97 327.08,431.59 327.50,431.21 327.92,430.82 328.34,430.44 328.76,430.05 329.18,429.65 329.60,429.26 330.01,428.87 330.43,428.47 330.85,428.08 331.27,427.69 331.69,427.30 332.11,426.91 332.53,426.53 332.95,426.15 333.37,425.77 333.79,425.40 334.20,425.02 334.62,424.65 335.04,424.28 335.46,423.91 335.88,423.55 336.30,423.18 336.72,422.82 337.14,422.45 337.56,422.09 337.98,421.73 338.40,421.38 338.81,421.02 339.23,420.67 339.65,420.32 340.07,419.97 340.49,419.62 340.91,419.27 341.33,418.93 341.75,418.59 342.17,418.25 342.59,417.92 343.00,417.59 343.42,417.26 343.84,416.94 344.26,416.61 344.68,416.29 345.10,415.96 345.52,415.64 345.94,415.32 346.36,414.99 346.78,414.67 347.20,414.34 347.61,414.01 348.03,413.67 348.45,413.33 348.87,412.99 349.29,412.64 349.71,412.28 350.13,411.92 350.55,411.56 350.97,411.20 351.39,410.83 351.80,410.47 352.22,410.11 352.64,409.76 353.06,409.41 353.48,409.07 353.90,408.74 354.32,408.43 354.74,408.12 355.16,407.82 355.58,407.53 356.00,407.25 356.41,406.98 356.83,406.72 357.25,406.46 357.67,406.22 358.09,405.98 358.51,405.74 358.93,405.52 359.35,405.30 359.77,405.09 360.19,404.88 360.60,404.68 361.02,404.49 361.44,404.30 361.86,404.12 362.28,403.94 362.70,403.77 363.12,403.61 363.54,403.44 363.96,403.29 364.38,403.14 364.80,402.99 365.21,402.84 365.63,402.70 366.05,402.57 366.47,402.43 366.89,402.30 367.31,402.16 367.73,402.03 368.15,401.90 368.57,401.77 368.99,401.63 369.40,401.50 369.82,401.36 370.24,401.23 370.66,401.09 371.08,400.95 371.50,400.81 371.92,400.67 372.34,400.53 372.76,400.39 373.18,400.25 373.60,400.11 374.01,399.97 374.43,399.83 374.85,399.69 375.27,399.55 375.69,399.41 376.11,399.27 376.53,399.13 376.95,398.99 377.37,398.85 377.79,398.71 378.20,398.57 378.62,398.43 379.04,398.29 379.46,398.15 379.88,398.01 380.30,397.88 380.72,397.74 381.14,397.60 381.56,397.46 381.98,397.33 382.40,397.19 382.81,397.06 383.23,396.92 383.65,396.79 384.07,396.66 384.49,396.53 384.91,396.40 385.33,396.27 385.75,396.14 386.17,396.02 386.59,395.89 387.00,395.76 387.42,395.63 387.84,395.50 388.26,395.37 388.68,395.24 389.10,395.11 389.52,394.98 389.94,394.85 390.36,394.71 390.78,394.57 391.20,394.44 391.61,394.30 392.03,394.15 392.45,394.01 392.87,393.86 393.29,393.71 393.71,393.56 394.13,393.40 394.55,393.24 394.97,393.07 395.39,392.91 395.80,392.73 396.22,392.56 396.64,392.38 397.06,392.20 397.48,392.01 397.90,391.83 398.32,391.64 398.74,391.45 399.16,391.26 399.58,391.07 400.00,390.88 400.41,390.69 400.83,390.50 401.25,390.31 401.67,390.13 402.09,389.94 402.51,389.76 402.93,389.58 403.35,389.40 403.77,389.22 404.19,389.05 404.60,388.87 405.02,388.70 405.44,388.53 405.86,388.36 406.28,388.19 406.70,388.02 407.12,387.86 407.54,387.69 407.96,387.52 408.38,387.36 408.80,387.19 409.21,387.03 409.63,386.86 410.05,386.70 410.47,386.54 410.89,386.38 411.31,386.22 411.73,386.06 412.15,385.90 412.57,385.74 412.99,385.58 413.40,385.43 413.82,385.27 414.24,385.12 414.66,384.96 415.08,384.81 415.50,384.66" fill="none" stroke="#ff2a2a" stroke-width="1.0" stroke-linejoin="round"/>
<path d="M248.30,505.90V370.50H415.50" fill="none" stroke="#2b2b2b" stroke-width="1.0"/>
<path d="M248.30,505.90H415.50" fill="none" stroke="#2b2b2b" stroke-width="1.0"/>
<path d="M415.50,370.50V505.90" fill="none" stroke="#ff2a2a" stroke-width="1.0"/>
<path d="M248.30,497.92h1.5M248.30,481.95h1.5M248.30,465.98h1.5M248.30,450.02h1.5M248.30,434.05h1.5M248.30,418.08h1.5M248.30,402.11h1.5M248.30,386.15h1.5M248.30,505.90h2.6M248.30,489.93h2.6M248.30,473.97h2.6M248.30,458.00h2.6M248.30,442.03h2.6M248.30,426.07h2.6M248.30,410.10h2.6M248.30,394.13h2.6M248.30,378.16h2.6" stroke="#2b2b2b" stroke-width="0.9" fill="none"/>
<text stroke="#2b2b2b" stroke-width="0.22" x="245.50" y="508.70" font-size="8.6" text-anchor="end" fill="#2b2b2b">-0.5</text>
<text stroke="#2b2b2b" stroke-width="0.22" x="245.50" y="492.73" font-size="8.6" text-anchor="end" fill="#2b2b2b">0.0</text>
<text stroke="#2b2b2b" stroke-width="0.22" x="245.50" y="476.77" font-size="8.6" text-anchor="end" fill="#2b2b2b">0.5</text>
<text stroke="#2b2b2b" stroke-width="0.22" x="245.50" y="460.80" font-size="8.6" text-anchor="end" fill="#2b2b2b">1.0</text>
<text stroke="#2b2b2b" stroke-width="0.22" x="245.50" y="444.83" font-size="8.6" text-anchor="end" fill="#2b2b2b">1.5</text>
<text stroke="#2b2b2b" stroke-width="0.22" x="245.50" y="428.87" font-size="8.6" text-anchor="end" fill="#2b2b2b">2.0</text>
<text stroke="#2b2b2b" stroke-width="0.22" x="245.50" y="412.90" font-size="8.6" text-anchor="end" fill="#2b2b2b">2.5</text>
<text stroke="#2b2b2b" stroke-width="0.22" x="245.50" y="396.93" font-size="8.6" text-anchor="end" fill="#2b2b2b">3.0</text>
<text stroke="#2b2b2b" stroke-width="0.22" x="245.50" y="380.96" font-size="8.6" text-anchor="end" fill="#2b2b2b">3.5</text>
<path d="M415.50,505.90h-1.5M415.50,486.50h-1.5M415.50,467.10h-1.5M415.50,447.71h-1.5M415.50,428.31h-1.5M415.50,408.91h-1.5M415.50,389.51h-1.5M415.50,496.20h-2.6M415.50,476.80h-2.6M415.50,457.40h-2.6M415.50,438.01h-2.6M415.50,418.61h-2.6M415.50,399.21h-2.6M415.50,379.81h-2.6" stroke="#ff2a2a" stroke-width="0.9" fill="none"/>
<text stroke="#ff2a2a" stroke-width="0.22" x="418.30" y="499.00" font-size="8.6" text-anchor="start" fill="#ff2a2a">0.0</text>
<text stroke="#ff2a2a" stroke-width="0.22" x="418.30" y="479.60" font-size="8.6" text-anchor="start" fill="#ff2a2a">0.5</text>
<text stroke="#ff2a2a" stroke-width="0.22" x="418.30" y="460.20" font-size="8.6" text-anchor="start" fill="#ff2a2a">1.0</text>
<text stroke="#ff2a2a" stroke-width="0.22" x="418.30" y="440.81" font-size="8.6" text-anchor="start" fill="#ff2a2a">1.5</text>
<text stroke="#ff2a2a" stroke-width="0.22" x="418.30" y="421.41" font-size="8.6" text-anchor="start" fill="#ff2a2a">2.0</text>
<text stroke="#ff2a2a" stroke-width="0.22" x="418.30" y="402.01" font-size="8.6" text-anchor="start" fill="#ff2a2a">2.5</text>
<text stroke="#ff2a2a" stroke-width="0.22" x="418.30" y="382.61" font-size="8.6" text-anchor="start" fill="#ff2a2a">3.0</text>
<path d="M267.17,505.90v-1.5M304.91,505.90v-1.5M342.66,505.90v-1.5M380.40,505.90v-1.5M418.14,505.90v-1.5M248.30,505.90v-2.6M286.04,505.90v-2.6M323.79,505.90v-2.6M361.53,505.90v-2.6M399.27,505.90v-2.6" stroke="#2b2b2b" stroke-width="0.9" fill="none"/>
<text stroke="#2b2b2b" stroke-width="0.22" x="248.30" y="515.70" font-size="8.6" text-anchor="middle" fill="#2b2b2b">0</text>
<text stroke="#2b2b2b" stroke-width="0.22" x="286.04" y="515.70" font-size="8.6" text-anchor="middle" fill="#2b2b2b">100</text>
<text stroke="#2b2b2b" stroke-width="0.22" x="323.79" y="515.70" font-size="8.6" text-anchor="middle" fill="#2b2b2b">200</text>
<text stroke="#2b2b2b" stroke-width="0.22" x="361.53" y="515.70" font-size="8.6" text-anchor="middle" fill="#2b2b2b">300</text>
<text stroke="#2b2b2b" stroke-width="0.22" x="399.27" y="515.70" font-size="8.6" text-anchor="middle" fill="#2b2b2b">400</text>
<rect x="253.20" y="372.50" width="53.20" height="23.70" fill="#fff" stroke="#2b2b2b" stroke-width="0.9"/>
<path d="M254.20,378.30h18.30" stroke="#303030" stroke-width="1.1"/>
<text stroke="#2b2b2b" stroke-width="0.22" x="277.10" y="381.50" font-size="9.0" fill="#2b2b2b">Voltage</text>
<path d="M254.20,389.30h18.30" stroke="#ff2a2a" stroke-width="1.1"/>
<text stroke="#2b2b2b" stroke-width="0.22" x="277.10" y="392.50" font-size="9.0" fill="#2b2b2b">Power</text>
<text stroke="#2b2b2b" stroke-width="0.22" x="229.60" y="438.80" font-size="8.5" text-anchor="middle" fill="#2b2b2b" transform="rotate(-90 229.60 438.80)">Voltage/V</text>
<text stroke="#ff2a2a" stroke-width="0.22" x="438.90" y="436.40" font-size="8.7" text-anchor="middle" fill="#ff2a2a" transform="rotate(-90 438.90 436.40)">Power/W</text>
<text stroke="#2b2b2b" stroke-width="0.22" x="332.00" y="528.50" font-size="9.5" text-anchor="middle" fill="#2b2b2b">Time/s</text>
<text stroke="#2b2b2b" stroke-width="0.22" x="235.50" y="537.50" font-size="11.4" text-anchor="middle" fill="#2b2b2b">(c) Run16</text>
</svg>
</body></html>
